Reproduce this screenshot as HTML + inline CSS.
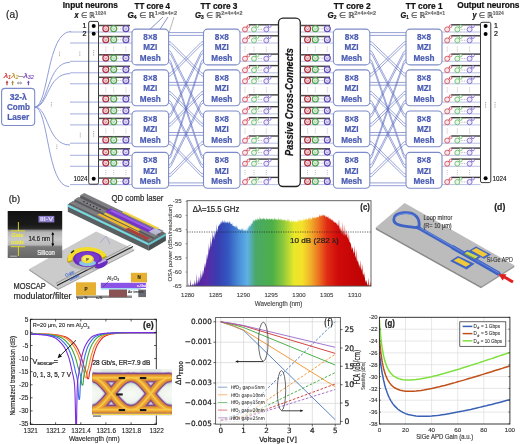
<!DOCTYPE html>
<html><head><meta charset="utf-8"><title>Tensor-train photonic neural network</title>
<style>
html,body{margin:0;padding:0;background:#fff;overflow:hidden;}
svg{display:block;}
svg text{font-family:"Liberation Sans","DejaVu Sans",sans-serif;}
</style></head><body>
<svg width="520" height="444" viewBox="0 0 520 444">
<rect width="520" height="444" fill="#fff"/>
<text x="6.1" y="18.4" font-size="10.4" fill="#2a2a2a" font-weight="normal" font-style="normal" text-anchor="start" textLength="12.4" lengthAdjust="spacingAndGlyphs"  stroke="#2a2a2a" stroke-width="0.22">(a)</text>
<text x="62.8" y="8.3" font-size="8.3" fill="#111" font-weight="bold" font-style="normal" text-anchor="start" textLength="55" lengthAdjust="spacingAndGlyphs"  stroke="#111" stroke-width="0.22">Input neurons</text>
<text x="74.6" y="17.6" font-size="8.2" fill="#111" font-weight="bold" textLength="31.4" lengthAdjust="spacingAndGlyphs" stroke="#111" stroke-width="0.22"><tspan font-style="italic">x</tspan><tspan font-weight="normal" fill="#555" stroke="#555" stroke-width="0.22"> ∈ ℝ</tspan><tspan font-size="5.6" dy="-3" fill="#666" stroke="#666" stroke-width="0.12">1024</tspan></text>
<text x="134.5" y="8.6" font-size="8.2" fill="#111" font-weight="bold" font-style="normal" text-anchor="start" textLength="35.5" lengthAdjust="spacingAndGlyphs"  stroke="#111" stroke-width="0.22">TT core 4</text>
<text x="127.5" y="17.6" font-size="8.2" fill="#111" font-weight="bold" textLength="49.5" lengthAdjust="spacingAndGlyphs" stroke="#111" stroke-width="0.22"><tspan font-style="italic">G</tspan><tspan font-size="5" dy="1.5">4</tspan><tspan dy="-1.5" font-weight="normal" fill="#555" stroke="#555" stroke-width="0.22"> ∈ ℝ</tspan><tspan font-size="5.6" dy="-3" fill="#666" stroke="#666" stroke-width="0.12">1×8×4×2</tspan></text>
<text x="200.5" y="8.6" font-size="8.2" fill="#111" font-weight="bold" font-style="normal" text-anchor="start" textLength="37.0" lengthAdjust="spacingAndGlyphs"  stroke="#111" stroke-width="0.22">TT core 3</text>
<text x="195" y="17.6" font-size="8.2" fill="#111" font-weight="bold" textLength="47.5" lengthAdjust="spacingAndGlyphs" stroke="#111" stroke-width="0.22"><tspan font-style="italic">G</tspan><tspan font-size="5" dy="1.5">3</tspan><tspan dy="-1.5" font-weight="normal" fill="#555" stroke="#555" stroke-width="0.22"> ∈ ℝ</tspan><tspan font-size="5.6" dy="-3" fill="#666" stroke="#666" stroke-width="0.12">2×4×4×2</tspan></text>
<text x="333.7" y="8.6" font-size="8.2" fill="#111" font-weight="bold" font-style="normal" text-anchor="start" textLength="37.0" lengthAdjust="spacingAndGlyphs"  stroke="#111" stroke-width="0.22">TT core 2</text>
<text x="327.5" y="17.6" font-size="8.2" fill="#111" font-weight="bold" textLength="48.5" lengthAdjust="spacingAndGlyphs" stroke="#111" stroke-width="0.22"><tspan font-style="italic">G</tspan><tspan font-size="5" dy="1.5">2</tspan><tspan dy="-1.5" font-weight="normal" fill="#555" stroke="#555" stroke-width="0.22"> ∈ ℝ</tspan><tspan font-size="5.6" dy="-3" fill="#666" stroke="#666" stroke-width="0.12">2×4×4×2</tspan></text>
<text x="405.7" y="8.6" font-size="8.2" fill="#111" font-weight="bold" font-style="normal" text-anchor="start" textLength="36.80000000000001" lengthAdjust="spacingAndGlyphs"  stroke="#111" stroke-width="0.22">TT core 1</text>
<text x="400.5" y="17.6" font-size="8.2" fill="#111" font-weight="bold" textLength="44.5" lengthAdjust="spacingAndGlyphs" stroke="#111" stroke-width="0.22"><tspan font-style="italic">G</tspan><tspan font-size="5" dy="1.5">1</tspan><tspan dy="-1.5" font-weight="normal" fill="#555" stroke="#555" stroke-width="0.22"> ∈ ℝ</tspan><tspan font-size="5.6" dy="-3" fill="#666" stroke="#666" stroke-width="0.12">2×4×8×1</tspan></text>
<text x="457.2" y="7.6" font-size="8.3" fill="#111" font-weight="bold" font-style="normal" text-anchor="start"  stroke="#111" stroke-width="0.22">Output neurons</text>
<text x="472.4" y="17.6" font-size="8.2" fill="#111" font-weight="bold" textLength="31.4" lengthAdjust="spacingAndGlyphs" stroke="#111" stroke-width="0.22"><tspan font-style="italic">y</tspan><tspan font-weight="normal" fill="#555" stroke="#555" stroke-width="0.22"> ∈ ℝ</tspan><tspan font-size="5.6" dy="-3" fill="#666" stroke="#666" stroke-width="0.12">1024</tspan></text>
<line x1="163" y1="17" x2="144.5" y2="34.5" stroke="#5060b0" stroke-width="0.7"/>
<line x1="168" y1="17" x2="156.5" y2="34.5" stroke="#5060b0" stroke-width="0.7"/>
<circle cx="144.8" cy="34.3" r="0.9" fill="#3848a0"/><circle cx="156.6" cy="34.3" r="0.9" fill="#3848a0"/>
<path d="M174,17 L169,33" stroke="#999" stroke-width="0.7" fill="none"/>
<rect x="1.6" y="88.4" width="33.1" height="37.1" rx="3.5" fill="#fff" stroke="#7d8cc8" stroke-width="1.1"/>
<text x="18.3" y="100.2" font-size="8.4" fill="#4b5db3" font-weight="bold" font-style="normal" text-anchor="middle" textLength="17" lengthAdjust="spacingAndGlyphs"  stroke="#4b5db3" stroke-width="0.22">32-λ</text>
<text x="18.5" y="110.0" font-size="8.4" fill="#4b5db3" font-weight="bold" font-style="normal" text-anchor="middle" textLength="23" lengthAdjust="spacingAndGlyphs"  stroke="#4b5db3" stroke-width="0.22">Comb</text>
<text x="18.2" y="120.2" font-size="8.4" fill="#4b5db3" font-weight="bold" font-style="normal" text-anchor="middle" textLength="22.1" lengthAdjust="spacingAndGlyphs"  stroke="#4b5db3" stroke-width="0.22">Laser</text>
<text x="3.8" y="77.6" font-size="8" font-style="italic" textLength="30" lengthAdjust="spacingAndGlyphs"><tspan fill="#d03030" stroke="#d03030" stroke-width="0.22">λ</tspan><tspan fill="#d03030" font-size="5" dy="1" stroke="#d03030" stroke-width="0.12">1</tspan><tspan fill="#c09020" dy="-1" stroke="#c09020" stroke-width="0.22">λ</tspan><tspan fill="#c09020" font-size="5" dy="1" stroke="#c09020" stroke-width="0.12">2</tspan><tspan fill="#666" dy="-1" font-style="normal" stroke="#666" stroke-width="0.22">–</tspan><tspan fill="#7040b0" stroke="#7040b0" stroke-width="0.22">λ</tspan><tspan fill="#7040b0" font-size="5" dy="1" stroke="#7040b0" stroke-width="0.12">32</tspan></text>
<line x1="7" y1="85.2" x2="7" y2="82" stroke="#b03030" stroke-width="1.1"/><path d="M5.6,82.8 L7,80.4 L8.4,82.8 Z" fill="#b03030"/>
<line x1="12.6" y1="85.2" x2="12.6" y2="82" stroke="#a09030" stroke-width="1.1"/><path d="M11.2,82.8 L12.6,80.4 L14.0,82.8 Z" fill="#a09030"/>
<line x1="28.4" y1="85.2" x2="28.4" y2="82" stroke="#7040b0" stroke-width="1.1"/><path d="M27.0,82.8 L28.4,80.4 L29.799999999999997,82.8 Z" fill="#7040b0"/>
<path d="M17.6,83 L21.4,83 M18.6,82 L17.4,83 L18.6,84 M20.4,82 L21.6,83 L20.4,84" stroke="#666" stroke-width="0.7" fill="none"/>
<path d="M34.7,107 C48.7,107 46.7,31.5 71,31.5" fill="none" stroke="#8593d2" stroke-width="0.9"/>
<path d="M34.7,107 C48.7,107 46.7,62.3 70,62.3" fill="none" stroke="#8593d2" stroke-width="0.9"/>
<path d="M34.7,107 C48.7,107 46.7,73.6 70,73.6" fill="none" stroke="#8593d2" stroke-width="0.9"/>
<path d="M34.7,107 C48.7,107 46.7,145 70,145" fill="none" stroke="#8593d2" stroke-width="0.9"/>
<path d="M34.7,107 C48.7,107 46.7,186.6 69,186.6" fill="none" stroke="#8593d2" stroke-width="0.9"/>
<line x1="59.5" y1="51.5" x2="59.5" y2="56.5" stroke="#a09080" stroke-width="0.8" stroke-dasharray="1,0.8"/>
<line x1="79.8" y1="51.5" x2="79.8" y2="56.5" stroke="#a09080" stroke-width="0.8" stroke-dasharray="1,0.8"/>
<line x1="80.3" y1="132.8" x2="80.3" y2="137.8" stroke="#a09080" stroke-width="0.8" stroke-dasharray="1,0.8"/>
<line x1="56.8" y1="144.5" x2="56.8" y2="149.5" stroke="#a09080" stroke-width="0.8" stroke-dasharray="1,0.8"/>
<line x1="51.4" y1="102.0" x2="51.4" y2="107.0" stroke="#a09080" stroke-width="0.8" stroke-dasharray="1,0.8"/>
<line x1="70" y1="32.0" x2="132" y2="32.0" stroke="#8593d2" stroke-width="0.75"/>
<line x1="70" y1="43.0" x2="132" y2="43.0" stroke="#8593d2" stroke-width="0.75"/>
<line x1="70" y1="61.3" x2="132" y2="61.3" stroke="#8593d2" stroke-width="0.75"/>
<line x1="70" y1="72.8" x2="132" y2="72.8" stroke="#8593d2" stroke-width="0.75"/>
<line x1="70" y1="83.8" x2="132" y2="83.8" stroke="#8593d2" stroke-width="0.75"/>
<line x1="70" y1="102.1" x2="132" y2="102.1" stroke="#8593d2" stroke-width="0.75"/>
<line x1="70" y1="113.9" x2="132" y2="113.9" stroke="#8593d2" stroke-width="0.75"/>
<line x1="70" y1="124.9" x2="132" y2="124.9" stroke="#8593d2" stroke-width="0.75"/>
<line x1="70" y1="143.2" x2="132" y2="143.2" stroke="#8593d2" stroke-width="0.75"/>
<line x1="70" y1="155.3" x2="132" y2="155.3" stroke="#8593d2" stroke-width="0.75"/>
<line x1="70" y1="166.3" x2="132" y2="166.3" stroke="#8593d2" stroke-width="0.75"/>
<line x1="70" y1="184.6" x2="132" y2="184.6" stroke="#8593d2" stroke-width="0.75"/>
<line x1="240" y1="32.0" x2="278.5" y2="32.0" stroke="#a0aad8" stroke-width="0.75"/>
<line x1="240" y1="43.0" x2="278.5" y2="43.0" stroke="#a0aad8" stroke-width="0.75"/>
<line x1="240" y1="61.3" x2="278.5" y2="61.3" stroke="#a0aad8" stroke-width="0.75"/>
<line x1="240" y1="72.8" x2="278.5" y2="72.8" stroke="#a0aad8" stroke-width="0.75"/>
<line x1="240" y1="83.8" x2="278.5" y2="83.8" stroke="#a0aad8" stroke-width="0.75"/>
<line x1="240" y1="102.1" x2="278.5" y2="102.1" stroke="#a0aad8" stroke-width="0.75"/>
<line x1="240" y1="113.9" x2="278.5" y2="113.9" stroke="#a0aad8" stroke-width="0.75"/>
<line x1="240" y1="124.9" x2="278.5" y2="124.9" stroke="#a0aad8" stroke-width="0.75"/>
<line x1="240" y1="143.2" x2="278.5" y2="143.2" stroke="#a0aad8" stroke-width="0.75"/>
<line x1="240" y1="155.3" x2="278.5" y2="155.3" stroke="#a0aad8" stroke-width="0.75"/>
<line x1="240" y1="166.3" x2="278.5" y2="166.3" stroke="#a0aad8" stroke-width="0.75"/>
<line x1="240" y1="184.6" x2="278.5" y2="184.6" stroke="#a0aad8" stroke-width="0.75"/>
<line x1="300.3" y1="32.0" x2="333.4" y2="32.0" stroke="#a0aad8" stroke-width="0.75"/>
<line x1="300.3" y1="43.0" x2="333.4" y2="43.0" stroke="#a0aad8" stroke-width="0.75"/>
<line x1="300.3" y1="61.3" x2="333.4" y2="61.3" stroke="#a0aad8" stroke-width="0.75"/>
<line x1="300.3" y1="72.8" x2="333.4" y2="72.8" stroke="#a0aad8" stroke-width="0.75"/>
<line x1="300.3" y1="83.8" x2="333.4" y2="83.8" stroke="#a0aad8" stroke-width="0.75"/>
<line x1="300.3" y1="102.1" x2="333.4" y2="102.1" stroke="#a0aad8" stroke-width="0.75"/>
<line x1="300.3" y1="113.9" x2="333.4" y2="113.9" stroke="#a0aad8" stroke-width="0.75"/>
<line x1="300.3" y1="124.9" x2="333.4" y2="124.9" stroke="#a0aad8" stroke-width="0.75"/>
<line x1="300.3" y1="143.2" x2="333.4" y2="143.2" stroke="#a0aad8" stroke-width="0.75"/>
<line x1="300.3" y1="155.3" x2="333.4" y2="155.3" stroke="#a0aad8" stroke-width="0.75"/>
<line x1="300.3" y1="166.3" x2="333.4" y2="166.3" stroke="#a0aad8" stroke-width="0.75"/>
<line x1="300.3" y1="184.6" x2="333.4" y2="184.6" stroke="#a0aad8" stroke-width="0.75"/>
<line x1="442" y1="32.0" x2="480.5" y2="32.0" stroke="#a0aad8" stroke-width="0.75"/>
<line x1="442" y1="43.0" x2="480.5" y2="43.0" stroke="#a0aad8" stroke-width="0.75"/>
<line x1="442" y1="61.3" x2="480.5" y2="61.3" stroke="#a0aad8" stroke-width="0.75"/>
<line x1="442" y1="72.8" x2="480.5" y2="72.8" stroke="#a0aad8" stroke-width="0.75"/>
<line x1="442" y1="83.8" x2="480.5" y2="83.8" stroke="#a0aad8" stroke-width="0.75"/>
<line x1="442" y1="102.1" x2="480.5" y2="102.1" stroke="#a0aad8" stroke-width="0.75"/>
<line x1="442" y1="113.9" x2="480.5" y2="113.9" stroke="#a0aad8" stroke-width="0.75"/>
<line x1="442" y1="124.9" x2="480.5" y2="124.9" stroke="#a0aad8" stroke-width="0.75"/>
<line x1="442" y1="143.2" x2="480.5" y2="143.2" stroke="#a0aad8" stroke-width="0.75"/>
<line x1="442" y1="155.3" x2="480.5" y2="155.3" stroke="#a0aad8" stroke-width="0.75"/>
<line x1="442" y1="166.3" x2="480.5" y2="166.3" stroke="#a0aad8" stroke-width="0.75"/>
<line x1="442" y1="184.6" x2="480.5" y2="184.6" stroke="#a0aad8" stroke-width="0.75"/>
<line x1="168.6" y1="32.6" x2="203.5" y2="32.6" stroke="#7c8acc" stroke-width="0.8"/>
<line x1="168.6" y1="35.4" x2="203.5" y2="35.4" stroke="#7c8acc" stroke-width="0.8"/>
<path d="M168.6,41.6 Q170.4,41.6 171.2,42.6 L200.9,72.4 Q201.7,73.4 203.5,73.4" fill="none" stroke="#5868c0" stroke-width="0.6"/>
<path d="M168.6,44.4 Q170.4,44.4 171.2,45.4 L200.9,75.2 Q201.7,76.2 203.5,76.2" fill="none" stroke="#5868c0" stroke-width="0.6"/>
<path d="M168.6,50.6 Q170.4,50.6 171.2,52.5 L200.9,112.6 Q201.7,114.5 203.5,114.5" fill="none" stroke="#5868c0" stroke-width="0.6"/>
<path d="M168.6,53.4 Q170.4,53.4 171.2,55.3 L200.9,115.4 Q201.7,117.3 203.5,117.3" fill="none" stroke="#5868c0" stroke-width="0.6"/>
<path d="M168.6,59.6 Q170.4,59.6 171.2,62.5 L200.9,153.0 Q201.7,155.9 203.5,155.9" fill="none" stroke="#5868c0" stroke-width="0.6"/>
<path d="M168.6,62.4 Q170.4,62.4 171.2,65.3 L200.9,155.8 Q201.7,158.7 203.5,158.7" fill="none" stroke="#5868c0" stroke-width="0.6"/>
<path d="M168.6,73.4 Q170.4,73.4 171.2,72.4 L200.9,42.6 Q201.7,41.6 203.5,41.6" fill="none" stroke="#5868c0" stroke-width="0.6"/>
<path d="M168.6,76.2 Q170.4,76.2 171.2,75.2 L200.9,45.4 Q201.7,44.4 203.5,44.4" fill="none" stroke="#5868c0" stroke-width="0.6"/>
<line x1="168.6" y1="82.4" x2="203.5" y2="82.4" stroke="#7c8acc" stroke-width="0.8"/>
<line x1="168.6" y1="85.2" x2="203.5" y2="85.2" stroke="#7c8acc" stroke-width="0.8"/>
<path d="M168.6,91.4 Q170.4,91.4 171.2,92.4 L200.9,122.5 Q201.7,123.5 203.5,123.5" fill="none" stroke="#5868c0" stroke-width="0.6"/>
<path d="M168.6,94.2 Q170.4,94.2 171.2,95.2 L200.9,125.3 Q201.7,126.3 203.5,126.3" fill="none" stroke="#5868c0" stroke-width="0.6"/>
<path d="M168.6,100.4 Q170.4,100.4 171.2,102.3 L200.9,163.0 Q201.7,164.9 203.5,164.9" fill="none" stroke="#5868c0" stroke-width="0.6"/>
<path d="M168.6,103.2 Q170.4,103.2 171.2,105.1 L200.9,165.8 Q201.7,167.7 203.5,167.7" fill="none" stroke="#5868c0" stroke-width="0.6"/>
<path d="M168.6,114.5 Q170.4,114.5 171.2,112.6 L200.9,52.5 Q201.7,50.6 203.5,50.6" fill="none" stroke="#5868c0" stroke-width="0.6"/>
<path d="M168.6,117.3 Q170.4,117.3 171.2,115.4 L200.9,55.3 Q201.7,53.4 203.5,53.4" fill="none" stroke="#5868c0" stroke-width="0.6"/>
<path d="M168.6,123.5 Q170.4,123.5 171.2,122.5 L200.9,92.4 Q201.7,91.4 203.5,91.4" fill="none" stroke="#5868c0" stroke-width="0.6"/>
<path d="M168.6,126.3 Q170.4,126.3 171.2,125.3 L200.9,95.2 Q201.7,94.2 203.5,94.2" fill="none" stroke="#5868c0" stroke-width="0.6"/>
<line x1="168.6" y1="132.5" x2="203.5" y2="132.5" stroke="#7c8acc" stroke-width="0.8"/>
<line x1="168.6" y1="135.3" x2="203.5" y2="135.3" stroke="#7c8acc" stroke-width="0.8"/>
<path d="M168.6,141.5 Q170.4,141.5 171.2,142.5 L200.9,172.9 Q201.7,173.9 203.5,173.9" fill="none" stroke="#5868c0" stroke-width="0.6"/>
<path d="M168.6,144.3 Q170.4,144.3 171.2,145.3 L200.9,175.7 Q201.7,176.7 203.5,176.7" fill="none" stroke="#5868c0" stroke-width="0.6"/>
<path d="M168.6,155.9 Q170.4,155.9 171.2,153.0 L200.9,62.5 Q201.7,59.6 203.5,59.6" fill="none" stroke="#5868c0" stroke-width="0.6"/>
<path d="M168.6,158.7 Q170.4,158.7 171.2,155.8 L200.9,65.3 Q201.7,62.4 203.5,62.4" fill="none" stroke="#5868c0" stroke-width="0.6"/>
<path d="M168.6,164.9 Q170.4,164.9 171.2,163.0 L200.9,102.3 Q201.7,100.4 203.5,100.4" fill="none" stroke="#5868c0" stroke-width="0.6"/>
<path d="M168.6,167.7 Q170.4,167.7 171.2,165.8 L200.9,105.1 Q201.7,103.2 203.5,103.2" fill="none" stroke="#5868c0" stroke-width="0.6"/>
<path d="M168.6,173.9 Q170.4,173.9 171.2,172.9 L200.9,142.5 Q201.7,141.5 203.5,141.5" fill="none" stroke="#5868c0" stroke-width="0.6"/>
<path d="M168.6,176.7 Q170.4,176.7 171.2,175.7 L200.9,145.3 Q201.7,144.3 203.5,144.3" fill="none" stroke="#5868c0" stroke-width="0.6"/>
<line x1="168.6" y1="182.9" x2="203.5" y2="182.9" stroke="#7c8acc" stroke-width="0.8"/>
<line x1="168.6" y1="185.7" x2="203.5" y2="185.7" stroke="#7c8acc" stroke-width="0.8"/>
<line x1="369.8" y1="32.6" x2="406" y2="32.6" stroke="#7c8acc" stroke-width="0.8"/>
<line x1="369.8" y1="35.4" x2="406" y2="35.4" stroke="#7c8acc" stroke-width="0.8"/>
<path d="M369.8,41.6 Q371.6,41.6 372.4,42.6 L403.4,72.4 Q404.2,73.4 406,73.4" fill="none" stroke="#5868c0" stroke-width="0.6"/>
<path d="M369.8,44.4 Q371.6,44.4 372.4,45.4 L403.4,75.2 Q404.2,76.2 406,76.2" fill="none" stroke="#5868c0" stroke-width="0.6"/>
<path d="M369.8,50.6 Q371.6,50.6 372.4,52.5 L403.4,112.6 Q404.2,114.5 406,114.5" fill="none" stroke="#5868c0" stroke-width="0.6"/>
<path d="M369.8,53.4 Q371.6,53.4 372.4,55.3 L403.4,115.4 Q404.2,117.3 406,117.3" fill="none" stroke="#5868c0" stroke-width="0.6"/>
<path d="M369.8,59.6 Q371.6,59.6 372.4,62.5 L403.4,153.0 Q404.2,155.9 406,155.9" fill="none" stroke="#5868c0" stroke-width="0.6"/>
<path d="M369.8,62.4 Q371.6,62.4 372.4,65.3 L403.4,155.8 Q404.2,158.7 406,158.7" fill="none" stroke="#5868c0" stroke-width="0.6"/>
<path d="M369.8,73.4 Q371.6,73.4 372.4,72.4 L403.4,42.6 Q404.2,41.6 406,41.6" fill="none" stroke="#5868c0" stroke-width="0.6"/>
<path d="M369.8,76.2 Q371.6,76.2 372.4,75.2 L403.4,45.4 Q404.2,44.4 406,44.4" fill="none" stroke="#5868c0" stroke-width="0.6"/>
<line x1="369.8" y1="82.4" x2="406" y2="82.4" stroke="#7c8acc" stroke-width="0.8"/>
<line x1="369.8" y1="85.2" x2="406" y2="85.2" stroke="#7c8acc" stroke-width="0.8"/>
<path d="M369.8,91.4 Q371.6,91.4 372.4,92.4 L403.4,122.5 Q404.2,123.5 406,123.5" fill="none" stroke="#5868c0" stroke-width="0.6"/>
<path d="M369.8,94.2 Q371.6,94.2 372.4,95.2 L403.4,125.3 Q404.2,126.3 406,126.3" fill="none" stroke="#5868c0" stroke-width="0.6"/>
<path d="M369.8,100.4 Q371.6,100.4 372.4,102.3 L403.4,163.0 Q404.2,164.9 406,164.9" fill="none" stroke="#5868c0" stroke-width="0.6"/>
<path d="M369.8,103.2 Q371.6,103.2 372.4,105.1 L403.4,165.8 Q404.2,167.7 406,167.7" fill="none" stroke="#5868c0" stroke-width="0.6"/>
<path d="M369.8,114.5 Q371.6,114.5 372.4,112.6 L403.4,52.5 Q404.2,50.6 406,50.6" fill="none" stroke="#5868c0" stroke-width="0.6"/>
<path d="M369.8,117.3 Q371.6,117.3 372.4,115.4 L403.4,55.3 Q404.2,53.4 406,53.4" fill="none" stroke="#5868c0" stroke-width="0.6"/>
<path d="M369.8,123.5 Q371.6,123.5 372.4,122.5 L403.4,92.4 Q404.2,91.4 406,91.4" fill="none" stroke="#5868c0" stroke-width="0.6"/>
<path d="M369.8,126.3 Q371.6,126.3 372.4,125.3 L403.4,95.2 Q404.2,94.2 406,94.2" fill="none" stroke="#5868c0" stroke-width="0.6"/>
<line x1="369.8" y1="132.5" x2="406" y2="132.5" stroke="#7c8acc" stroke-width="0.8"/>
<line x1="369.8" y1="135.3" x2="406" y2="135.3" stroke="#7c8acc" stroke-width="0.8"/>
<path d="M369.8,141.5 Q371.6,141.5 372.4,142.5 L403.4,172.9 Q404.2,173.9 406,173.9" fill="none" stroke="#5868c0" stroke-width="0.6"/>
<path d="M369.8,144.3 Q371.6,144.3 372.4,145.3 L403.4,175.7 Q404.2,176.7 406,176.7" fill="none" stroke="#5868c0" stroke-width="0.6"/>
<path d="M369.8,155.9 Q371.6,155.9 372.4,153.0 L403.4,62.5 Q404.2,59.6 406,59.6" fill="none" stroke="#5868c0" stroke-width="0.6"/>
<path d="M369.8,158.7 Q371.6,158.7 372.4,155.8 L403.4,65.3 Q404.2,62.4 406,62.4" fill="none" stroke="#5868c0" stroke-width="0.6"/>
<path d="M369.8,164.9 Q371.6,164.9 372.4,163.0 L403.4,102.3 Q404.2,100.4 406,100.4" fill="none" stroke="#5868c0" stroke-width="0.6"/>
<path d="M369.8,167.7 Q371.6,167.7 372.4,165.8 L403.4,105.1 Q404.2,103.2 406,103.2" fill="none" stroke="#5868c0" stroke-width="0.6"/>
<path d="M369.8,173.9 Q371.6,173.9 372.4,172.9 L403.4,142.5 Q404.2,141.5 406,141.5" fill="none" stroke="#5868c0" stroke-width="0.6"/>
<path d="M369.8,176.7 Q371.6,176.7 372.4,175.7 L403.4,145.3 Q404.2,144.3 406,144.3" fill="none" stroke="#5868c0" stroke-width="0.6"/>
<line x1="369.8" y1="182.9" x2="406" y2="182.9" stroke="#7c8acc" stroke-width="0.8"/>
<line x1="369.8" y1="185.7" x2="406" y2="185.7" stroke="#7c8acc" stroke-width="0.8"/>
<rect x="88.7" y="21.4" width="9.8" height="162.8" rx="1.5" fill="none" stroke="#3a3a3a" stroke-width="1"/>
<circle cx="93.7" cy="25.9" r="2" fill="#000"/><circle cx="93.7" cy="33.7" r="2" fill="#000"/><circle cx="93.7" cy="178.8" r="2" fill="#000"/>
<text x="84.5" y="28.0" font-size="7" fill="#111" font-weight="normal" font-style="normal" text-anchor="middle"  stroke="#111" stroke-width="0.22">1</text>
<text x="84.5" y="36.3" font-size="7" fill="#111" font-weight="normal" font-style="normal" text-anchor="middle"  stroke="#111" stroke-width="0.22">2</text>
<text x="87.6" y="181.1" font-size="6.3" fill="#111" font-weight="normal" font-style="normal" text-anchor="end"  stroke="#111" stroke-width="0.12">1024</text>
<line x1="93.7" y1="50" x2="93.7" y2="56" stroke="#888" stroke-width="0.8" stroke-dasharray="1,0.8"/>
<line x1="93.7" y1="131" x2="93.7" y2="137" stroke="#888" stroke-width="0.8" stroke-dasharray="1,0.8"/>
<rect x="480.5" y="22.3" width="10.3" height="160.3" rx="1.5" fill="none" stroke="#3a3a3a" stroke-width="1"/>
<circle cx="485.6" cy="25.9" r="2" fill="#000"/><circle cx="485.6" cy="34.0" r="2" fill="#000"/><circle cx="485.6" cy="178.3" r="2" fill="#000"/>
<text x="494.0" y="28.3" font-size="7" fill="#111" font-weight="normal" font-style="normal" text-anchor="start"  stroke="#111" stroke-width="0.22">1</text>
<text x="494.0" y="36.4" font-size="7" fill="#111" font-weight="normal" font-style="normal" text-anchor="start"  stroke="#111" stroke-width="0.22">2</text>
<text x="492.5" y="181.1" font-size="6.3" fill="#111" font-weight="normal" font-style="normal" text-anchor="start"  stroke="#111" stroke-width="0.12">1024</text>
<line x1="485.6" y1="102" x2="485.6" y2="108" stroke="#888" stroke-width="0.8" stroke-dasharray="1,0.8"/>
<line x1="495" y1="102" x2="495" y2="108" stroke="#888" stroke-width="0.8" stroke-dasharray="1,0.8"/>
<rect x="278.5" y="18.1" width="21.8" height="168.4" rx="4.5" fill="#fff" stroke="#222" stroke-width="1.3"/>
<text x="0" y="0" font-size="10.4" font-weight="bold" font-style="italic" fill="#111" text-anchor="middle" textLength="108" lengthAdjust="spacingAndGlyphs" transform="translate(292.6,102) rotate(-90)" stroke="#111" stroke-width="0.22">Passive Cross-Connects</text>
<line x1="98.5" y1="25.5" x2="130" y2="25.5" stroke="#4e4c4c" stroke-width="1.5"/>
<circle cx="105.8" cy="28.8" r="3.0" fill="#f4d4d8" stroke="#a82838" stroke-width="1.05"/><path d="M104.6,28.5 Q105.8,30.4 107.0,28.5" fill="none" stroke="#a82838" stroke-width="0.6" stroke-opacity="0.8"/>
<circle cx="113.7" cy="28.8" r="3.0" fill="#dcf0dc" stroke="#4a9e4a" stroke-width="1.05"/><path d="M112.5,28.5 Q113.7,30.4 114.9,28.5" fill="none" stroke="#4a9e4a" stroke-width="0.6" stroke-opacity="0.8"/>
<circle cx="125.9" cy="28.8" r="3.0" fill="#e2dcf4" stroke="#5a44b0" stroke-width="1.05"/><path d="M124.7,28.5 Q125.9,30.4 127.1,28.5" fill="none" stroke="#5a44b0" stroke-width="0.6" stroke-opacity="0.8"/>
<line x1="117.3" y1="28.8" x2="122.3" y2="28.8" stroke="#b8b8c8" stroke-width="0.8" stroke-dasharray="1.5,1"/>
<line x1="98.5" y1="36.5" x2="130" y2="36.5" stroke="#4e4c4c" stroke-width="1.5"/>
<circle cx="105.8" cy="39.8" r="3.0" fill="#f4d4d8" stroke="#a82838" stroke-width="1.05"/><path d="M104.6,39.5 Q105.8,41.4 107.0,39.5" fill="none" stroke="#a82838" stroke-width="0.6" stroke-opacity="0.8"/>
<circle cx="113.7" cy="39.8" r="3.0" fill="#dcf0dc" stroke="#4a9e4a" stroke-width="1.05"/><path d="M112.5,39.5 Q113.7,41.4 114.9,39.5" fill="none" stroke="#4a9e4a" stroke-width="0.6" stroke-opacity="0.8"/>
<circle cx="125.9" cy="39.8" r="3.0" fill="#e2dcf4" stroke="#5a44b0" stroke-width="1.05"/><path d="M124.7,39.5 Q125.9,41.4 127.1,39.5" fill="none" stroke="#5a44b0" stroke-width="0.6" stroke-opacity="0.8"/>
<line x1="117.3" y1="39.8" x2="122.3" y2="39.8" stroke="#b8b8c8" stroke-width="0.8" stroke-dasharray="1.5,1"/>
<line x1="98.5" y1="54.8" x2="130" y2="54.8" stroke="#4e4c4c" stroke-width="1.5"/>
<circle cx="105.8" cy="58.1" r="3.0" fill="#f4d4d8" stroke="#a82838" stroke-width="1.05"/><path d="M104.6,57.8 Q105.8,59.7 107.0,57.8" fill="none" stroke="#a82838" stroke-width="0.6" stroke-opacity="0.8"/>
<circle cx="113.7" cy="58.1" r="3.0" fill="#dcf0dc" stroke="#4a9e4a" stroke-width="1.05"/><path d="M112.5,57.8 Q113.7,59.7 114.9,57.8" fill="none" stroke="#4a9e4a" stroke-width="0.6" stroke-opacity="0.8"/>
<circle cx="125.9" cy="58.1" r="3.0" fill="#e2dcf4" stroke="#5a44b0" stroke-width="1.05"/><path d="M124.7,57.8 Q125.9,59.7 127.1,57.8" fill="none" stroke="#5a44b0" stroke-width="0.6" stroke-opacity="0.8"/>
<line x1="117.3" y1="58.1" x2="122.3" y2="58.1" stroke="#b8b8c8" stroke-width="0.8" stroke-dasharray="1.5,1"/>
<line x1="105.8" y1="46.6" x2="105.8" y2="52.6" stroke="#a89898" stroke-opacity="0.8" stroke-width="0.8" stroke-dasharray="1,1"/>
<line x1="113.7" y1="46.6" x2="113.7" y2="52.6" stroke="#a89898" stroke-opacity="0.8" stroke-width="0.8" stroke-dasharray="1,1"/>
<line x1="125.9" y1="46.6" x2="125.9" y2="52.6" stroke="#a89898" stroke-opacity="0.8" stroke-width="0.8" stroke-dasharray="1,1"/>
<line x1="98.5" y1="66.3" x2="130" y2="66.3" stroke="#4e4c4c" stroke-width="1.5"/>
<circle cx="105.8" cy="69.6" r="3.0" fill="#f4d4d8" stroke="#a82838" stroke-width="1.05"/><path d="M104.6,69.3 Q105.8,71.2 107.0,69.3" fill="none" stroke="#a82838" stroke-width="0.6" stroke-opacity="0.8"/>
<circle cx="113.7" cy="69.6" r="3.0" fill="#dcf0dc" stroke="#4a9e4a" stroke-width="1.05"/><path d="M112.5,69.3 Q113.7,71.2 114.9,69.3" fill="none" stroke="#4a9e4a" stroke-width="0.6" stroke-opacity="0.8"/>
<circle cx="125.9" cy="69.6" r="3.0" fill="#e2dcf4" stroke="#5a44b0" stroke-width="1.05"/><path d="M124.7,69.3 Q125.9,71.2 127.1,69.3" fill="none" stroke="#5a44b0" stroke-width="0.6" stroke-opacity="0.8"/>
<line x1="117.3" y1="69.6" x2="122.3" y2="69.6" stroke="#b8b8c8" stroke-width="0.8" stroke-dasharray="1.5,1"/>
<line x1="98.5" y1="77.3" x2="130" y2="77.3" stroke="#4e4c4c" stroke-width="1.5"/>
<circle cx="105.8" cy="80.6" r="3.0" fill="#f4d4d8" stroke="#a82838" stroke-width="1.05"/><path d="M104.6,80.3 Q105.8,82.2 107.0,80.3" fill="none" stroke="#a82838" stroke-width="0.6" stroke-opacity="0.8"/>
<circle cx="113.7" cy="80.6" r="3.0" fill="#dcf0dc" stroke="#4a9e4a" stroke-width="1.05"/><path d="M112.5,80.3 Q113.7,82.2 114.9,80.3" fill="none" stroke="#4a9e4a" stroke-width="0.6" stroke-opacity="0.8"/>
<circle cx="125.9" cy="80.6" r="3.0" fill="#e2dcf4" stroke="#5a44b0" stroke-width="1.05"/><path d="M124.7,80.3 Q125.9,82.2 127.1,80.3" fill="none" stroke="#5a44b0" stroke-width="0.6" stroke-opacity="0.8"/>
<line x1="117.3" y1="80.6" x2="122.3" y2="80.6" stroke="#b8b8c8" stroke-width="0.8" stroke-dasharray="1.5,1"/>
<line x1="98.5" y1="95.6" x2="130" y2="95.6" stroke="#4e4c4c" stroke-width="1.5"/>
<circle cx="105.8" cy="98.9" r="3.0" fill="#f4d4d8" stroke="#a82838" stroke-width="1.05"/><path d="M104.6,98.6 Q105.8,100.5 107.0,98.6" fill="none" stroke="#a82838" stroke-width="0.6" stroke-opacity="0.8"/>
<circle cx="113.7" cy="98.9" r="3.0" fill="#dcf0dc" stroke="#4a9e4a" stroke-width="1.05"/><path d="M112.5,98.6 Q113.7,100.5 114.9,98.6" fill="none" stroke="#4a9e4a" stroke-width="0.6" stroke-opacity="0.8"/>
<circle cx="125.9" cy="98.9" r="3.0" fill="#e2dcf4" stroke="#5a44b0" stroke-width="1.05"/><path d="M124.7,98.6 Q125.9,100.5 127.1,98.6" fill="none" stroke="#5a44b0" stroke-width="0.6" stroke-opacity="0.8"/>
<line x1="117.3" y1="98.9" x2="122.3" y2="98.9" stroke="#b8b8c8" stroke-width="0.8" stroke-dasharray="1.5,1"/>
<line x1="105.8" y1="87.4" x2="105.8" y2="93.4" stroke="#a89898" stroke-opacity="0.8" stroke-width="0.8" stroke-dasharray="1,1"/>
<line x1="113.7" y1="87.4" x2="113.7" y2="93.4" stroke="#a89898" stroke-opacity="0.8" stroke-width="0.8" stroke-dasharray="1,1"/>
<line x1="125.9" y1="87.4" x2="125.9" y2="93.4" stroke="#a89898" stroke-opacity="0.8" stroke-width="0.8" stroke-dasharray="1,1"/>
<line x1="98.5" y1="107.4" x2="130" y2="107.4" stroke="#4e4c4c" stroke-width="1.5"/>
<circle cx="105.8" cy="110.7" r="3.0" fill="#f4d4d8" stroke="#a82838" stroke-width="1.05"/><path d="M104.6,110.4 Q105.8,112.3 107.0,110.4" fill="none" stroke="#a82838" stroke-width="0.6" stroke-opacity="0.8"/>
<circle cx="113.7" cy="110.7" r="3.0" fill="#dcf0dc" stroke="#4a9e4a" stroke-width="1.05"/><path d="M112.5,110.4 Q113.7,112.3 114.9,110.4" fill="none" stroke="#4a9e4a" stroke-width="0.6" stroke-opacity="0.8"/>
<circle cx="125.9" cy="110.7" r="3.0" fill="#e2dcf4" stroke="#5a44b0" stroke-width="1.05"/><path d="M124.7,110.4 Q125.9,112.3 127.1,110.4" fill="none" stroke="#5a44b0" stroke-width="0.6" stroke-opacity="0.8"/>
<line x1="117.3" y1="110.7" x2="122.3" y2="110.7" stroke="#b8b8c8" stroke-width="0.8" stroke-dasharray="1.5,1"/>
<line x1="98.5" y1="118.4" x2="130" y2="118.4" stroke="#4e4c4c" stroke-width="1.5"/>
<circle cx="105.8" cy="121.7" r="3.0" fill="#f4d4d8" stroke="#a82838" stroke-width="1.05"/><path d="M104.6,121.4 Q105.8,123.3 107.0,121.4" fill="none" stroke="#a82838" stroke-width="0.6" stroke-opacity="0.8"/>
<circle cx="113.7" cy="121.7" r="3.0" fill="#dcf0dc" stroke="#4a9e4a" stroke-width="1.05"/><path d="M112.5,121.4 Q113.7,123.3 114.9,121.4" fill="none" stroke="#4a9e4a" stroke-width="0.6" stroke-opacity="0.8"/>
<circle cx="125.9" cy="121.7" r="3.0" fill="#e2dcf4" stroke="#5a44b0" stroke-width="1.05"/><path d="M124.7,121.4 Q125.9,123.3 127.1,121.4" fill="none" stroke="#5a44b0" stroke-width="0.6" stroke-opacity="0.8"/>
<line x1="117.3" y1="121.7" x2="122.3" y2="121.7" stroke="#b8b8c8" stroke-width="0.8" stroke-dasharray="1.5,1"/>
<line x1="98.5" y1="136.7" x2="130" y2="136.7" stroke="#4e4c4c" stroke-width="1.5"/>
<circle cx="105.8" cy="140.0" r="3.0" fill="#f4d4d8" stroke="#a82838" stroke-width="1.05"/><path d="M104.6,139.7 Q105.8,141.6 107.0,139.7" fill="none" stroke="#a82838" stroke-width="0.6" stroke-opacity="0.8"/>
<circle cx="113.7" cy="140.0" r="3.0" fill="#dcf0dc" stroke="#4a9e4a" stroke-width="1.05"/><path d="M112.5,139.7 Q113.7,141.6 114.9,139.7" fill="none" stroke="#4a9e4a" stroke-width="0.6" stroke-opacity="0.8"/>
<circle cx="125.9" cy="140.0" r="3.0" fill="#e2dcf4" stroke="#5a44b0" stroke-width="1.05"/><path d="M124.7,139.7 Q125.9,141.6 127.1,139.7" fill="none" stroke="#5a44b0" stroke-width="0.6" stroke-opacity="0.8"/>
<line x1="117.3" y1="140.0" x2="122.3" y2="140.0" stroke="#b8b8c8" stroke-width="0.8" stroke-dasharray="1.5,1"/>
<line x1="105.8" y1="128.5" x2="105.8" y2="134.5" stroke="#a89898" stroke-opacity="0.8" stroke-width="0.8" stroke-dasharray="1,1"/>
<line x1="113.7" y1="128.5" x2="113.7" y2="134.5" stroke="#a89898" stroke-opacity="0.8" stroke-width="0.8" stroke-dasharray="1,1"/>
<line x1="125.9" y1="128.5" x2="125.9" y2="134.5" stroke="#a89898" stroke-opacity="0.8" stroke-width="0.8" stroke-dasharray="1,1"/>
<line x1="98.5" y1="148.8" x2="130" y2="148.8" stroke="#4e4c4c" stroke-width="1.5"/>
<circle cx="105.8" cy="152.1" r="3.0" fill="#f4d4d8" stroke="#a82838" stroke-width="1.05"/><path d="M104.6,151.8 Q105.8,153.7 107.0,151.8" fill="none" stroke="#a82838" stroke-width="0.6" stroke-opacity="0.8"/>
<circle cx="113.7" cy="152.1" r="3.0" fill="#dcf0dc" stroke="#4a9e4a" stroke-width="1.05"/><path d="M112.5,151.8 Q113.7,153.7 114.9,151.8" fill="none" stroke="#4a9e4a" stroke-width="0.6" stroke-opacity="0.8"/>
<circle cx="125.9" cy="152.1" r="3.0" fill="#e2dcf4" stroke="#5a44b0" stroke-width="1.05"/><path d="M124.7,151.8 Q125.9,153.7 127.1,151.8" fill="none" stroke="#5a44b0" stroke-width="0.6" stroke-opacity="0.8"/>
<line x1="117.3" y1="152.1" x2="122.3" y2="152.1" stroke="#b8b8c8" stroke-width="0.8" stroke-dasharray="1.5,1"/>
<line x1="98.5" y1="159.8" x2="130" y2="159.8" stroke="#4e4c4c" stroke-width="1.5"/>
<circle cx="105.8" cy="163.1" r="3.0" fill="#f4d4d8" stroke="#a82838" stroke-width="1.05"/><path d="M104.6,162.8 Q105.8,164.7 107.0,162.8" fill="none" stroke="#a82838" stroke-width="0.6" stroke-opacity="0.8"/>
<circle cx="113.7" cy="163.1" r="3.0" fill="#dcf0dc" stroke="#4a9e4a" stroke-width="1.05"/><path d="M112.5,162.8 Q113.7,164.7 114.9,162.8" fill="none" stroke="#4a9e4a" stroke-width="0.6" stroke-opacity="0.8"/>
<circle cx="125.9" cy="163.1" r="3.0" fill="#e2dcf4" stroke="#5a44b0" stroke-width="1.05"/><path d="M124.7,162.8 Q125.9,164.7 127.1,162.8" fill="none" stroke="#5a44b0" stroke-width="0.6" stroke-opacity="0.8"/>
<line x1="117.3" y1="163.1" x2="122.3" y2="163.1" stroke="#b8b8c8" stroke-width="0.8" stroke-dasharray="1.5,1"/>
<line x1="98.5" y1="178.1" x2="130" y2="178.1" stroke="#4e4c4c" stroke-width="1.5"/>
<circle cx="105.8" cy="181.4" r="3.0" fill="#f4d4d8" stroke="#a82838" stroke-width="1.05"/><path d="M104.6,181.1 Q105.8,183.0 107.0,181.1" fill="none" stroke="#a82838" stroke-width="0.6" stroke-opacity="0.8"/>
<circle cx="113.7" cy="181.4" r="3.0" fill="#dcf0dc" stroke="#4a9e4a" stroke-width="1.05"/><path d="M112.5,181.1 Q113.7,183.0 114.9,181.1" fill="none" stroke="#4a9e4a" stroke-width="0.6" stroke-opacity="0.8"/>
<circle cx="125.9" cy="181.4" r="3.0" fill="#e2dcf4" stroke="#5a44b0" stroke-width="1.05"/><path d="M124.7,181.1 Q125.9,183.0 127.1,181.1" fill="none" stroke="#5a44b0" stroke-width="0.6" stroke-opacity="0.8"/>
<line x1="117.3" y1="181.4" x2="122.3" y2="181.4" stroke="#b8b8c8" stroke-width="0.8" stroke-dasharray="1.5,1"/>
<line x1="105.8" y1="169.9" x2="105.8" y2="175.9" stroke="#a89898" stroke-opacity="0.8" stroke-width="0.8" stroke-dasharray="1,1"/>
<line x1="113.7" y1="169.9" x2="113.7" y2="175.9" stroke="#a89898" stroke-opacity="0.8" stroke-width="0.8" stroke-dasharray="1,1"/>
<line x1="125.9" y1="169.9" x2="125.9" y2="175.9" stroke="#a89898" stroke-opacity="0.8" stroke-width="0.8" stroke-dasharray="1,1"/>
<line x1="249.0" y1="24.8" x2="278.5" y2="24.8" stroke="#3c3c3c" stroke-width="1.4"/>
<circle cx="245.0" cy="29.4" r="2.5" fill="#fbe8ea" stroke="#d04858" stroke-width="0.85"/><circle cx="248.4" cy="26.2" r="1.3" fill="#fff" stroke="#d04858" stroke-width="0.8"/><line x1="246.2" y1="27.2" x2="247.4" y2="26.6" stroke="#d04858" stroke-width="0.8"/>
<circle cx="254.0" cy="29.4" r="2.5" fill="#eaf6ea" stroke="#64b864" stroke-width="0.85"/><circle cx="257.4" cy="26.2" r="1.3" fill="#fff" stroke="#64b864" stroke-width="0.8"/><line x1="255.2" y1="27.2" x2="256.4" y2="26.6" stroke="#64b864" stroke-width="0.8"/>
<circle cx="266.3" cy="29.4" r="2.5" fill="#eeeaf8" stroke="#7a62cc" stroke-width="0.85"/><circle cx="269.7" cy="26.2" r="1.3" fill="#fff" stroke="#7a62cc" stroke-width="0.8"/><line x1="267.5" y1="27.2" x2="268.7" y2="26.6" stroke="#7a62cc" stroke-width="0.8"/>
<line x1="258.0" y1="29.3" x2="263.1" y2="29.3" stroke="#b0b0c0" stroke-width="0.8" stroke-dasharray="1.5,1"/>
<line x1="249.0" y1="35.8" x2="278.5" y2="35.8" stroke="#3c3c3c" stroke-width="1.4"/>
<circle cx="245.0" cy="40.4" r="2.5" fill="#fbe8ea" stroke="#d04858" stroke-width="0.85"/><circle cx="248.4" cy="37.2" r="1.3" fill="#fff" stroke="#d04858" stroke-width="0.8"/><line x1="246.2" y1="38.2" x2="247.4" y2="37.6" stroke="#d04858" stroke-width="0.8"/>
<circle cx="254.0" cy="40.4" r="2.5" fill="#eaf6ea" stroke="#64b864" stroke-width="0.85"/><circle cx="257.4" cy="37.2" r="1.3" fill="#fff" stroke="#64b864" stroke-width="0.8"/><line x1="255.2" y1="38.2" x2="256.4" y2="37.6" stroke="#64b864" stroke-width="0.8"/>
<circle cx="266.3" cy="40.4" r="2.5" fill="#eeeaf8" stroke="#7a62cc" stroke-width="0.85"/><circle cx="269.7" cy="37.2" r="1.3" fill="#fff" stroke="#7a62cc" stroke-width="0.8"/><line x1="267.5" y1="38.2" x2="268.7" y2="37.6" stroke="#7a62cc" stroke-width="0.8"/>
<line x1="258.0" y1="40.3" x2="263.1" y2="40.3" stroke="#b0b0c0" stroke-width="0.8" stroke-dasharray="1.5,1"/>
<line x1="249.0" y1="54.1" x2="278.5" y2="54.1" stroke="#3c3c3c" stroke-width="1.4"/>
<circle cx="245.0" cy="58.7" r="2.5" fill="#fbe8ea" stroke="#d04858" stroke-width="0.85"/><circle cx="248.4" cy="55.5" r="1.3" fill="#fff" stroke="#d04858" stroke-width="0.8"/><line x1="246.2" y1="56.5" x2="247.4" y2="55.9" stroke="#d04858" stroke-width="0.8"/>
<circle cx="254.0" cy="58.7" r="2.5" fill="#eaf6ea" stroke="#64b864" stroke-width="0.85"/><circle cx="257.4" cy="55.5" r="1.3" fill="#fff" stroke="#64b864" stroke-width="0.8"/><line x1="255.2" y1="56.5" x2="256.4" y2="55.9" stroke="#64b864" stroke-width="0.8"/>
<circle cx="266.3" cy="58.7" r="2.5" fill="#eeeaf8" stroke="#7a62cc" stroke-width="0.85"/><circle cx="269.7" cy="55.5" r="1.3" fill="#fff" stroke="#7a62cc" stroke-width="0.8"/><line x1="267.5" y1="56.5" x2="268.7" y2="55.9" stroke="#7a62cc" stroke-width="0.8"/>
<line x1="258.0" y1="58.6" x2="263.1" y2="58.6" stroke="#b0b0c0" stroke-width="0.8" stroke-dasharray="1.5,1"/>
<line x1="245.0" y1="46.6" x2="245.0" y2="52.6" stroke="#a89898" stroke-opacity="0.8" stroke-width="0.8" stroke-dasharray="1,1"/>
<line x1="254.0" y1="46.6" x2="254.0" y2="52.6" stroke="#a89898" stroke-opacity="0.8" stroke-width="0.8" stroke-dasharray="1,1"/>
<line x1="266.3" y1="46.6" x2="266.3" y2="52.6" stroke="#a89898" stroke-opacity="0.8" stroke-width="0.8" stroke-dasharray="1,1"/>
<line x1="249.0" y1="65.6" x2="278.5" y2="65.6" stroke="#3c3c3c" stroke-width="1.4"/>
<circle cx="245.0" cy="70.2" r="2.5" fill="#fbe8ea" stroke="#d04858" stroke-width="0.85"/><circle cx="248.4" cy="67.0" r="1.3" fill="#fff" stroke="#d04858" stroke-width="0.8"/><line x1="246.2" y1="68.0" x2="247.4" y2="67.4" stroke="#d04858" stroke-width="0.8"/>
<circle cx="254.0" cy="70.2" r="2.5" fill="#eaf6ea" stroke="#64b864" stroke-width="0.85"/><circle cx="257.4" cy="67.0" r="1.3" fill="#fff" stroke="#64b864" stroke-width="0.8"/><line x1="255.2" y1="68.0" x2="256.4" y2="67.4" stroke="#64b864" stroke-width="0.8"/>
<circle cx="266.3" cy="70.2" r="2.5" fill="#eeeaf8" stroke="#7a62cc" stroke-width="0.85"/><circle cx="269.7" cy="67.0" r="1.3" fill="#fff" stroke="#7a62cc" stroke-width="0.8"/><line x1="267.5" y1="68.0" x2="268.7" y2="67.4" stroke="#7a62cc" stroke-width="0.8"/>
<line x1="258.0" y1="70.1" x2="263.1" y2="70.1" stroke="#b0b0c0" stroke-width="0.8" stroke-dasharray="1.5,1"/>
<line x1="249.0" y1="76.6" x2="278.5" y2="76.6" stroke="#3c3c3c" stroke-width="1.4"/>
<circle cx="245.0" cy="81.2" r="2.5" fill="#fbe8ea" stroke="#d04858" stroke-width="0.85"/><circle cx="248.4" cy="78.0" r="1.3" fill="#fff" stroke="#d04858" stroke-width="0.8"/><line x1="246.2" y1="79.0" x2="247.4" y2="78.4" stroke="#d04858" stroke-width="0.8"/>
<circle cx="254.0" cy="81.2" r="2.5" fill="#eaf6ea" stroke="#64b864" stroke-width="0.85"/><circle cx="257.4" cy="78.0" r="1.3" fill="#fff" stroke="#64b864" stroke-width="0.8"/><line x1="255.2" y1="79.0" x2="256.4" y2="78.4" stroke="#64b864" stroke-width="0.8"/>
<circle cx="266.3" cy="81.2" r="2.5" fill="#eeeaf8" stroke="#7a62cc" stroke-width="0.85"/><circle cx="269.7" cy="78.0" r="1.3" fill="#fff" stroke="#7a62cc" stroke-width="0.8"/><line x1="267.5" y1="79.0" x2="268.7" y2="78.4" stroke="#7a62cc" stroke-width="0.8"/>
<line x1="258.0" y1="81.1" x2="263.1" y2="81.1" stroke="#b0b0c0" stroke-width="0.8" stroke-dasharray="1.5,1"/>
<line x1="249.0" y1="94.9" x2="278.5" y2="94.9" stroke="#3c3c3c" stroke-width="1.4"/>
<circle cx="245.0" cy="99.5" r="2.5" fill="#fbe8ea" stroke="#d04858" stroke-width="0.85"/><circle cx="248.4" cy="96.3" r="1.3" fill="#fff" stroke="#d04858" stroke-width="0.8"/><line x1="246.2" y1="97.3" x2="247.4" y2="96.7" stroke="#d04858" stroke-width="0.8"/>
<circle cx="254.0" cy="99.5" r="2.5" fill="#eaf6ea" stroke="#64b864" stroke-width="0.85"/><circle cx="257.4" cy="96.3" r="1.3" fill="#fff" stroke="#64b864" stroke-width="0.8"/><line x1="255.2" y1="97.3" x2="256.4" y2="96.7" stroke="#64b864" stroke-width="0.8"/>
<circle cx="266.3" cy="99.5" r="2.5" fill="#eeeaf8" stroke="#7a62cc" stroke-width="0.85"/><circle cx="269.7" cy="96.3" r="1.3" fill="#fff" stroke="#7a62cc" stroke-width="0.8"/><line x1="267.5" y1="97.3" x2="268.7" y2="96.7" stroke="#7a62cc" stroke-width="0.8"/>
<line x1="258.0" y1="99.4" x2="263.1" y2="99.4" stroke="#b0b0c0" stroke-width="0.8" stroke-dasharray="1.5,1"/>
<line x1="245.0" y1="87.4" x2="245.0" y2="93.4" stroke="#a89898" stroke-opacity="0.8" stroke-width="0.8" stroke-dasharray="1,1"/>
<line x1="254.0" y1="87.4" x2="254.0" y2="93.4" stroke="#a89898" stroke-opacity="0.8" stroke-width="0.8" stroke-dasharray="1,1"/>
<line x1="266.3" y1="87.4" x2="266.3" y2="93.4" stroke="#a89898" stroke-opacity="0.8" stroke-width="0.8" stroke-dasharray="1,1"/>
<line x1="249.0" y1="106.7" x2="278.5" y2="106.7" stroke="#3c3c3c" stroke-width="1.4"/>
<circle cx="245.0" cy="111.3" r="2.5" fill="#fbe8ea" stroke="#d04858" stroke-width="0.85"/><circle cx="248.4" cy="108.1" r="1.3" fill="#fff" stroke="#d04858" stroke-width="0.8"/><line x1="246.2" y1="109.1" x2="247.4" y2="108.5" stroke="#d04858" stroke-width="0.8"/>
<circle cx="254.0" cy="111.3" r="2.5" fill="#eaf6ea" stroke="#64b864" stroke-width="0.85"/><circle cx="257.4" cy="108.1" r="1.3" fill="#fff" stroke="#64b864" stroke-width="0.8"/><line x1="255.2" y1="109.1" x2="256.4" y2="108.5" stroke="#64b864" stroke-width="0.8"/>
<circle cx="266.3" cy="111.3" r="2.5" fill="#eeeaf8" stroke="#7a62cc" stroke-width="0.85"/><circle cx="269.7" cy="108.1" r="1.3" fill="#fff" stroke="#7a62cc" stroke-width="0.8"/><line x1="267.5" y1="109.1" x2="268.7" y2="108.5" stroke="#7a62cc" stroke-width="0.8"/>
<line x1="258.0" y1="111.2" x2="263.1" y2="111.2" stroke="#b0b0c0" stroke-width="0.8" stroke-dasharray="1.5,1"/>
<line x1="249.0" y1="117.7" x2="278.5" y2="117.7" stroke="#3c3c3c" stroke-width="1.4"/>
<circle cx="245.0" cy="122.3" r="2.5" fill="#fbe8ea" stroke="#d04858" stroke-width="0.85"/><circle cx="248.4" cy="119.1" r="1.3" fill="#fff" stroke="#d04858" stroke-width="0.8"/><line x1="246.2" y1="120.1" x2="247.4" y2="119.5" stroke="#d04858" stroke-width="0.8"/>
<circle cx="254.0" cy="122.3" r="2.5" fill="#eaf6ea" stroke="#64b864" stroke-width="0.85"/><circle cx="257.4" cy="119.1" r="1.3" fill="#fff" stroke="#64b864" stroke-width="0.8"/><line x1="255.2" y1="120.1" x2="256.4" y2="119.5" stroke="#64b864" stroke-width="0.8"/>
<circle cx="266.3" cy="122.3" r="2.5" fill="#eeeaf8" stroke="#7a62cc" stroke-width="0.85"/><circle cx="269.7" cy="119.1" r="1.3" fill="#fff" stroke="#7a62cc" stroke-width="0.8"/><line x1="267.5" y1="120.1" x2="268.7" y2="119.5" stroke="#7a62cc" stroke-width="0.8"/>
<line x1="258.0" y1="122.2" x2="263.1" y2="122.2" stroke="#b0b0c0" stroke-width="0.8" stroke-dasharray="1.5,1"/>
<line x1="249.0" y1="136.0" x2="278.5" y2="136.0" stroke="#3c3c3c" stroke-width="1.4"/>
<circle cx="245.0" cy="140.6" r="2.5" fill="#fbe8ea" stroke="#d04858" stroke-width="0.85"/><circle cx="248.4" cy="137.4" r="1.3" fill="#fff" stroke="#d04858" stroke-width="0.8"/><line x1="246.2" y1="138.4" x2="247.4" y2="137.8" stroke="#d04858" stroke-width="0.8"/>
<circle cx="254.0" cy="140.6" r="2.5" fill="#eaf6ea" stroke="#64b864" stroke-width="0.85"/><circle cx="257.4" cy="137.4" r="1.3" fill="#fff" stroke="#64b864" stroke-width="0.8"/><line x1="255.2" y1="138.4" x2="256.4" y2="137.8" stroke="#64b864" stroke-width="0.8"/>
<circle cx="266.3" cy="140.6" r="2.5" fill="#eeeaf8" stroke="#7a62cc" stroke-width="0.85"/><circle cx="269.7" cy="137.4" r="1.3" fill="#fff" stroke="#7a62cc" stroke-width="0.8"/><line x1="267.5" y1="138.4" x2="268.7" y2="137.8" stroke="#7a62cc" stroke-width="0.8"/>
<line x1="258.0" y1="140.5" x2="263.1" y2="140.5" stroke="#b0b0c0" stroke-width="0.8" stroke-dasharray="1.5,1"/>
<line x1="245.0" y1="128.5" x2="245.0" y2="134.5" stroke="#a89898" stroke-opacity="0.8" stroke-width="0.8" stroke-dasharray="1,1"/>
<line x1="254.0" y1="128.5" x2="254.0" y2="134.5" stroke="#a89898" stroke-opacity="0.8" stroke-width="0.8" stroke-dasharray="1,1"/>
<line x1="266.3" y1="128.5" x2="266.3" y2="134.5" stroke="#a89898" stroke-opacity="0.8" stroke-width="0.8" stroke-dasharray="1,1"/>
<line x1="249.0" y1="148.1" x2="278.5" y2="148.1" stroke="#3c3c3c" stroke-width="1.4"/>
<circle cx="245.0" cy="152.7" r="2.5" fill="#fbe8ea" stroke="#d04858" stroke-width="0.85"/><circle cx="248.4" cy="149.5" r="1.3" fill="#fff" stroke="#d04858" stroke-width="0.8"/><line x1="246.2" y1="150.5" x2="247.4" y2="149.9" stroke="#d04858" stroke-width="0.8"/>
<circle cx="254.0" cy="152.7" r="2.5" fill="#eaf6ea" stroke="#64b864" stroke-width="0.85"/><circle cx="257.4" cy="149.5" r="1.3" fill="#fff" stroke="#64b864" stroke-width="0.8"/><line x1="255.2" y1="150.5" x2="256.4" y2="149.9" stroke="#64b864" stroke-width="0.8"/>
<circle cx="266.3" cy="152.7" r="2.5" fill="#eeeaf8" stroke="#7a62cc" stroke-width="0.85"/><circle cx="269.7" cy="149.5" r="1.3" fill="#fff" stroke="#7a62cc" stroke-width="0.8"/><line x1="267.5" y1="150.5" x2="268.7" y2="149.9" stroke="#7a62cc" stroke-width="0.8"/>
<line x1="258.0" y1="152.6" x2="263.1" y2="152.6" stroke="#b0b0c0" stroke-width="0.8" stroke-dasharray="1.5,1"/>
<line x1="249.0" y1="159.1" x2="278.5" y2="159.1" stroke="#3c3c3c" stroke-width="1.4"/>
<circle cx="245.0" cy="163.7" r="2.5" fill="#fbe8ea" stroke="#d04858" stroke-width="0.85"/><circle cx="248.4" cy="160.5" r="1.3" fill="#fff" stroke="#d04858" stroke-width="0.8"/><line x1="246.2" y1="161.5" x2="247.4" y2="160.9" stroke="#d04858" stroke-width="0.8"/>
<circle cx="254.0" cy="163.7" r="2.5" fill="#eaf6ea" stroke="#64b864" stroke-width="0.85"/><circle cx="257.4" cy="160.5" r="1.3" fill="#fff" stroke="#64b864" stroke-width="0.8"/><line x1="255.2" y1="161.5" x2="256.4" y2="160.9" stroke="#64b864" stroke-width="0.8"/>
<circle cx="266.3" cy="163.7" r="2.5" fill="#eeeaf8" stroke="#7a62cc" stroke-width="0.85"/><circle cx="269.7" cy="160.5" r="1.3" fill="#fff" stroke="#7a62cc" stroke-width="0.8"/><line x1="267.5" y1="161.5" x2="268.7" y2="160.9" stroke="#7a62cc" stroke-width="0.8"/>
<line x1="258.0" y1="163.6" x2="263.1" y2="163.6" stroke="#b0b0c0" stroke-width="0.8" stroke-dasharray="1.5,1"/>
<line x1="249.0" y1="177.4" x2="278.5" y2="177.4" stroke="#3c3c3c" stroke-width="1.4"/>
<circle cx="245.0" cy="182.0" r="2.5" fill="#fbe8ea" stroke="#d04858" stroke-width="0.85"/><circle cx="248.4" cy="178.8" r="1.3" fill="#fff" stroke="#d04858" stroke-width="0.8"/><line x1="246.2" y1="179.8" x2="247.4" y2="179.2" stroke="#d04858" stroke-width="0.8"/>
<circle cx="254.0" cy="182.0" r="2.5" fill="#eaf6ea" stroke="#64b864" stroke-width="0.85"/><circle cx="257.4" cy="178.8" r="1.3" fill="#fff" stroke="#64b864" stroke-width="0.8"/><line x1="255.2" y1="179.8" x2="256.4" y2="179.2" stroke="#64b864" stroke-width="0.8"/>
<circle cx="266.3" cy="182.0" r="2.5" fill="#eeeaf8" stroke="#7a62cc" stroke-width="0.85"/><circle cx="269.7" cy="178.8" r="1.3" fill="#fff" stroke="#7a62cc" stroke-width="0.8"/><line x1="267.5" y1="179.8" x2="268.7" y2="179.2" stroke="#7a62cc" stroke-width="0.8"/>
<line x1="258.0" y1="181.9" x2="263.1" y2="181.9" stroke="#b0b0c0" stroke-width="0.8" stroke-dasharray="1.5,1"/>
<line x1="245.0" y1="169.9" x2="245.0" y2="175.9" stroke="#a89898" stroke-opacity="0.8" stroke-width="0.8" stroke-dasharray="1,1"/>
<line x1="254.0" y1="169.9" x2="254.0" y2="175.9" stroke="#a89898" stroke-opacity="0.8" stroke-width="0.8" stroke-dasharray="1,1"/>
<line x1="266.3" y1="169.9" x2="266.3" y2="175.9" stroke="#a89898" stroke-opacity="0.8" stroke-width="0.8" stroke-dasharray="1,1"/>
<line x1="300.3" y1="25.5" x2="330" y2="25.5" stroke="#4e4c4c" stroke-width="1.5"/>
<circle cx="307.6" cy="28.8" r="3.0" fill="#f4d4d8" stroke="#a82838" stroke-width="1.05"/><path d="M306.4,28.5 Q307.6,30.4 308.8,28.5" fill="none" stroke="#a82838" stroke-width="0.6" stroke-opacity="0.8"/>
<circle cx="315.3" cy="28.8" r="3.0" fill="#dcf0dc" stroke="#4a9e4a" stroke-width="1.05"/><path d="M314.1,28.5 Q315.3,30.4 316.5,28.5" fill="none" stroke="#4a9e4a" stroke-width="0.6" stroke-opacity="0.8"/>
<circle cx="327.3" cy="28.8" r="3.0" fill="#e2dcf4" stroke="#5a44b0" stroke-width="1.05"/><path d="M326.1,28.5 Q327.3,30.4 328.5,28.5" fill="none" stroke="#5a44b0" stroke-width="0.6" stroke-opacity="0.8"/>
<line x1="318.9" y1="28.8" x2="323.7" y2="28.8" stroke="#b8b8c8" stroke-width="0.8" stroke-dasharray="1.5,1"/>
<line x1="300.3" y1="36.5" x2="330" y2="36.5" stroke="#4e4c4c" stroke-width="1.5"/>
<circle cx="307.6" cy="39.8" r="3.0" fill="#f4d4d8" stroke="#a82838" stroke-width="1.05"/><path d="M306.4,39.5 Q307.6,41.4 308.8,39.5" fill="none" stroke="#a82838" stroke-width="0.6" stroke-opacity="0.8"/>
<circle cx="315.3" cy="39.8" r="3.0" fill="#dcf0dc" stroke="#4a9e4a" stroke-width="1.05"/><path d="M314.1,39.5 Q315.3,41.4 316.5,39.5" fill="none" stroke="#4a9e4a" stroke-width="0.6" stroke-opacity="0.8"/>
<circle cx="327.3" cy="39.8" r="3.0" fill="#e2dcf4" stroke="#5a44b0" stroke-width="1.05"/><path d="M326.1,39.5 Q327.3,41.4 328.5,39.5" fill="none" stroke="#5a44b0" stroke-width="0.6" stroke-opacity="0.8"/>
<line x1="318.9" y1="39.8" x2="323.7" y2="39.8" stroke="#b8b8c8" stroke-width="0.8" stroke-dasharray="1.5,1"/>
<line x1="300.3" y1="54.8" x2="330" y2="54.8" stroke="#4e4c4c" stroke-width="1.5"/>
<circle cx="307.6" cy="58.1" r="3.0" fill="#f4d4d8" stroke="#a82838" stroke-width="1.05"/><path d="M306.4,57.8 Q307.6,59.7 308.8,57.8" fill="none" stroke="#a82838" stroke-width="0.6" stroke-opacity="0.8"/>
<circle cx="315.3" cy="58.1" r="3.0" fill="#dcf0dc" stroke="#4a9e4a" stroke-width="1.05"/><path d="M314.1,57.8 Q315.3,59.7 316.5,57.8" fill="none" stroke="#4a9e4a" stroke-width="0.6" stroke-opacity="0.8"/>
<circle cx="327.3" cy="58.1" r="3.0" fill="#e2dcf4" stroke="#5a44b0" stroke-width="1.05"/><path d="M326.1,57.8 Q327.3,59.7 328.5,57.8" fill="none" stroke="#5a44b0" stroke-width="0.6" stroke-opacity="0.8"/>
<line x1="318.9" y1="58.1" x2="323.7" y2="58.1" stroke="#b8b8c8" stroke-width="0.8" stroke-dasharray="1.5,1"/>
<line x1="307.6" y1="46.6" x2="307.6" y2="52.6" stroke="#a89898" stroke-opacity="0.8" stroke-width="0.8" stroke-dasharray="1,1"/>
<line x1="315.3" y1="46.6" x2="315.3" y2="52.6" stroke="#a89898" stroke-opacity="0.8" stroke-width="0.8" stroke-dasharray="1,1"/>
<line x1="327.3" y1="46.6" x2="327.3" y2="52.6" stroke="#a89898" stroke-opacity="0.8" stroke-width="0.8" stroke-dasharray="1,1"/>
<line x1="300.3" y1="66.3" x2="330" y2="66.3" stroke="#4e4c4c" stroke-width="1.5"/>
<circle cx="307.6" cy="69.6" r="3.0" fill="#f4d4d8" stroke="#a82838" stroke-width="1.05"/><path d="M306.4,69.3 Q307.6,71.2 308.8,69.3" fill="none" stroke="#a82838" stroke-width="0.6" stroke-opacity="0.8"/>
<circle cx="315.3" cy="69.6" r="3.0" fill="#dcf0dc" stroke="#4a9e4a" stroke-width="1.05"/><path d="M314.1,69.3 Q315.3,71.2 316.5,69.3" fill="none" stroke="#4a9e4a" stroke-width="0.6" stroke-opacity="0.8"/>
<circle cx="327.3" cy="69.6" r="3.0" fill="#e2dcf4" stroke="#5a44b0" stroke-width="1.05"/><path d="M326.1,69.3 Q327.3,71.2 328.5,69.3" fill="none" stroke="#5a44b0" stroke-width="0.6" stroke-opacity="0.8"/>
<line x1="318.9" y1="69.6" x2="323.7" y2="69.6" stroke="#b8b8c8" stroke-width="0.8" stroke-dasharray="1.5,1"/>
<line x1="300.3" y1="77.3" x2="330" y2="77.3" stroke="#4e4c4c" stroke-width="1.5"/>
<circle cx="307.6" cy="80.6" r="3.0" fill="#f4d4d8" stroke="#a82838" stroke-width="1.05"/><path d="M306.4,80.3 Q307.6,82.2 308.8,80.3" fill="none" stroke="#a82838" stroke-width="0.6" stroke-opacity="0.8"/>
<circle cx="315.3" cy="80.6" r="3.0" fill="#dcf0dc" stroke="#4a9e4a" stroke-width="1.05"/><path d="M314.1,80.3 Q315.3,82.2 316.5,80.3" fill="none" stroke="#4a9e4a" stroke-width="0.6" stroke-opacity="0.8"/>
<circle cx="327.3" cy="80.6" r="3.0" fill="#e2dcf4" stroke="#5a44b0" stroke-width="1.05"/><path d="M326.1,80.3 Q327.3,82.2 328.5,80.3" fill="none" stroke="#5a44b0" stroke-width="0.6" stroke-opacity="0.8"/>
<line x1="318.9" y1="80.6" x2="323.7" y2="80.6" stroke="#b8b8c8" stroke-width="0.8" stroke-dasharray="1.5,1"/>
<line x1="300.3" y1="95.6" x2="330" y2="95.6" stroke="#4e4c4c" stroke-width="1.5"/>
<circle cx="307.6" cy="98.9" r="3.0" fill="#f4d4d8" stroke="#a82838" stroke-width="1.05"/><path d="M306.4,98.6 Q307.6,100.5 308.8,98.6" fill="none" stroke="#a82838" stroke-width="0.6" stroke-opacity="0.8"/>
<circle cx="315.3" cy="98.9" r="3.0" fill="#dcf0dc" stroke="#4a9e4a" stroke-width="1.05"/><path d="M314.1,98.6 Q315.3,100.5 316.5,98.6" fill="none" stroke="#4a9e4a" stroke-width="0.6" stroke-opacity="0.8"/>
<circle cx="327.3" cy="98.9" r="3.0" fill="#e2dcf4" stroke="#5a44b0" stroke-width="1.05"/><path d="M326.1,98.6 Q327.3,100.5 328.5,98.6" fill="none" stroke="#5a44b0" stroke-width="0.6" stroke-opacity="0.8"/>
<line x1="318.9" y1="98.9" x2="323.7" y2="98.9" stroke="#b8b8c8" stroke-width="0.8" stroke-dasharray="1.5,1"/>
<line x1="307.6" y1="87.4" x2="307.6" y2="93.4" stroke="#a89898" stroke-opacity="0.8" stroke-width="0.8" stroke-dasharray="1,1"/>
<line x1="315.3" y1="87.4" x2="315.3" y2="93.4" stroke="#a89898" stroke-opacity="0.8" stroke-width="0.8" stroke-dasharray="1,1"/>
<line x1="327.3" y1="87.4" x2="327.3" y2="93.4" stroke="#a89898" stroke-opacity="0.8" stroke-width="0.8" stroke-dasharray="1,1"/>
<line x1="300.3" y1="107.4" x2="330" y2="107.4" stroke="#4e4c4c" stroke-width="1.5"/>
<circle cx="307.6" cy="110.7" r="3.0" fill="#f4d4d8" stroke="#a82838" stroke-width="1.05"/><path d="M306.4,110.4 Q307.6,112.3 308.8,110.4" fill="none" stroke="#a82838" stroke-width="0.6" stroke-opacity="0.8"/>
<circle cx="315.3" cy="110.7" r="3.0" fill="#dcf0dc" stroke="#4a9e4a" stroke-width="1.05"/><path d="M314.1,110.4 Q315.3,112.3 316.5,110.4" fill="none" stroke="#4a9e4a" stroke-width="0.6" stroke-opacity="0.8"/>
<circle cx="327.3" cy="110.7" r="3.0" fill="#e2dcf4" stroke="#5a44b0" stroke-width="1.05"/><path d="M326.1,110.4 Q327.3,112.3 328.5,110.4" fill="none" stroke="#5a44b0" stroke-width="0.6" stroke-opacity="0.8"/>
<line x1="318.9" y1="110.7" x2="323.7" y2="110.7" stroke="#b8b8c8" stroke-width="0.8" stroke-dasharray="1.5,1"/>
<line x1="300.3" y1="118.4" x2="330" y2="118.4" stroke="#4e4c4c" stroke-width="1.5"/>
<circle cx="307.6" cy="121.7" r="3.0" fill="#f4d4d8" stroke="#a82838" stroke-width="1.05"/><path d="M306.4,121.4 Q307.6,123.3 308.8,121.4" fill="none" stroke="#a82838" stroke-width="0.6" stroke-opacity="0.8"/>
<circle cx="315.3" cy="121.7" r="3.0" fill="#dcf0dc" stroke="#4a9e4a" stroke-width="1.05"/><path d="M314.1,121.4 Q315.3,123.3 316.5,121.4" fill="none" stroke="#4a9e4a" stroke-width="0.6" stroke-opacity="0.8"/>
<circle cx="327.3" cy="121.7" r="3.0" fill="#e2dcf4" stroke="#5a44b0" stroke-width="1.05"/><path d="M326.1,121.4 Q327.3,123.3 328.5,121.4" fill="none" stroke="#5a44b0" stroke-width="0.6" stroke-opacity="0.8"/>
<line x1="318.9" y1="121.7" x2="323.7" y2="121.7" stroke="#b8b8c8" stroke-width="0.8" stroke-dasharray="1.5,1"/>
<line x1="300.3" y1="136.7" x2="330" y2="136.7" stroke="#4e4c4c" stroke-width="1.5"/>
<circle cx="307.6" cy="140.0" r="3.0" fill="#f4d4d8" stroke="#a82838" stroke-width="1.05"/><path d="M306.4,139.7 Q307.6,141.6 308.8,139.7" fill="none" stroke="#a82838" stroke-width="0.6" stroke-opacity="0.8"/>
<circle cx="315.3" cy="140.0" r="3.0" fill="#dcf0dc" stroke="#4a9e4a" stroke-width="1.05"/><path d="M314.1,139.7 Q315.3,141.6 316.5,139.7" fill="none" stroke="#4a9e4a" stroke-width="0.6" stroke-opacity="0.8"/>
<circle cx="327.3" cy="140.0" r="3.0" fill="#e2dcf4" stroke="#5a44b0" stroke-width="1.05"/><path d="M326.1,139.7 Q327.3,141.6 328.5,139.7" fill="none" stroke="#5a44b0" stroke-width="0.6" stroke-opacity="0.8"/>
<line x1="318.9" y1="140.0" x2="323.7" y2="140.0" stroke="#b8b8c8" stroke-width="0.8" stroke-dasharray="1.5,1"/>
<line x1="307.6" y1="128.5" x2="307.6" y2="134.5" stroke="#a89898" stroke-opacity="0.8" stroke-width="0.8" stroke-dasharray="1,1"/>
<line x1="315.3" y1="128.5" x2="315.3" y2="134.5" stroke="#a89898" stroke-opacity="0.8" stroke-width="0.8" stroke-dasharray="1,1"/>
<line x1="327.3" y1="128.5" x2="327.3" y2="134.5" stroke="#a89898" stroke-opacity="0.8" stroke-width="0.8" stroke-dasharray="1,1"/>
<line x1="300.3" y1="148.8" x2="330" y2="148.8" stroke="#4e4c4c" stroke-width="1.5"/>
<circle cx="307.6" cy="152.1" r="3.0" fill="#f4d4d8" stroke="#a82838" stroke-width="1.05"/><path d="M306.4,151.8 Q307.6,153.7 308.8,151.8" fill="none" stroke="#a82838" stroke-width="0.6" stroke-opacity="0.8"/>
<circle cx="315.3" cy="152.1" r="3.0" fill="#dcf0dc" stroke="#4a9e4a" stroke-width="1.05"/><path d="M314.1,151.8 Q315.3,153.7 316.5,151.8" fill="none" stroke="#4a9e4a" stroke-width="0.6" stroke-opacity="0.8"/>
<circle cx="327.3" cy="152.1" r="3.0" fill="#e2dcf4" stroke="#5a44b0" stroke-width="1.05"/><path d="M326.1,151.8 Q327.3,153.7 328.5,151.8" fill="none" stroke="#5a44b0" stroke-width="0.6" stroke-opacity="0.8"/>
<line x1="318.9" y1="152.1" x2="323.7" y2="152.1" stroke="#b8b8c8" stroke-width="0.8" stroke-dasharray="1.5,1"/>
<line x1="300.3" y1="159.8" x2="330" y2="159.8" stroke="#4e4c4c" stroke-width="1.5"/>
<circle cx="307.6" cy="163.1" r="3.0" fill="#f4d4d8" stroke="#a82838" stroke-width="1.05"/><path d="M306.4,162.8 Q307.6,164.7 308.8,162.8" fill="none" stroke="#a82838" stroke-width="0.6" stroke-opacity="0.8"/>
<circle cx="315.3" cy="163.1" r="3.0" fill="#dcf0dc" stroke="#4a9e4a" stroke-width="1.05"/><path d="M314.1,162.8 Q315.3,164.7 316.5,162.8" fill="none" stroke="#4a9e4a" stroke-width="0.6" stroke-opacity="0.8"/>
<circle cx="327.3" cy="163.1" r="3.0" fill="#e2dcf4" stroke="#5a44b0" stroke-width="1.05"/><path d="M326.1,162.8 Q327.3,164.7 328.5,162.8" fill="none" stroke="#5a44b0" stroke-width="0.6" stroke-opacity="0.8"/>
<line x1="318.9" y1="163.1" x2="323.7" y2="163.1" stroke="#b8b8c8" stroke-width="0.8" stroke-dasharray="1.5,1"/>
<line x1="300.3" y1="178.1" x2="330" y2="178.1" stroke="#4e4c4c" stroke-width="1.5"/>
<circle cx="307.6" cy="181.4" r="3.0" fill="#f4d4d8" stroke="#a82838" stroke-width="1.05"/><path d="M306.4,181.1 Q307.6,183.0 308.8,181.1" fill="none" stroke="#a82838" stroke-width="0.6" stroke-opacity="0.8"/>
<circle cx="315.3" cy="181.4" r="3.0" fill="#dcf0dc" stroke="#4a9e4a" stroke-width="1.05"/><path d="M314.1,181.1 Q315.3,183.0 316.5,181.1" fill="none" stroke="#4a9e4a" stroke-width="0.6" stroke-opacity="0.8"/>
<circle cx="327.3" cy="181.4" r="3.0" fill="#e2dcf4" stroke="#5a44b0" stroke-width="1.05"/><path d="M326.1,181.1 Q327.3,183.0 328.5,181.1" fill="none" stroke="#5a44b0" stroke-width="0.6" stroke-opacity="0.8"/>
<line x1="318.9" y1="181.4" x2="323.7" y2="181.4" stroke="#b8b8c8" stroke-width="0.8" stroke-dasharray="1.5,1"/>
<line x1="307.6" y1="169.9" x2="307.6" y2="175.9" stroke="#a89898" stroke-opacity="0.8" stroke-width="0.8" stroke-dasharray="1,1"/>
<line x1="315.3" y1="169.9" x2="315.3" y2="175.9" stroke="#a89898" stroke-opacity="0.8" stroke-width="0.8" stroke-dasharray="1,1"/>
<line x1="327.3" y1="169.9" x2="327.3" y2="175.9" stroke="#a89898" stroke-opacity="0.8" stroke-width="0.8" stroke-dasharray="1,1"/>
<line x1="451.2" y1="24.8" x2="480.5" y2="24.8" stroke="#3c3c3c" stroke-width="1.4"/>
<circle cx="447.2" cy="29.4" r="2.5" fill="#fbe8ea" stroke="#d04858" stroke-width="0.85"/><circle cx="450.6" cy="26.2" r="1.3" fill="#fff" stroke="#d04858" stroke-width="0.8"/><line x1="448.4" y1="27.2" x2="449.6" y2="26.6" stroke="#d04858" stroke-width="0.8"/>
<circle cx="457.3" cy="29.4" r="2.5" fill="#eaf6ea" stroke="#64b864" stroke-width="0.85"/><circle cx="460.7" cy="26.2" r="1.3" fill="#fff" stroke="#64b864" stroke-width="0.8"/><line x1="458.5" y1="27.2" x2="459.7" y2="26.6" stroke="#64b864" stroke-width="0.8"/>
<circle cx="469.6" cy="29.4" r="2.5" fill="#eeeaf8" stroke="#7a62cc" stroke-width="0.85"/><circle cx="473.0" cy="26.2" r="1.3" fill="#fff" stroke="#7a62cc" stroke-width="0.8"/><line x1="470.8" y1="27.2" x2="472.0" y2="26.6" stroke="#7a62cc" stroke-width="0.8"/>
<line x1="461.3" y1="29.3" x2="466.4" y2="29.3" stroke="#b0b0c0" stroke-width="0.8" stroke-dasharray="1.5,1"/>
<line x1="451.2" y1="35.8" x2="480.5" y2="35.8" stroke="#3c3c3c" stroke-width="1.4"/>
<circle cx="447.2" cy="40.4" r="2.5" fill="#fbe8ea" stroke="#d04858" stroke-width="0.85"/><circle cx="450.6" cy="37.2" r="1.3" fill="#fff" stroke="#d04858" stroke-width="0.8"/><line x1="448.4" y1="38.2" x2="449.6" y2="37.6" stroke="#d04858" stroke-width="0.8"/>
<circle cx="457.3" cy="40.4" r="2.5" fill="#eaf6ea" stroke="#64b864" stroke-width="0.85"/><circle cx="460.7" cy="37.2" r="1.3" fill="#fff" stroke="#64b864" stroke-width="0.8"/><line x1="458.5" y1="38.2" x2="459.7" y2="37.6" stroke="#64b864" stroke-width="0.8"/>
<circle cx="469.6" cy="40.4" r="2.5" fill="#eeeaf8" stroke="#7a62cc" stroke-width="0.85"/><circle cx="473.0" cy="37.2" r="1.3" fill="#fff" stroke="#7a62cc" stroke-width="0.8"/><line x1="470.8" y1="38.2" x2="472.0" y2="37.6" stroke="#7a62cc" stroke-width="0.8"/>
<line x1="461.3" y1="40.3" x2="466.4" y2="40.3" stroke="#b0b0c0" stroke-width="0.8" stroke-dasharray="1.5,1"/>
<line x1="451.2" y1="54.1" x2="480.5" y2="54.1" stroke="#3c3c3c" stroke-width="1.4"/>
<circle cx="447.2" cy="58.7" r="2.5" fill="#fbe8ea" stroke="#d04858" stroke-width="0.85"/><circle cx="450.6" cy="55.5" r="1.3" fill="#fff" stroke="#d04858" stroke-width="0.8"/><line x1="448.4" y1="56.5" x2="449.6" y2="55.9" stroke="#d04858" stroke-width="0.8"/>
<circle cx="457.3" cy="58.7" r="2.5" fill="#eaf6ea" stroke="#64b864" stroke-width="0.85"/><circle cx="460.7" cy="55.5" r="1.3" fill="#fff" stroke="#64b864" stroke-width="0.8"/><line x1="458.5" y1="56.5" x2="459.7" y2="55.9" stroke="#64b864" stroke-width="0.8"/>
<circle cx="469.6" cy="58.7" r="2.5" fill="#eeeaf8" stroke="#7a62cc" stroke-width="0.85"/><circle cx="473.0" cy="55.5" r="1.3" fill="#fff" stroke="#7a62cc" stroke-width="0.8"/><line x1="470.8" y1="56.5" x2="472.0" y2="55.9" stroke="#7a62cc" stroke-width="0.8"/>
<line x1="461.3" y1="58.6" x2="466.4" y2="58.6" stroke="#b0b0c0" stroke-width="0.8" stroke-dasharray="1.5,1"/>
<line x1="447.2" y1="46.6" x2="447.2" y2="52.6" stroke="#a89898" stroke-opacity="0.8" stroke-width="0.8" stroke-dasharray="1,1"/>
<line x1="457.3" y1="46.6" x2="457.3" y2="52.6" stroke="#a89898" stroke-opacity="0.8" stroke-width="0.8" stroke-dasharray="1,1"/>
<line x1="469.6" y1="46.6" x2="469.6" y2="52.6" stroke="#a89898" stroke-opacity="0.8" stroke-width="0.8" stroke-dasharray="1,1"/>
<line x1="451.2" y1="65.6" x2="480.5" y2="65.6" stroke="#3c3c3c" stroke-width="1.4"/>
<circle cx="447.2" cy="70.2" r="2.5" fill="#fbe8ea" stroke="#d04858" stroke-width="0.85"/><circle cx="450.6" cy="67.0" r="1.3" fill="#fff" stroke="#d04858" stroke-width="0.8"/><line x1="448.4" y1="68.0" x2="449.6" y2="67.4" stroke="#d04858" stroke-width="0.8"/>
<circle cx="457.3" cy="70.2" r="2.5" fill="#eaf6ea" stroke="#64b864" stroke-width="0.85"/><circle cx="460.7" cy="67.0" r="1.3" fill="#fff" stroke="#64b864" stroke-width="0.8"/><line x1="458.5" y1="68.0" x2="459.7" y2="67.4" stroke="#64b864" stroke-width="0.8"/>
<circle cx="469.6" cy="70.2" r="2.5" fill="#eeeaf8" stroke="#7a62cc" stroke-width="0.85"/><circle cx="473.0" cy="67.0" r="1.3" fill="#fff" stroke="#7a62cc" stroke-width="0.8"/><line x1="470.8" y1="68.0" x2="472.0" y2="67.4" stroke="#7a62cc" stroke-width="0.8"/>
<line x1="461.3" y1="70.1" x2="466.4" y2="70.1" stroke="#b0b0c0" stroke-width="0.8" stroke-dasharray="1.5,1"/>
<line x1="451.2" y1="76.6" x2="480.5" y2="76.6" stroke="#3c3c3c" stroke-width="1.4"/>
<circle cx="447.2" cy="81.2" r="2.5" fill="#fbe8ea" stroke="#d04858" stroke-width="0.85"/><circle cx="450.6" cy="78.0" r="1.3" fill="#fff" stroke="#d04858" stroke-width="0.8"/><line x1="448.4" y1="79.0" x2="449.6" y2="78.4" stroke="#d04858" stroke-width="0.8"/>
<circle cx="457.3" cy="81.2" r="2.5" fill="#eaf6ea" stroke="#64b864" stroke-width="0.85"/><circle cx="460.7" cy="78.0" r="1.3" fill="#fff" stroke="#64b864" stroke-width="0.8"/><line x1="458.5" y1="79.0" x2="459.7" y2="78.4" stroke="#64b864" stroke-width="0.8"/>
<circle cx="469.6" cy="81.2" r="2.5" fill="#eeeaf8" stroke="#7a62cc" stroke-width="0.85"/><circle cx="473.0" cy="78.0" r="1.3" fill="#fff" stroke="#7a62cc" stroke-width="0.8"/><line x1="470.8" y1="79.0" x2="472.0" y2="78.4" stroke="#7a62cc" stroke-width="0.8"/>
<line x1="461.3" y1="81.1" x2="466.4" y2="81.1" stroke="#b0b0c0" stroke-width="0.8" stroke-dasharray="1.5,1"/>
<line x1="451.2" y1="94.9" x2="480.5" y2="94.9" stroke="#3c3c3c" stroke-width="1.4"/>
<circle cx="447.2" cy="99.5" r="2.5" fill="#fbe8ea" stroke="#d04858" stroke-width="0.85"/><circle cx="450.6" cy="96.3" r="1.3" fill="#fff" stroke="#d04858" stroke-width="0.8"/><line x1="448.4" y1="97.3" x2="449.6" y2="96.7" stroke="#d04858" stroke-width="0.8"/>
<circle cx="457.3" cy="99.5" r="2.5" fill="#eaf6ea" stroke="#64b864" stroke-width="0.85"/><circle cx="460.7" cy="96.3" r="1.3" fill="#fff" stroke="#64b864" stroke-width="0.8"/><line x1="458.5" y1="97.3" x2="459.7" y2="96.7" stroke="#64b864" stroke-width="0.8"/>
<circle cx="469.6" cy="99.5" r="2.5" fill="#eeeaf8" stroke="#7a62cc" stroke-width="0.85"/><circle cx="473.0" cy="96.3" r="1.3" fill="#fff" stroke="#7a62cc" stroke-width="0.8"/><line x1="470.8" y1="97.3" x2="472.0" y2="96.7" stroke="#7a62cc" stroke-width="0.8"/>
<line x1="461.3" y1="99.4" x2="466.4" y2="99.4" stroke="#b0b0c0" stroke-width="0.8" stroke-dasharray="1.5,1"/>
<line x1="447.2" y1="87.4" x2="447.2" y2="93.4" stroke="#a89898" stroke-opacity="0.8" stroke-width="0.8" stroke-dasharray="1,1"/>
<line x1="457.3" y1="87.4" x2="457.3" y2="93.4" stroke="#a89898" stroke-opacity="0.8" stroke-width="0.8" stroke-dasharray="1,1"/>
<line x1="469.6" y1="87.4" x2="469.6" y2="93.4" stroke="#a89898" stroke-opacity="0.8" stroke-width="0.8" stroke-dasharray="1,1"/>
<line x1="451.2" y1="106.7" x2="480.5" y2="106.7" stroke="#3c3c3c" stroke-width="1.4"/>
<circle cx="447.2" cy="111.3" r="2.5" fill="#fbe8ea" stroke="#d04858" stroke-width="0.85"/><circle cx="450.6" cy="108.1" r="1.3" fill="#fff" stroke="#d04858" stroke-width="0.8"/><line x1="448.4" y1="109.1" x2="449.6" y2="108.5" stroke="#d04858" stroke-width="0.8"/>
<circle cx="457.3" cy="111.3" r="2.5" fill="#eaf6ea" stroke="#64b864" stroke-width="0.85"/><circle cx="460.7" cy="108.1" r="1.3" fill="#fff" stroke="#64b864" stroke-width="0.8"/><line x1="458.5" y1="109.1" x2="459.7" y2="108.5" stroke="#64b864" stroke-width="0.8"/>
<circle cx="469.6" cy="111.3" r="2.5" fill="#eeeaf8" stroke="#7a62cc" stroke-width="0.85"/><circle cx="473.0" cy="108.1" r="1.3" fill="#fff" stroke="#7a62cc" stroke-width="0.8"/><line x1="470.8" y1="109.1" x2="472.0" y2="108.5" stroke="#7a62cc" stroke-width="0.8"/>
<line x1="461.3" y1="111.2" x2="466.4" y2="111.2" stroke="#b0b0c0" stroke-width="0.8" stroke-dasharray="1.5,1"/>
<line x1="451.2" y1="117.7" x2="480.5" y2="117.7" stroke="#3c3c3c" stroke-width="1.4"/>
<circle cx="447.2" cy="122.3" r="2.5" fill="#fbe8ea" stroke="#d04858" stroke-width="0.85"/><circle cx="450.6" cy="119.1" r="1.3" fill="#fff" stroke="#d04858" stroke-width="0.8"/><line x1="448.4" y1="120.1" x2="449.6" y2="119.5" stroke="#d04858" stroke-width="0.8"/>
<circle cx="457.3" cy="122.3" r="2.5" fill="#eaf6ea" stroke="#64b864" stroke-width="0.85"/><circle cx="460.7" cy="119.1" r="1.3" fill="#fff" stroke="#64b864" stroke-width="0.8"/><line x1="458.5" y1="120.1" x2="459.7" y2="119.5" stroke="#64b864" stroke-width="0.8"/>
<circle cx="469.6" cy="122.3" r="2.5" fill="#eeeaf8" stroke="#7a62cc" stroke-width="0.85"/><circle cx="473.0" cy="119.1" r="1.3" fill="#fff" stroke="#7a62cc" stroke-width="0.8"/><line x1="470.8" y1="120.1" x2="472.0" y2="119.5" stroke="#7a62cc" stroke-width="0.8"/>
<line x1="461.3" y1="122.2" x2="466.4" y2="122.2" stroke="#b0b0c0" stroke-width="0.8" stroke-dasharray="1.5,1"/>
<line x1="451.2" y1="136.0" x2="480.5" y2="136.0" stroke="#3c3c3c" stroke-width="1.4"/>
<circle cx="447.2" cy="140.6" r="2.5" fill="#fbe8ea" stroke="#d04858" stroke-width="0.85"/><circle cx="450.6" cy="137.4" r="1.3" fill="#fff" stroke="#d04858" stroke-width="0.8"/><line x1="448.4" y1="138.4" x2="449.6" y2="137.8" stroke="#d04858" stroke-width="0.8"/>
<circle cx="457.3" cy="140.6" r="2.5" fill="#eaf6ea" stroke="#64b864" stroke-width="0.85"/><circle cx="460.7" cy="137.4" r="1.3" fill="#fff" stroke="#64b864" stroke-width="0.8"/><line x1="458.5" y1="138.4" x2="459.7" y2="137.8" stroke="#64b864" stroke-width="0.8"/>
<circle cx="469.6" cy="140.6" r="2.5" fill="#eeeaf8" stroke="#7a62cc" stroke-width="0.85"/><circle cx="473.0" cy="137.4" r="1.3" fill="#fff" stroke="#7a62cc" stroke-width="0.8"/><line x1="470.8" y1="138.4" x2="472.0" y2="137.8" stroke="#7a62cc" stroke-width="0.8"/>
<line x1="461.3" y1="140.5" x2="466.4" y2="140.5" stroke="#b0b0c0" stroke-width="0.8" stroke-dasharray="1.5,1"/>
<line x1="447.2" y1="128.5" x2="447.2" y2="134.5" stroke="#a89898" stroke-opacity="0.8" stroke-width="0.8" stroke-dasharray="1,1"/>
<line x1="457.3" y1="128.5" x2="457.3" y2="134.5" stroke="#a89898" stroke-opacity="0.8" stroke-width="0.8" stroke-dasharray="1,1"/>
<line x1="469.6" y1="128.5" x2="469.6" y2="134.5" stroke="#a89898" stroke-opacity="0.8" stroke-width="0.8" stroke-dasharray="1,1"/>
<line x1="451.2" y1="148.1" x2="480.5" y2="148.1" stroke="#3c3c3c" stroke-width="1.4"/>
<circle cx="447.2" cy="152.7" r="2.5" fill="#fbe8ea" stroke="#d04858" stroke-width="0.85"/><circle cx="450.6" cy="149.5" r="1.3" fill="#fff" stroke="#d04858" stroke-width="0.8"/><line x1="448.4" y1="150.5" x2="449.6" y2="149.9" stroke="#d04858" stroke-width="0.8"/>
<circle cx="457.3" cy="152.7" r="2.5" fill="#eaf6ea" stroke="#64b864" stroke-width="0.85"/><circle cx="460.7" cy="149.5" r="1.3" fill="#fff" stroke="#64b864" stroke-width="0.8"/><line x1="458.5" y1="150.5" x2="459.7" y2="149.9" stroke="#64b864" stroke-width="0.8"/>
<circle cx="469.6" cy="152.7" r="2.5" fill="#eeeaf8" stroke="#7a62cc" stroke-width="0.85"/><circle cx="473.0" cy="149.5" r="1.3" fill="#fff" stroke="#7a62cc" stroke-width="0.8"/><line x1="470.8" y1="150.5" x2="472.0" y2="149.9" stroke="#7a62cc" stroke-width="0.8"/>
<line x1="461.3" y1="152.6" x2="466.4" y2="152.6" stroke="#b0b0c0" stroke-width="0.8" stroke-dasharray="1.5,1"/>
<line x1="451.2" y1="159.1" x2="480.5" y2="159.1" stroke="#3c3c3c" stroke-width="1.4"/>
<circle cx="447.2" cy="163.7" r="2.5" fill="#fbe8ea" stroke="#d04858" stroke-width="0.85"/><circle cx="450.6" cy="160.5" r="1.3" fill="#fff" stroke="#d04858" stroke-width="0.8"/><line x1="448.4" y1="161.5" x2="449.6" y2="160.9" stroke="#d04858" stroke-width="0.8"/>
<circle cx="457.3" cy="163.7" r="2.5" fill="#eaf6ea" stroke="#64b864" stroke-width="0.85"/><circle cx="460.7" cy="160.5" r="1.3" fill="#fff" stroke="#64b864" stroke-width="0.8"/><line x1="458.5" y1="161.5" x2="459.7" y2="160.9" stroke="#64b864" stroke-width="0.8"/>
<circle cx="469.6" cy="163.7" r="2.5" fill="#eeeaf8" stroke="#7a62cc" stroke-width="0.85"/><circle cx="473.0" cy="160.5" r="1.3" fill="#fff" stroke="#7a62cc" stroke-width="0.8"/><line x1="470.8" y1="161.5" x2="472.0" y2="160.9" stroke="#7a62cc" stroke-width="0.8"/>
<line x1="461.3" y1="163.6" x2="466.4" y2="163.6" stroke="#b0b0c0" stroke-width="0.8" stroke-dasharray="1.5,1"/>
<line x1="451.2" y1="177.4" x2="480.5" y2="177.4" stroke="#3c3c3c" stroke-width="1.4"/>
<circle cx="447.2" cy="182.0" r="2.5" fill="#fbe8ea" stroke="#d04858" stroke-width="0.85"/><circle cx="450.6" cy="178.8" r="1.3" fill="#fff" stroke="#d04858" stroke-width="0.8"/><line x1="448.4" y1="179.8" x2="449.6" y2="179.2" stroke="#d04858" stroke-width="0.8"/>
<circle cx="457.3" cy="182.0" r="2.5" fill="#eaf6ea" stroke="#64b864" stroke-width="0.85"/><circle cx="460.7" cy="178.8" r="1.3" fill="#fff" stroke="#64b864" stroke-width="0.8"/><line x1="458.5" y1="179.8" x2="459.7" y2="179.2" stroke="#64b864" stroke-width="0.8"/>
<circle cx="469.6" cy="182.0" r="2.5" fill="#eeeaf8" stroke="#7a62cc" stroke-width="0.85"/><circle cx="473.0" cy="178.8" r="1.3" fill="#fff" stroke="#7a62cc" stroke-width="0.8"/><line x1="470.8" y1="179.8" x2="472.0" y2="179.2" stroke="#7a62cc" stroke-width="0.8"/>
<line x1="461.3" y1="181.9" x2="466.4" y2="181.9" stroke="#b0b0c0" stroke-width="0.8" stroke-dasharray="1.5,1"/>
<line x1="447.2" y1="169.9" x2="447.2" y2="175.9" stroke="#a89898" stroke-opacity="0.8" stroke-width="0.8" stroke-dasharray="1,1"/>
<line x1="457.3" y1="169.9" x2="457.3" y2="175.9" stroke="#a89898" stroke-opacity="0.8" stroke-width="0.8" stroke-dasharray="1,1"/>
<line x1="469.6" y1="169.9" x2="469.6" y2="175.9" stroke="#a89898" stroke-opacity="0.8" stroke-width="0.8" stroke-dasharray="1,1"/>
<rect x="132.0" y="29.1" width="36.6" height="35.8" rx="4" fill="#fff" stroke="#7d8cc8" stroke-width="1.1"/>
<text x="150.3" y="39.9" font-size="8.2" fill="#4b5db3" font-weight="bold" font-style="normal" text-anchor="middle"  stroke="#4b5db3" stroke-width="0.22">8×8</text>
<text x="150.3" y="50.4" font-size="8.2" fill="#4b5db3" font-weight="bold" font-style="normal" text-anchor="middle"  stroke="#4b5db3" stroke-width="0.22">MZI</text>
<text x="150.3" y="60.7" font-size="8.2" fill="#4b5db3" font-weight="bold" font-style="normal" text-anchor="middle"  stroke="#4b5db3" stroke-width="0.22">Mesh</text>
<rect x="132.0" y="69.9" width="36.6" height="35.8" rx="4" fill="#fff" stroke="#7d8cc8" stroke-width="1.1"/>
<text x="150.3" y="80.7" font-size="8.2" fill="#4b5db3" font-weight="bold" font-style="normal" text-anchor="middle"  stroke="#4b5db3" stroke-width="0.22">8×8</text>
<text x="150.3" y="91.2" font-size="8.2" fill="#4b5db3" font-weight="bold" font-style="normal" text-anchor="middle"  stroke="#4b5db3" stroke-width="0.22">MZI</text>
<text x="150.3" y="101.5" font-size="8.2" fill="#4b5db3" font-weight="bold" font-style="normal" text-anchor="middle"  stroke="#4b5db3" stroke-width="0.22">Mesh</text>
<rect x="132.0" y="111.0" width="36.6" height="35.8" rx="4" fill="#fff" stroke="#7d8cc8" stroke-width="1.1"/>
<text x="150.3" y="121.8" font-size="8.2" fill="#4b5db3" font-weight="bold" font-style="normal" text-anchor="middle"  stroke="#4b5db3" stroke-width="0.22">8×8</text>
<text x="150.3" y="132.3" font-size="8.2" fill="#4b5db3" font-weight="bold" font-style="normal" text-anchor="middle"  stroke="#4b5db3" stroke-width="0.22">MZI</text>
<text x="150.3" y="142.6" font-size="8.2" fill="#4b5db3" font-weight="bold" font-style="normal" text-anchor="middle"  stroke="#4b5db3" stroke-width="0.22">Mesh</text>
<rect x="132.0" y="152.4" width="36.6" height="35.8" rx="4" fill="#fff" stroke="#7d8cc8" stroke-width="1.1"/>
<text x="150.3" y="163.2" font-size="8.2" fill="#4b5db3" font-weight="bold" font-style="normal" text-anchor="middle"  stroke="#4b5db3" stroke-width="0.22">8×8</text>
<text x="150.3" y="173.7" font-size="8.2" fill="#4b5db3" font-weight="bold" font-style="normal" text-anchor="middle"  stroke="#4b5db3" stroke-width="0.22">MZI</text>
<text x="150.3" y="184.0" font-size="8.2" fill="#4b5db3" font-weight="bold" font-style="normal" text-anchor="middle"  stroke="#4b5db3" stroke-width="0.22">Mesh</text>
<rect x="203.5" y="29.1" width="36.5" height="35.8" rx="4" fill="#fff" stroke="#7d8cc8" stroke-width="1.1"/>
<text x="221.8" y="39.9" font-size="8.2" fill="#4b5db3" font-weight="bold" font-style="normal" text-anchor="middle"  stroke="#4b5db3" stroke-width="0.22">8×8</text>
<text x="221.8" y="50.4" font-size="8.2" fill="#4b5db3" font-weight="bold" font-style="normal" text-anchor="middle"  stroke="#4b5db3" stroke-width="0.22">MZI</text>
<text x="221.8" y="60.7" font-size="8.2" fill="#4b5db3" font-weight="bold" font-style="normal" text-anchor="middle"  stroke="#4b5db3" stroke-width="0.22">Mesh</text>
<rect x="203.5" y="69.9" width="36.5" height="35.8" rx="4" fill="#fff" stroke="#7d8cc8" stroke-width="1.1"/>
<text x="221.8" y="80.7" font-size="8.2" fill="#4b5db3" font-weight="bold" font-style="normal" text-anchor="middle"  stroke="#4b5db3" stroke-width="0.22">8×8</text>
<text x="221.8" y="91.2" font-size="8.2" fill="#4b5db3" font-weight="bold" font-style="normal" text-anchor="middle"  stroke="#4b5db3" stroke-width="0.22">MZI</text>
<text x="221.8" y="101.5" font-size="8.2" fill="#4b5db3" font-weight="bold" font-style="normal" text-anchor="middle"  stroke="#4b5db3" stroke-width="0.22">Mesh</text>
<rect x="203.5" y="111.0" width="36.5" height="35.8" rx="4" fill="#fff" stroke="#7d8cc8" stroke-width="1.1"/>
<text x="221.8" y="121.8" font-size="8.2" fill="#4b5db3" font-weight="bold" font-style="normal" text-anchor="middle"  stroke="#4b5db3" stroke-width="0.22">8×8</text>
<text x="221.8" y="132.3" font-size="8.2" fill="#4b5db3" font-weight="bold" font-style="normal" text-anchor="middle"  stroke="#4b5db3" stroke-width="0.22">MZI</text>
<text x="221.8" y="142.6" font-size="8.2" fill="#4b5db3" font-weight="bold" font-style="normal" text-anchor="middle"  stroke="#4b5db3" stroke-width="0.22">Mesh</text>
<rect x="203.5" y="152.4" width="36.5" height="35.8" rx="4" fill="#fff" stroke="#7d8cc8" stroke-width="1.1"/>
<text x="221.8" y="163.2" font-size="8.2" fill="#4b5db3" font-weight="bold" font-style="normal" text-anchor="middle"  stroke="#4b5db3" stroke-width="0.22">8×8</text>
<text x="221.8" y="173.7" font-size="8.2" fill="#4b5db3" font-weight="bold" font-style="normal" text-anchor="middle"  stroke="#4b5db3" stroke-width="0.22">MZI</text>
<text x="221.8" y="184.0" font-size="8.2" fill="#4b5db3" font-weight="bold" font-style="normal" text-anchor="middle"  stroke="#4b5db3" stroke-width="0.22">Mesh</text>
<rect x="333.4" y="29.1" width="36.4" height="35.8" rx="4" fill="#fff" stroke="#7d8cc8" stroke-width="1.1"/>
<text x="351.6" y="39.9" font-size="8.2" fill="#4b5db3" font-weight="bold" font-style="normal" text-anchor="middle"  stroke="#4b5db3" stroke-width="0.22">8×8</text>
<text x="351.6" y="50.4" font-size="8.2" fill="#4b5db3" font-weight="bold" font-style="normal" text-anchor="middle"  stroke="#4b5db3" stroke-width="0.22">MZI</text>
<text x="351.6" y="60.7" font-size="8.2" fill="#4b5db3" font-weight="bold" font-style="normal" text-anchor="middle"  stroke="#4b5db3" stroke-width="0.22">Mesh</text>
<rect x="333.4" y="69.9" width="36.4" height="35.8" rx="4" fill="#fff" stroke="#7d8cc8" stroke-width="1.1"/>
<text x="351.6" y="80.7" font-size="8.2" fill="#4b5db3" font-weight="bold" font-style="normal" text-anchor="middle"  stroke="#4b5db3" stroke-width="0.22">8×8</text>
<text x="351.6" y="91.2" font-size="8.2" fill="#4b5db3" font-weight="bold" font-style="normal" text-anchor="middle"  stroke="#4b5db3" stroke-width="0.22">MZI</text>
<text x="351.6" y="101.5" font-size="8.2" fill="#4b5db3" font-weight="bold" font-style="normal" text-anchor="middle"  stroke="#4b5db3" stroke-width="0.22">Mesh</text>
<rect x="333.4" y="111.0" width="36.4" height="35.8" rx="4" fill="#fff" stroke="#7d8cc8" stroke-width="1.1"/>
<text x="351.6" y="121.8" font-size="8.2" fill="#4b5db3" font-weight="bold" font-style="normal" text-anchor="middle"  stroke="#4b5db3" stroke-width="0.22">8×8</text>
<text x="351.6" y="132.3" font-size="8.2" fill="#4b5db3" font-weight="bold" font-style="normal" text-anchor="middle"  stroke="#4b5db3" stroke-width="0.22">MZI</text>
<text x="351.6" y="142.6" font-size="8.2" fill="#4b5db3" font-weight="bold" font-style="normal" text-anchor="middle"  stroke="#4b5db3" stroke-width="0.22">Mesh</text>
<rect x="333.4" y="152.4" width="36.4" height="35.8" rx="4" fill="#fff" stroke="#7d8cc8" stroke-width="1.1"/>
<text x="351.6" y="163.2" font-size="8.2" fill="#4b5db3" font-weight="bold" font-style="normal" text-anchor="middle"  stroke="#4b5db3" stroke-width="0.22">8×8</text>
<text x="351.6" y="173.7" font-size="8.2" fill="#4b5db3" font-weight="bold" font-style="normal" text-anchor="middle"  stroke="#4b5db3" stroke-width="0.22">MZI</text>
<text x="351.6" y="184.0" font-size="8.2" fill="#4b5db3" font-weight="bold" font-style="normal" text-anchor="middle"  stroke="#4b5db3" stroke-width="0.22">Mesh</text>
<rect x="406.0" y="29.1" width="36.0" height="35.8" rx="4" fill="#fff" stroke="#7d8cc8" stroke-width="1.1"/>
<text x="424.0" y="39.9" font-size="8.2" fill="#4b5db3" font-weight="bold" font-style="normal" text-anchor="middle"  stroke="#4b5db3" stroke-width="0.22">8×8</text>
<text x="424.0" y="50.4" font-size="8.2" fill="#4b5db3" font-weight="bold" font-style="normal" text-anchor="middle"  stroke="#4b5db3" stroke-width="0.22">MZI</text>
<text x="424.0" y="60.7" font-size="8.2" fill="#4b5db3" font-weight="bold" font-style="normal" text-anchor="middle"  stroke="#4b5db3" stroke-width="0.22">Mesh</text>
<rect x="406.0" y="69.9" width="36.0" height="35.8" rx="4" fill="#fff" stroke="#7d8cc8" stroke-width="1.1"/>
<text x="424.0" y="80.7" font-size="8.2" fill="#4b5db3" font-weight="bold" font-style="normal" text-anchor="middle"  stroke="#4b5db3" stroke-width="0.22">8×8</text>
<text x="424.0" y="91.2" font-size="8.2" fill="#4b5db3" font-weight="bold" font-style="normal" text-anchor="middle"  stroke="#4b5db3" stroke-width="0.22">MZI</text>
<text x="424.0" y="101.5" font-size="8.2" fill="#4b5db3" font-weight="bold" font-style="normal" text-anchor="middle"  stroke="#4b5db3" stroke-width="0.22">Mesh</text>
<rect x="406.0" y="111.0" width="36.0" height="35.8" rx="4" fill="#fff" stroke="#7d8cc8" stroke-width="1.1"/>
<text x="424.0" y="121.8" font-size="8.2" fill="#4b5db3" font-weight="bold" font-style="normal" text-anchor="middle"  stroke="#4b5db3" stroke-width="0.22">8×8</text>
<text x="424.0" y="132.3" font-size="8.2" fill="#4b5db3" font-weight="bold" font-style="normal" text-anchor="middle"  stroke="#4b5db3" stroke-width="0.22">MZI</text>
<text x="424.0" y="142.6" font-size="8.2" fill="#4b5db3" font-weight="bold" font-style="normal" text-anchor="middle"  stroke="#4b5db3" stroke-width="0.22">Mesh</text>
<rect x="406.0" y="152.4" width="36.0" height="35.8" rx="4" fill="#fff" stroke="#7d8cc8" stroke-width="1.1"/>
<text x="424.0" y="163.2" font-size="8.2" fill="#4b5db3" font-weight="bold" font-style="normal" text-anchor="middle"  stroke="#4b5db3" stroke-width="0.22">8×8</text>
<text x="424.0" y="173.7" font-size="8.2" fill="#4b5db3" font-weight="bold" font-style="normal" text-anchor="middle"  stroke="#4b5db3" stroke-width="0.22">MZI</text>
<text x="424.0" y="184.0" font-size="8.2" fill="#4b5db3" font-weight="bold" font-style="normal" text-anchor="middle"  stroke="#4b5db3" stroke-width="0.22">Mesh</text>
<text x="8.7" y="201.8" font-size="9.5" fill="#2a2a2a" font-weight="normal" font-style="normal" text-anchor="start" textLength="11.5" lengthAdjust="spacingAndGlyphs"  stroke="#2a2a2a" stroke-width="0.22">(b)</text>
<polygon points="67.8,204.3 148.8,243.2 148.8,250.7 67.8,211.8" fill="#5a6062" stroke="none" stroke-width="0" />
<polygon points="67.8,204.3 148.8,243.2 148.8,245.6 67.8,206.7" fill="#72dce2" stroke="none" stroke-width="0" />
<polygon points="148.8,243.2 165.9,233.3 165.9,240.8 148.8,250.7" fill="#4a5052" stroke="none" stroke-width="0" />
<polygon points="148.8,243.2 165.9,233.3 165.9,235.7 148.8,245.6" fill="#60c8ce" stroke="none" stroke-width="0" />
<polygon points="67.8,204.3 148.8,243.2 165.9,233.3 84.9,194.4" fill="#66666a" stroke="none" stroke-width="0" />
<polygon points="69.2,203.2 148.8,241.3 152.7,239.0 73.2,200.9" fill="#7e7e82" stroke="none" stroke-width="0" />
<polygon points="69.2,204.0 69.2,203.2 148.8,241.3 148.8,242.2" fill="#58585c" stroke="none" stroke-width="0" />
<polygon points="74.5,199.4 154.0,237.5 158.0,235.2 78.5,197.1" fill="#7e7e82" stroke="none" stroke-width="0" />
<polygon points="74.5,201.0 74.5,199.4 154.0,237.5 154.0,239.1" fill="#58585c" stroke="none" stroke-width="0" />
<polygon points="80.2,195.3 159.7,233.4 163.7,231.1 84.2,193.0" fill="#7e7e82" stroke="none" stroke-width="0" />
<polygon points="80.2,197.7 80.2,195.3 159.7,233.4 159.7,235.8" fill="#58585c" stroke="none" stroke-width="0" />
<polygon points="104.9,211.5 148.9,232.7 154.6,229.4 110.6,208.2" fill="#7434c4" stroke="none" stroke-width="0" />
<polygon points="109.7,210.9 149.7,230.1 152.1,228.7 112.1,209.5" fill="#9a5ae8" stroke="none" stroke-width="0" />
<polygon points="97.3,214.8 137.3,234.0 139.7,232.6 99.7,213.4" fill="#f0b828" stroke="none" stroke-width="0" />
<polygon points="103.4,214.1 138.4,230.9 140.6,229.6 105.6,212.8" fill="#f2c630" stroke="none" stroke-width="0" />
<polygon points="122.2,212.5 157.2,229.3 159.3,228.1 124.3,211.3" fill="#f4d440" stroke="none" stroke-width="0" />
<polygon points="124.9,229.5 146.9,240.1 150.2,238.2 128.2,227.7" fill="#a8403c" stroke="none" stroke-width="0" />
<polygon points="148.8,231.6 155.8,235.0 162.0,231.4 155.0,228.1" fill="#c8c8e8" stroke="none" stroke-width="0" opacity="0.85"/>
<circle cx="84.0" cy="201.8" r="0.75" fill="#2a2a2a"/>
<circle cx="87.2" cy="203.3" r="0.75" fill="#2a2a2a"/>
<circle cx="90.4" cy="204.9" r="0.75" fill="#2a2a2a"/>
<circle cx="93.6" cy="206.4" r="0.75" fill="#2a2a2a"/>
<circle cx="96.8" cy="208.0" r="0.75" fill="#2a2a2a"/>
<circle cx="100.0" cy="209.5" r="0.75" fill="#2a2a2a"/>
<text x="111.4" y="200.8" font-size="8.4" fill="#2a2a2a" font-weight="normal" font-style="normal" text-anchor="start" textLength="52" lengthAdjust="spacingAndGlyphs"  stroke="#2a2a2a" stroke-width="0.22">QD comb laser</text>
<polygon points="29.2,268.9 96.2,231.5 134.3,249.2 58.1,288.5" fill="#cbcbcb" stroke="none" stroke-width="0" />
<polygon points="29.2,268.9 58.1,288.5 58.1,290.0 29.2,270.4" fill="#9a9a9a" stroke="none" stroke-width="0" />
<polygon points="58.1,288.5 134.3,249.2 134.3,250.7 58.1,290.0" fill="#a8a8a8" stroke="none" stroke-width="0" />
<line x1="57" y1="285.5" x2="133" y2="246.5" stroke="#222" stroke-width="1.1"/>
<line x1="56" y1="283.3" x2="131" y2="244.8" stroke="#777" stroke-width="0.6"/>
<ellipse cx="87.5" cy="262" rx="19" ry="8" fill="#9a9a9a" opacity="0.5"/>
<path d="M70.5,262 A17,9 0 1 1 104.5,258" fill="none" stroke="#b89a10" stroke-width="5.6"/>
<path d="M70.5,260.6 A17,9 0 1 1 104.5,256.6" fill="none" stroke="#f4dc28" stroke-width="4.6"/>
<ellipse cx="87.5" cy="259" rx="14.5" ry="8" fill="#6a2cc0"/>
<ellipse cx="87.5" cy="258" rx="12" ry="6" fill="#7a3ad0"/>
<path d="M96,263 Q103,264 106,259 L108,262 Q104,270 95,268Z" fill="#6a2cc0"/>
<ellipse cx="87.5" cy="263" rx="8.5" ry="3.2" fill="#8cc4e4"/>
<ellipse cx="87.5" cy="259" rx="6.4" ry="4.3" fill="#f2dc30"/>
<ellipse cx="87.5" cy="258.4" rx="4.6" ry="2.8" fill="#f8ea60"/>
<text x="87.5" y="260.2" font-size="4" fill="#222" font-weight="bold" font-style="normal" text-anchor="middle"  stroke="#222" stroke-width="0.12">p</text>
<line x1="98" y1="263.5" x2="106" y2="260" stroke="#c8a8f4" stroke-width="1.6"/>
<path d="M71,253 L74,250.5" stroke="#222" stroke-width="1.6"/>
<text x="66.0" y="277.0" font-size="4.5" fill="#3a66d0" font-weight="normal" font-style="normal" text-anchor="start" transform="rotate(-25 66 277)" stroke="#3a66d0" stroke-width="0.12">Gate</text>
<text x="70.0" y="281.0" font-size="4.5" fill="#3a66d0" font-weight="normal" font-style="normal" text-anchor="start" transform="rotate(-25 70 281)" stroke="#3a66d0" stroke-width="0.12">oxide</text>
<path d="M100,243 L106,236 L110,244" stroke="#a090d0" stroke-width="0.6" fill="none"/>
<defs>
<linearGradient id="semg" x1="0" y1="0" x2="0" y2="1">
<stop offset="0" stop-color="#121212"/><stop offset="0.3" stop-color="#1a1a1a"/><stop offset="0.38" stop-color="#2a2a2a"/>
<stop offset="0.41" stop-color="#8a8a8a"/><stop offset="0.45" stop-color="#b4b4b4"/><stop offset="0.6" stop-color="#c9c9c9"/>
<stop offset="0.72" stop-color="#b8b8b8"/><stop offset="0.76" stop-color="#7a7a7a"/><stop offset="1" stop-color="#666"/>
</linearGradient></defs>
<rect x="7.7" y="211" width="54.5" height="47" fill="url(#semg)"/>
<rect x="38.5" y="215.9" width="15.8" height="6.5" fill="#8c7ccc"/>
<text x="46.4" y="221.2" font-size="5.6" fill="#f4f0ff" font-weight="normal" font-style="normal" text-anchor="middle" textLength="13" lengthAdjust="spacingAndGlyphs"  stroke="#f4f0ff" stroke-width="0.12">III-V</text>
<text x="28.4" y="240.8" font-size="7.4" fill="#222" font-weight="normal" font-style="normal" text-anchor="start" textLength="21.6" lengthAdjust="spacingAndGlyphs"  stroke="#222" stroke-width="0.22">14.6 nm</text>
<line x1="52.8" y1="233.5" x2="52.8" y2="245" stroke="#000" stroke-width="0.9"/>
<path d="M51.3,234.8 L52.8,232 L54.3,234.8Z M51.3,243.6 L52.8,246.4 L54.3,243.6Z" fill="#000"/>
<text x="37.2" y="255.0" font-size="7.2" fill="#f4f4f4" font-weight="normal" font-style="normal" text-anchor="start" textLength="17.7" lengthAdjust="spacingAndGlyphs"  stroke="#f4f4f4" stroke-width="0.22">Silicon</text>
<line x1="18.4" y1="222" x2="18.4" y2="231" stroke="#e8e020" stroke-width="0.9"/>
<line x1="10.8" y1="230.9" x2="25" y2="230.9" stroke="#e8e020" stroke-width="0.9"/>
<line x1="10.8" y1="246.7" x2="25" y2="246.7" stroke="#e8e020" stroke-width="0.9"/>
<line x1="18.4" y1="246.7" x2="18.4" y2="256" stroke="#e8e020" stroke-width="0.9"/>
<text x="17.6" y="237.2" font-size="5.2" fill="#eeea40" font-weight="bold" font-style="normal" text-anchor="middle" textLength="12" lengthAdjust="spacingAndGlyphs"  stroke="#eeea40" stroke-width="0.12">Gate</text>
<text x="17.6" y="243.6" font-size="5.2" fill="#eeea40" font-weight="bold" font-style="normal" text-anchor="middle" textLength="13" lengthAdjust="spacingAndGlyphs"  stroke="#eeea40" stroke-width="0.12">oxide</text>
<line x1="10" y1="256.2" x2="17" y2="256.2" stroke="#ddd" stroke-width="0.7"/>
<text x="13.5" y="288.6" font-size="8.6" fill="#2a2a2a" font-weight="normal" font-style="normal" text-anchor="start" textLength="32.3" lengthAdjust="spacingAndGlyphs"  stroke="#2a2a2a" stroke-width="0.22">MOSCAP</text>
<text x="13.5" y="299.4" font-size="8.6" fill="#2a2a2a" font-weight="normal" font-style="normal" text-anchor="start" textLength="58" lengthAdjust="spacingAndGlyphs"  stroke="#2a2a2a" stroke-width="0.22">modulator/filter</text>
<rect x="76" y="295.5" width="56" height="2.5" fill="#8a8a8a"/>
<rect x="76" y="282.3" width="20" height="13" fill="#e6b032"/>
<text x="86.0" y="291.0" font-size="4.5" fill="#222" font-weight="bold" font-style="normal" text-anchor="middle"  stroke="#222" stroke-width="0.12">P</text>
<rect x="109" y="288" width="18" height="9" fill="#8a5252"/>
<rect x="100.8" y="288" width="40" height="1.6" fill="#a8d8f0"/>
<rect x="100.8" y="282.8" width="45.3" height="5.2" fill="#8a52e6"/>
<rect x="130.9" y="272.8" width="16.1" height="9.5" fill="#e6b032"/>
<text x="139.0" y="279.0" font-size="4.5" fill="#222" font-weight="bold" font-style="normal" text-anchor="middle"  stroke="#222" stroke-width="0.12">N</text>
<rect x="138.3" y="289.6" width="7.7" height="7.5" fill="#6a6a72"/>
<text x="128.0" y="293.0" font-size="3.6" fill="#333" font-weight="normal" font-style="normal" text-anchor="start"  stroke="#333" stroke-width="0.12">Air trench</text>
<text x="137.0" y="287.0" font-size="3.6" fill="#f0e8ff" font-weight="normal" font-style="normal" text-anchor="start"  stroke="#f0e8ff" stroke-width="0.12">n-GaAs</text>
<text x="77.0" y="299.0" font-size="3.6" fill="#333" font-weight="normal" font-style="normal" text-anchor="start"  stroke="#333" stroke-width="0.12">p++ Si</text>
<text x="96.0" y="299.0" font-size="3.6" fill="#333" font-weight="normal" font-style="normal" text-anchor="start"  stroke="#333" stroke-width="0.12">n-Si</text>
<text x="107" y="280.3" font-size="5" fill="#333" stroke="#333" stroke-width="0.12">Al<tspan font-size="3.5" dy="1">2</tspan><tspan dy="-1">O</tspan><tspan font-size="3.5" dy="1">3</tspan></text>
<line x1="109" y1="281" x2="103" y2="287" stroke="#333" stroke-width="0.5"/>
<defs><linearGradient id="rain" gradientUnits="userSpaceOnUse" x1="187" y1="0" x2="371" y2="0"><stop offset="0.014" stop-color="#4a1f96"/><stop offset="0.104" stop-color="#5a2aa8"/><stop offset="0.164" stop-color="#3a3cb0"/><stop offset="0.223" stop-color="#3357c0"/><stop offset="0.283" stop-color="#4a8fd8"/><stop offset="0.328" stop-color="#5fb0e6"/><stop offset="0.373" stop-color="#4aa868"/><stop offset="0.463" stop-color="#4caf48"/><stop offset="0.522" stop-color="#8cc83c"/><stop offset="0.582" stop-color="#e8e82a"/><stop offset="0.627" stop-color="#f4e02a"/><stop offset="0.672" stop-color="#f0b02a"/><stop offset="0.717" stop-color="#ec7020"/><stop offset="0.761" stop-color="#e02c14"/><stop offset="0.821" stop-color="#d00a0a"/><stop offset="1.001" stop-color="#b80000"/></linearGradient></defs>
<path d="M188.5,286.1 L188.5,282.9 L189.0,286.1 L189.5,285.7 L190.0,286.1 L190.5,279.3 L191.0,286.1 L191.5,285.0 L192.0,286.1 L192.5,283.0 L193.0,286.1 L193.5,283.6 L193.9,286.1 L194.4,279.5 L194.9,286.1 L195.4,281.7 L195.9,286.1 L196.4,273.0 L196.9,285.3 L197.4,279.5 L197.9,284.8 L198.4,275.4 L198.9,283.3 L199.4,276.6 L199.9,283.0 L200.4,269.7 L200.9,280.9 L201.4,273.2 L201.9,278.7 L202.4,269.3 L202.9,277.1 L203.4,269.1 L203.8,274.2 L204.3,262.5 L204.8,268.7 L205.3,262.3 L205.8,268.7 L206.3,253.2 L206.8,263.9 L207.3,253.5 L207.8,260.0 L208.3,242.5 L208.8,256.0 L209.3,246.4 L209.8,250.5 L210.3,235.9 L210.8,247.8 L211.3,240.4 L211.8,247.2 L212.3,229.8 L212.8,240.6 L213.3,235.6 L213.7,238.5 L214.2,230.2 L214.7,240.2 L215.2,231.3 L215.7,235.7 L216.2,223.4 L216.7,233.3 L217.2,227.9 L217.7,232.6 L218.2,225.2 L218.7,226.7 L219.2,223.7 L219.7,226.0 L220.2,221.8 L220.7,225.1 L221.2,220.8 L221.7,224.3 L222.2,219.6 L222.7,223.0 L223.2,221.6 L223.6,223.2 L224.1,219.7 L224.6,223.4 L225.1,220.8 L225.6,223.2 L226.1,221.8 L226.6,223.5 L227.1,220.9 L227.6,222.8 L228.1,222.3 L228.6,223.7 L229.1,220.5 L229.6,223.2 L230.1,221.6 L230.6,224.2 L231.1,223.8 L231.6,224.6 L232.1,222.8 L232.6,226.0 L233.1,225.2 L233.5,226.2 L234.0,225.8 L234.5,226.9 L235.0,225.8 L235.5,227.9 L236.0,224.9 L236.5,228.1 L237.0,225.5 L237.5,228.5 L238.0,228.6 L238.5,229.6 L239.0,229.4 L239.5,229.8 L240.0,228.7 L240.5,230.6 L241.0,229.5 L241.5,229.9 L242.0,227.8 L242.5,230.5 L243.0,227.7 L243.4,231.4 L243.9,229.4 L244.4,231.0 L244.9,229.2 L245.4,231.4 L245.9,229.1 L246.4,231.4 L246.9,228.2 L247.4,231.1 L247.9,227.1 L248.4,229.0 L248.9,225.2 L249.4,227.3 L249.9,224.9 L250.4,227.0 L250.9,223.1 L251.4,225.2 L251.9,223.1 L252.4,223.8 L252.9,220.5 L253.3,222.0 L253.8,219.2 L254.3,221.7 L254.8,219.8 L255.3,220.8 L255.8,218.6 L256.3,220.7 L256.8,218.8 L257.3,220.7 L257.8,217.7 L258.3,219.6 L258.8,219.2 L259.3,220.4 L259.8,216.8 L260.3,219.6 L260.8,218.0 L261.3,220.0 L261.8,218.3 L262.3,219.6 L262.8,218.3 L263.2,219.6 L263.7,217.6 L264.2,219.5 L264.7,218.1 L265.2,220.2 L265.7,219.0 L266.2,219.9 L266.7,217.2 L267.2,219.5 L267.7,218.5 L268.2,220.2 L268.7,218.5 L269.2,219.4 L269.7,218.0 L270.2,220.1 L270.7,218.8 L271.2,219.6 L271.7,218.3 L272.2,220.3 L272.7,218.0 L273.1,220.4 L273.6,218.8 L274.1,219.7 L274.6,217.6 L275.1,220.5 L275.6,218.2 L276.1,219.7 L276.6,219.1 L277.1,220.2 L277.6,219.0 L278.1,220.7 L278.6,217.5 L279.1,219.9 L279.6,219.0 L280.1,220.8 L280.6,218.1 L281.1,220.9 L281.6,219.0 L282.1,220.0 L282.6,219.2 L283.0,221.0 L283.5,219.4 L284.0,220.5 L284.5,219.2 L285.0,220.8 L285.5,219.4 L286.0,221.7 L286.5,220.3 L287.0,220.7 L287.5,218.5 L288.0,222.1 L288.5,218.5 L289.0,221.7 L289.5,218.8 L290.0,222.6 L290.5,220.9 L291.0,222.5 L291.5,219.5 L292.0,222.6 L292.5,220.3 L292.9,222.0 L293.4,220.6 L293.9,221.8 L294.4,221.3 L294.9,222.3 L295.4,220.6 L295.9,222.5 L296.4,221.2 L296.9,222.6 L297.4,219.5 L297.9,222.5 L298.4,218.9 L298.9,222.4 L299.4,219.6 L299.9,221.1 L300.4,219.0 L300.9,221.2 L301.4,220.0 L301.9,221.7 L302.4,219.2 L302.8,221.1 L303.3,217.9 L303.8,221.2 L304.3,219.2 L304.8,220.5 L305.3,217.7 L305.8,220.6 L306.3,217.7 L306.8,220.2 L307.3,219.0 L307.8,220.3 L308.3,217.2 L308.8,219.5 L309.3,217.0 L309.8,220.3 L310.3,216.8 L310.8,220.0 L311.3,218.5 L311.8,219.5 L312.3,216.1 L312.7,218.4 L313.2,217.4 L313.7,218.5 L314.2,216.5 L314.7,218.5 L315.2,216.4 L315.7,218.7 L316.2,217.4 L316.7,217.5 L317.2,216.8 L317.7,217.3 L318.2,216.6 L318.7,218.2 L319.2,214.3 L319.7,216.6 L320.2,215.0 L320.7,216.7 L321.2,215.2 L321.7,216.4 L322.2,214.0 L322.6,216.5 L323.1,214.6 L323.6,215.8 L324.1,215.1 L324.6,216.1 L325.1,214.9 L325.6,217.4 L326.1,215.8 L326.6,216.9 L327.1,216.8 L327.6,217.7 L328.1,216.1 L328.6,218.7 L329.1,217.4 L329.6,219.5 L330.1,217.5 L330.6,219.7 L331.1,218.9 L331.6,220.6 L332.1,218.9 L332.5,221.3 L333.0,219.7 L333.5,222.1 L334.0,221.6 L334.5,223.0 L335.0,221.2 L335.5,223.1 L336.0,222.7 L336.5,224.4 L337.0,222.3 L337.5,225.9 L338.0,224.4 L338.5,226.6 L339.0,218.7 L339.5,229.7 L340.0,227.1 L340.5,231.6 L341.0,225.6 L341.5,234.1 L342.0,228.9 L342.4,234.3 L342.9,221.6 L343.4,235.8 L343.9,230.6 L344.4,236.1 L344.9,224.5 L345.4,236.5 L345.9,233.2 L346.4,236.0 L346.9,229.4 L347.4,237.6 L347.9,237.4 L348.4,240.4 L348.9,232.2 L349.4,242.0 L349.9,241.7 L350.4,244.4 L350.9,241.8 L351.4,250.4 L351.9,246.1 L352.3,249.3 L352.8,246.8 L353.3,254.6 L353.8,250.5 L354.3,253.4 L354.8,245.0 L355.3,258.3 L355.8,255.1 L356.3,261.4 L356.8,248.7 L357.3,262.4 L357.8,259.7 L358.3,265.8 L358.8,260.3 L359.3,267.9 L359.8,264.3 L360.3,269.0 L360.8,259.7 L361.3,269.4 L361.8,269.2 L362.2,275.0 L362.7,263.2 L363.2,274.3 L363.7,274.3 L364.2,278.2 L364.7,271.2 L365.2,283.2 L365.7,279.5 L366.2,282.9 L366.7,279.3 L367.2,285.6 L367.7,283.8 L368.2,286.1 L368.7,277.3 L369.2,286.1 L369.7,285.1 L370.2,286.1 L370.7,281.3 L371.2,286.1 L371.1,286.1 Z" fill="url(#rain)"/>
<rect x="187.1" y="200.7" width="183.9" height="85.4" fill="none" stroke="#555" stroke-width="0.9"/>
<line x1="187.1" y1="232" x2="371" y2="232" stroke="#222" stroke-width="0.7" stroke-dasharray="1.2,1.2"/>
<text x="181.6" y="203.4" font-size="6.1" fill="#444" font-weight="normal" font-style="normal" text-anchor="end"  stroke="#444" stroke-width="0.12">-35</text>
<line x1="187.1" y1="201.3" x2="185.6" y2="201.3" stroke="#555" stroke-width="0.6"/>
<text x="181.6" y="217.5" font-size="6.1" fill="#444" font-weight="normal" font-style="normal" text-anchor="end"  stroke="#444" stroke-width="0.12">-40</text>
<line x1="187.1" y1="215.4" x2="185.6" y2="215.4" stroke="#555" stroke-width="0.6"/>
<text x="181.6" y="231.7" font-size="6.1" fill="#444" font-weight="normal" font-style="normal" text-anchor="end"  stroke="#444" stroke-width="0.12">-45</text>
<line x1="187.1" y1="229.6" x2="185.6" y2="229.6" stroke="#555" stroke-width="0.6"/>
<text x="181.6" y="245.8" font-size="6.1" fill="#444" font-weight="normal" font-style="normal" text-anchor="end"  stroke="#444" stroke-width="0.12">-50</text>
<line x1="187.1" y1="243.7" x2="185.6" y2="243.7" stroke="#555" stroke-width="0.6"/>
<text x="181.6" y="259.9" font-size="6.1" fill="#444" font-weight="normal" font-style="normal" text-anchor="end"  stroke="#444" stroke-width="0.12">-55</text>
<line x1="187.1" y1="257.8" x2="185.6" y2="257.8" stroke="#555" stroke-width="0.6"/>
<text x="181.6" y="274.1" font-size="6.1" fill="#444" font-weight="normal" font-style="normal" text-anchor="end"  stroke="#444" stroke-width="0.12">-60</text>
<line x1="187.1" y1="272.0" x2="185.6" y2="272.0" stroke="#555" stroke-width="0.6"/>
<text x="181.6" y="288.2" font-size="6.1" fill="#444" font-weight="normal" font-style="normal" text-anchor="end"  stroke="#444" stroke-width="0.12">-65</text>
<line x1="187.1" y1="286.1" x2="185.6" y2="286.1" stroke="#555" stroke-width="0.6"/>
<text x="187.8" y="296.9" font-size="6.0" fill="#444" font-weight="normal" font-style="normal" text-anchor="middle"  stroke="#444" stroke-width="0.12">1280</text>
<text x="215.6" y="296.9" font-size="6.0" fill="#444" font-weight="normal" font-style="normal" text-anchor="middle"  stroke="#444" stroke-width="0.12">1285</text>
<text x="243.4" y="296.9" font-size="6.0" fill="#444" font-weight="normal" font-style="normal" text-anchor="middle"  stroke="#444" stroke-width="0.12">1290</text>
<text x="271.2" y="296.9" font-size="6.0" fill="#444" font-weight="normal" font-style="normal" text-anchor="middle"  stroke="#444" stroke-width="0.12">1295</text>
<text x="299.0" y="296.9" font-size="6.0" fill="#444" font-weight="normal" font-style="normal" text-anchor="middle"  stroke="#444" stroke-width="0.12">1300</text>
<text x="326.8" y="296.9" font-size="6.0" fill="#444" font-weight="normal" font-style="normal" text-anchor="middle"  stroke="#444" stroke-width="0.12">1305</text>
<text x="354.6" y="296.9" font-size="6.0" fill="#444" font-weight="normal" font-style="normal" text-anchor="middle"  stroke="#444" stroke-width="0.12">1310</text>
<text x="278.6" y="306.2" font-size="6.3" fill="#444" font-weight="normal" font-style="normal" text-anchor="middle"  stroke="#444" stroke-width="0.12">Wavelength (nm)</text>
<text x="0.0" y="0.0" font-size="6.2" fill="#444" font-weight="normal" font-style="normal" text-anchor="middle" textLength="77" lengthAdjust="spacingAndGlyphs" transform="translate(171.7,243) rotate(-90)" stroke="#444" stroke-width="0.12">OSA power (dBm/resolution)</text>
<text x="192.8" y="212.2" font-size="8.2" fill="#222" font-weight="normal" font-style="normal" text-anchor="start" textLength="46.5" lengthAdjust="spacingAndGlyphs"  stroke="#222" stroke-width="0.22">Δλ=15.5 GHz</text>
<text x="290.0" y="242.6" font-size="7.9" fill="#222" font-weight="normal" font-style="normal" text-anchor="start" textLength="48.7" lengthAdjust="spacingAndGlyphs"  stroke="#222" stroke-width="0.22">10 dB (282 λ)</text>
<text x="360.3" y="209.8" font-size="9.3" fill="#222" font-weight="bold" font-style="normal" text-anchor="start" textLength="9.5" lengthAdjust="spacingAndGlyphs"  stroke="#222" stroke-width="0.22">(c)</text>
<polygon points="375.8,227.6 404.6,203.1 514.3,265.3 481.0,286.2" fill="#bcbcbc" stroke="none" stroke-width="0" />
<polygon points="375.8,227.6 481.0,286.2 481.0,288.2 375.8,229.6" fill="#8c8c8c" stroke="none" stroke-width="0" />
<polygon points="481.0,286.2 514.3,265.3 514.3,267.3 481.0,288.2" fill="#9a9a9a" stroke="none" stroke-width="0" />
<path d="M417.5,227.2 L499,273.8" stroke="#3f63c4" stroke-width="3.4" stroke-linecap="round"/>
<path d="M452,246.8 L499,273.8" stroke="#3f63c4" stroke-width="4.4"/>
<path d="M417.5,226.5 L499,273" stroke="#6a8ae0" stroke-width="1" />
<path d="M419,228 C410,226.5 393.5,227 393.8,219.5 C394.2,211.5 411,210.5 416.5,216.5 C419.5,220 419.5,224.5 419,228" fill="none" stroke="#3f63c4" stroke-width="2.8"/>
<path d="M395,218.5 C396,213.2 409,212 414.5,216" fill="none" stroke="#7090e8" stroke-width="0.9"/>
<text x="423.4" y="219.8" font-size="6.6" fill="#333" font-weight="normal" font-style="normal" text-anchor="start" textLength="29" lengthAdjust="spacingAndGlyphs"  stroke="#333" stroke-width="0.12">Loop mirror</text>
<text x="423.4" y="227.9" font-size="6.6" fill="#333" font-weight="normal" font-style="normal" text-anchor="start" textLength="28.3" lengthAdjust="spacingAndGlyphs"  stroke="#333" stroke-width="0.12">(R= 10 μm)</text>
<polygon points="468.8,250.8 476.0,246.5 491.2,254.4 484.0,258.8" fill="#3f63c4" stroke="none" stroke-width="0" />
<polygon points="471.5,250.6 476.3,248.0 487.8,254.2 483.0,256.9" fill="#f0c838" stroke="none" stroke-width="0" />
<polygon points="450.0,261.0 458.0,255.9 474.6,263.8 466.6,269.6" fill="#3f63c4" stroke="none" stroke-width="0" />
<polygon points="453.6,260.6 458.4,257.8 470.4,263.9 465.8,266.8" fill="#f0c838" stroke="none" stroke-width="0" />
<polygon points="461.5,253.5 467.5,249.8 481.0,257.0 475.0,260.6" fill="#3f63c4" stroke="none" stroke-width="0" />
<polygon points="464.5,253.2 467.5,251.5 478.2,256.6 475.2,258.4" fill="#c8d850" stroke="none" stroke-width="0" />
<polygon points="464.5,253.2 475.2,258.4 475.2,259.4 464.5,254.2" fill="#8aa030" stroke="none" stroke-width="0" />
<text x="486.8" y="261.6" font-size="6.8" fill="#333" font-weight="normal" font-style="normal" text-anchor="start" textLength="26" lengthAdjust="spacingAndGlyphs"  stroke="#333" stroke-width="0.12">Si-Ge APD</text>
<line x1="513" y1="282" x2="503" y2="276.3" stroke="#e02020" stroke-width="3"/>
<path d="M498.4,273.9 L506.5,274.2 L502.6,280.6 Z" fill="#e02020"/>
<text x="494.2" y="210.2" font-size="9.5" fill="#222" font-weight="bold" font-style="normal" text-anchor="start" textLength="11.1" lengthAdjust="spacingAndGlyphs"  stroke="#222" stroke-width="0.22">(d)</text>
<defs><clipPath id="ce"><rect x="30.4" y="319.3" width="125.9" height="105.2"/></clipPath></defs>
<g clip-path="url(#ce)">
<path d="M30.40,333.94 L31.40,333.93 L32.40,333.93 L33.40,333.92 L34.40,333.92 L35.40,333.92 L36.40,333.92 L37.40,333.93 L38.40,333.93 L39.40,333.94 L40.40,333.95 L41.40,333.96 L42.40,333.97 L43.40,333.99 L44.40,334.01 L45.40,334.03 L46.40,334.07 L47.40,334.11 L48.40,334.16 L49.40,334.21 L50.40,334.27 L51.40,334.34 L52.40,334.42 L53.40,334.50 L54.40,334.59 L55.40,334.68 L56.40,334.79 L57.40,334.92 L58.40,335.08 L59.40,335.25 L60.40,335.45 L61.40,335.68 L62.40,335.93 L63.40,336.21 L64.40,336.51 L65.40,336.85 L66.40,337.27 L67.40,337.79 L68.40,338.42 L69.40,339.14 L70.40,339.95 L71.40,340.84 L72.40,341.82 L73.40,342.86 L74.40,343.98 L75.40,345.18 L76.40,346.63 L76.65,347.04 L76.90,347.46 L77.15,347.90 L77.40,348.36 L77.65,348.83 L77.90,349.32 L78.15,349.83 L78.40,350.34 L78.65,350.87 L78.90,351.42 L79.15,351.97 L79.40,352.54 L79.65,353.12 L79.90,353.71 L80.15,354.31 L80.40,354.92 L80.65,355.54 L80.90,356.21 L81.15,356.92 L81.40,357.67 L81.65,358.45 L81.90,359.25 L82.15,360.07 L82.40,360.91 L82.65,361.76 L82.90,362.62 L83.15,363.47 L83.40,364.32 L83.65,365.15 L83.90,365.97 L84.15,366.77 L84.40,367.54 L84.65,368.22 L84.90,368.82 L85.15,369.41 L85.40,370.00 L85.65,370.65 L85.90,371.36 L86.15,372.15 L86.40,373.02 L86.65,373.97 L86.90,375.47 L87.15,377.04 L87.40,378.07 L87.65,378.56 L87.90,378.75 L88.15,378.80 L88.40,378.74 L88.65,378.44 L88.90,377.39 L89.15,375.30 L89.40,373.46 L89.65,372.21 L89.90,371.10 L90.15,370.15 L90.40,369.29 L90.65,368.47 L90.90,367.56 L91.15,366.49 L91.40,365.36 L91.65,364.19 L91.90,363.00 L92.15,361.80 L92.40,360.61 L92.65,359.44 L92.90,358.31 L93.15,357.22 L93.40,356.20 L93.65,355.26 L93.90,354.39 L94.15,353.54 L94.40,352.72 L94.65,351.91 L94.90,351.13 L95.15,350.38 L95.40,349.64 L95.65,348.94 L95.90,348.26 L96.15,347.62 L96.40,347.00 L96.65,346.42 L96.90,345.87 L97.15,345.35 L97.40,344.87 L97.65,344.43 L97.90,344.01 L98.15,343.60 L98.40,343.20 L98.65,342.81 L98.90,342.42 L99.15,342.05 L99.40,341.68 L99.65,341.32 L99.90,340.97 L100.15,340.63 L100.40,340.29 L101.40,339.07 L102.40,338.00 L103.40,337.13 L104.40,336.45 L105.40,335.94 L106.40,335.50 L107.40,335.12 L108.40,334.78 L109.40,334.49 L110.40,334.24 L111.40,334.04 L112.40,333.88 L113.40,333.73 L114.40,333.59 L115.40,333.47 L116.40,333.36 L117.40,333.27 L118.40,333.18 L119.40,333.11 L120.40,333.06 L121.40,333.01 L122.40,332.97 L123.40,332.93 L124.40,332.89 L125.40,332.86 L126.40,332.83 L127.40,332.81 L128.40,332.78 L129.40,332.77 L130.40,332.75 L131.40,332.74 L132.40,332.73 L133.40,332.72 L134.40,332.71 L135.40,332.70 L136.40,332.70 L137.40,332.69 L138.40,332.68 L139.40,332.68 L140.40,332.67 L141.40,332.67 L142.40,332.67 L143.40,332.66 L144.40,332.66 L145.40,332.66 L146.40,332.66 L147.40,332.66 L148.40,332.66 L149.40,332.66 L150.40,332.66 L151.40,332.66 L152.40,332.66 L153.40,332.66 L154.40,332.66 L155.40,332.66 L156.40,332.66" fill="none" stroke="#e02828" stroke-width="1.1"/>
<path d="M30.40,333.97 L31.40,333.96 L32.40,333.96 L33.40,333.97 L34.40,333.97 L35.40,333.97 L36.40,333.98 L37.40,333.99 L38.40,334.00 L39.40,334.01 L40.40,334.02 L41.40,334.04 L42.40,334.06 L43.40,334.09 L44.40,334.12 L45.40,334.16 L46.40,334.21 L47.40,334.27 L48.40,334.33 L49.40,334.40 L50.40,334.48 L51.40,334.56 L52.40,334.65 L53.40,334.75 L54.40,334.87 L55.40,335.01 L56.40,335.17 L57.40,335.35 L58.40,335.56 L59.40,335.79 L60.40,336.05 L61.40,336.33 L62.40,336.65 L63.40,337.00 L64.40,337.45 L65.40,338.00 L66.40,338.65 L67.40,339.40 L68.40,340.23 L69.40,341.15 L70.40,342.14 L71.40,343.21 L72.40,344.34 L73.40,345.59 L74.40,347.12 L74.65,347.54 L74.90,347.98 L75.15,348.44 L75.40,348.91 L75.65,349.40 L75.90,349.90 L76.15,350.42 L76.40,350.95 L76.65,351.49 L76.90,352.04 L77.15,352.61 L77.40,353.18 L77.65,353.77 L77.90,354.36 L78.15,354.97 L78.40,355.59 L78.65,356.26 L78.90,356.97 L79.15,357.71 L79.40,358.48 L79.65,359.28 L79.90,360.09 L80.15,360.91 L80.40,361.75 L80.65,362.58 L80.90,363.41 L81.15,364.24 L81.40,365.05 L81.65,365.84 L81.90,366.61 L82.15,367.34 L82.40,367.97 L82.65,368.55 L82.90,369.11 L83.15,369.69 L83.40,370.31 L83.65,371.01 L83.90,371.77 L84.15,372.61 L84.40,373.56 L84.65,375.04 L84.90,376.42 L85.15,377.26 L85.40,377.63 L85.65,377.76 L85.90,377.80 L86.15,377.72 L86.40,377.35 L86.65,376.19 L86.90,374.14 L87.15,372.60 L87.40,371.44 L87.65,370.42 L87.90,369.53 L88.15,368.72 L88.40,367.92 L88.65,367.02 L88.90,365.97 L89.15,364.86 L89.40,363.72 L89.65,362.55 L89.90,361.38 L90.15,360.22 L90.40,359.07 L90.65,357.97 L90.90,356.91 L91.15,355.91 L91.40,354.99 L91.65,354.14 L91.90,353.30 L92.15,352.49 L92.40,351.69 L92.65,350.92 L92.90,350.16 L93.15,349.44 L93.40,348.74 L93.65,348.08 L93.90,347.44 L94.15,346.83 L94.40,346.26 L94.65,345.72 L94.90,345.21 L95.15,344.74 L95.40,344.31 L95.65,343.90 L95.90,343.49 L96.15,343.09 L96.40,342.70 L96.65,342.32 L96.90,341.95 L97.15,341.58 L97.40,341.23 L97.65,340.88 L97.90,340.54 L98.90,339.28 L99.90,338.19 L100.90,337.28 L101.90,336.56 L102.90,336.03 L103.90,335.58 L104.90,335.18 L105.90,334.84 L106.90,334.54 L107.90,334.29 L108.90,334.08 L109.90,333.91 L110.90,333.76 L111.90,333.62 L112.90,333.49 L113.90,333.38 L114.90,333.28 L115.90,333.20 L116.90,333.12 L117.90,333.07 L118.90,333.02 L119.90,332.98 L120.90,332.94 L121.90,332.90 L122.90,332.87 L123.90,332.84 L124.90,332.81 L125.90,332.79 L126.90,332.77 L127.90,332.75 L128.90,332.74 L129.90,332.73 L130.90,332.72 L131.90,332.71 L132.90,332.71 L133.90,332.70 L134.90,332.69 L135.90,332.69 L136.90,332.68 L137.90,332.68 L138.90,332.67 L139.90,332.67 L140.90,332.66 L141.90,332.66 L142.90,332.66 L143.90,332.66 L144.90,332.66 L145.90,332.66 L146.90,332.66 L147.90,332.66 L148.90,332.66 L149.90,332.66 L150.90,332.66 L151.90,332.66 L152.90,332.66 L153.90,332.66 L154.90,332.66 L155.90,332.66" fill="none" stroke="#f08a20" stroke-width="1.1"/>
<path d="M30.40,334.03 L31.40,334.04 L32.40,334.04 L33.40,334.05 L34.40,334.06 L35.40,334.07 L36.40,334.08 L37.40,334.09 L38.40,334.11 L39.40,334.14 L40.40,334.17 L41.40,334.21 L42.40,334.25 L43.40,334.31 L44.40,334.37 L45.40,334.43 L46.40,334.51 L47.40,334.59 L48.40,334.67 L49.40,334.77 L50.40,334.87 L51.40,335.00 L52.40,335.15 L53.40,335.32 L54.40,335.51 L55.40,335.73 L56.40,335.98 L57.40,336.25 L58.40,336.55 L59.40,336.88 L60.40,337.27 L61.40,337.77 L62.40,338.37 L63.40,339.08 L64.40,339.87 L65.40,340.75 L66.40,341.72 L67.40,342.76 L68.40,343.88 L69.40,345.06 L70.40,346.46 L71.40,348.15 L71.65,348.62 L71.90,349.11 L72.15,349.61 L72.40,350.12 L72.65,350.65 L72.90,351.20 L73.15,351.76 L73.40,352.34 L73.65,352.93 L73.90,353.53 L74.15,354.15 L74.40,354.77 L74.65,355.41 L74.90,356.07 L75.15,356.77 L75.40,357.51 L75.65,358.30 L75.90,359.13 L76.15,359.99 L76.40,360.88 L76.65,361.79 L76.90,362.73 L77.15,363.67 L77.40,364.63 L77.65,365.58 L77.90,366.54 L78.15,367.49 L78.40,368.43 L78.65,369.34 L78.90,370.17 L79.15,370.91 L79.40,371.63 L79.65,372.36 L79.90,373.15 L80.15,374.04 L80.40,375.04 L80.65,376.17 L80.90,377.42 L81.15,379.37 L81.40,381.79 L81.65,383.65 L81.90,384.64 L82.15,385.03 L82.40,385.16 L82.65,385.11 L82.90,384.72 L83.15,383.31 L83.40,380.31 L83.65,377.39 L83.90,375.67 L84.15,374.19 L84.40,372.94 L84.65,371.86 L84.90,370.85 L85.15,369.80 L85.40,368.56 L85.65,367.25 L85.90,365.92 L86.15,364.58 L86.40,363.25 L86.65,361.93 L86.90,360.64 L87.15,359.41 L87.40,358.23 L87.65,357.12 L87.90,356.10 L88.15,355.17 L88.40,354.27 L88.65,353.40 L88.90,352.55 L89.15,351.73 L89.40,350.93 L89.65,350.16 L89.90,349.42 L90.15,348.71 L90.40,348.04 L90.65,347.39 L90.90,346.78 L91.15,346.21 L91.40,345.67 L91.65,345.16 L91.90,344.70 L92.15,344.26 L92.40,343.84 L92.65,343.43 L92.90,343.02 L93.15,342.62 L93.40,342.23 L93.65,341.86 L93.90,341.49 L94.15,341.13 L94.40,340.78 L94.65,340.44 L95.65,339.19 L96.65,338.11 L97.65,337.21 L98.65,336.51 L99.65,335.99 L100.65,335.55 L101.65,335.15 L102.65,334.81 L103.65,334.52 L104.65,334.27 L105.65,334.06 L106.65,333.89 L107.65,333.75 L108.65,333.61 L109.65,333.48 L110.65,333.37 L111.65,333.27 L112.65,333.19 L113.65,333.12 L114.65,333.06 L115.65,333.02 L116.65,332.97 L117.65,332.93 L118.65,332.90 L119.65,332.87 L120.65,332.84 L121.65,332.81 L122.65,332.79 L123.65,332.77 L124.65,332.75 L125.65,332.74 L126.65,332.73 L127.65,332.72 L128.65,332.71 L129.65,332.71 L130.65,332.70 L131.65,332.69 L132.65,332.69 L133.65,332.68 L134.65,332.67 L135.65,332.67 L136.65,332.67 L137.65,332.66 L138.65,332.66 L139.65,332.66 L140.65,332.66 L141.65,332.66 L142.65,332.66 L143.65,332.66 L144.65,332.66 L145.65,332.66 L146.65,332.66 L147.65,332.66 L148.65,332.66 L149.65,332.66 L150.65,332.66 L151.65,332.66 L152.65,332.66 L153.65,332.66 L154.65,332.66 L155.65,332.66" fill="none" stroke="#3aa83a" stroke-width="1.1"/>
<path d="M30.40,334.11 L31.40,334.12 L32.40,334.13 L33.40,334.15 L34.40,334.16 L35.40,334.18 L36.40,334.21 L37.40,334.24 L38.40,334.28 L39.40,334.33 L40.40,334.38 L41.40,334.45 L42.40,334.51 L43.40,334.59 L44.40,334.67 L45.40,334.76 L46.40,334.86 L47.40,334.97 L48.40,335.10 L49.40,335.25 L50.40,335.43 L51.40,335.63 L52.40,335.86 L53.40,336.11 L54.40,336.40 L55.40,336.70 L56.40,337.04 L57.40,337.46 L58.40,337.99 L59.40,338.62 L60.40,339.34 L61.40,340.17 L62.40,341.08 L63.40,342.08 L64.40,343.15 L65.40,344.30 L66.40,345.54 L67.40,347.03 L67.65,347.45 L67.90,347.89 L68.15,348.35 L68.40,348.83 L68.65,349.32 L68.90,349.84 L69.15,350.37 L69.40,350.91 L69.65,351.48 L69.90,352.06 L70.15,352.65 L70.40,353.26 L70.65,353.89 L70.90,354.53 L71.15,355.19 L71.40,355.86 L71.65,356.54 L71.90,357.27 L72.15,358.06 L72.40,358.89 L72.65,359.77 L72.90,360.70 L73.15,361.66 L73.40,362.65 L73.65,363.68 L73.90,364.73 L74.15,365.80 L74.40,366.89 L74.65,367.99 L74.90,369.10 L75.15,370.21 L75.40,371.32 L75.65,372.36 L75.90,373.30 L76.15,374.20 L76.40,375.13 L76.65,376.15 L76.90,377.32 L77.15,378.67 L77.40,380.26 L77.65,382.11 L77.90,384.92 L78.15,389.43 L78.40,394.05 L78.65,397.27 L78.90,398.84 L79.15,399.41 L79.40,399.42 L79.65,398.43 L79.90,395.06 L80.15,388.80 L80.40,383.16 L80.65,380.37 L80.90,378.19 L81.15,376.43 L81.40,374.98 L81.65,373.68 L81.90,372.39 L82.15,370.93 L82.40,369.38 L82.65,367.83 L82.90,366.29 L83.15,364.78 L83.40,363.31 L83.65,361.89 L83.90,360.53 L84.15,359.25 L84.40,358.05 L84.65,356.94 L84.90,355.94 L85.15,354.99 L85.40,354.07 L85.65,353.18 L85.90,352.32 L86.15,351.48 L86.40,350.68 L86.65,349.91 L86.90,349.17 L87.15,348.47 L87.40,347.80 L87.65,347.17 L87.90,346.57 L88.15,346.01 L88.40,345.49 L88.65,345.01 L88.90,344.56 L89.15,344.13 L89.40,343.70 L89.65,343.29 L89.90,342.88 L90.15,342.48 L90.40,342.09 L90.65,341.71 L90.90,341.34 L91.15,340.98 L91.40,340.63 L92.40,339.33 L93.40,338.21 L94.40,337.29 L95.40,336.57 L96.40,336.05 L97.40,335.59 L98.40,335.19 L99.40,334.84 L100.40,334.55 L101.40,334.29 L102.40,334.08 L103.40,333.91 L104.40,333.76 L105.40,333.62 L106.40,333.50 L107.40,333.38 L108.40,333.28 L109.40,333.20 L110.40,333.13 L111.40,333.07 L112.40,333.02 L113.40,332.98 L114.40,332.94 L115.40,332.90 L116.40,332.87 L117.40,332.84 L118.40,332.81 L119.40,332.79 L120.40,332.77 L121.40,332.75 L122.40,332.74 L123.40,332.73 L124.40,332.72 L125.40,332.71 L126.40,332.71 L127.40,332.70 L128.40,332.69 L129.40,332.69 L130.40,332.68 L131.40,332.68 L132.40,332.67 L133.40,332.67 L134.40,332.66 L135.40,332.66 L136.40,332.66 L137.40,332.66 L138.40,332.66 L139.40,332.66 L140.40,332.66 L141.40,332.66 L142.40,332.66 L143.40,332.66 L144.40,332.66 L145.40,332.66 L146.40,332.66 L147.40,332.66 L148.40,332.66 L149.40,332.66 L150.40,332.66 L151.40,332.66 L152.40,332.66 L153.40,332.66 L154.40,332.66 L155.40,332.66 L156.40,332.66" fill="none" stroke="#3a6ee8" stroke-width="1.1"/>
<path d="M30.40,334.21 L31.40,334.22 L32.40,334.24 L33.40,334.27 L34.40,334.30 L35.40,334.34 L36.40,334.39 L37.40,334.45 L38.40,334.51 L39.40,334.58 L40.40,334.66 L41.40,334.74 L42.40,334.83 L43.40,334.93 L44.40,335.04 L45.40,335.18 L46.40,335.33 L47.40,335.51 L48.40,335.72 L49.40,335.95 L50.40,336.21 L51.40,336.49 L52.40,336.81 L53.40,337.15 L54.40,337.58 L55.40,338.12 L56.40,338.76 L57.40,339.50 L58.40,340.34 L59.40,341.27 L60.40,342.28 L61.40,343.37 L62.40,344.54 L63.40,345.79 L64.40,347.33 L64.65,347.77 L64.90,348.22 L65.15,348.69 L65.40,349.18 L65.65,349.69 L65.90,350.21 L66.15,350.76 L66.40,351.32 L66.65,351.90 L66.90,352.49 L67.15,353.10 L67.40,353.73 L67.65,354.38 L67.90,355.04 L68.15,355.71 L68.40,356.40 L68.65,357.12 L68.90,357.89 L69.15,358.71 L69.40,359.59 L69.65,360.52 L69.90,361.49 L70.15,362.50 L70.40,363.54 L70.65,364.62 L70.90,365.73 L71.15,366.87 L71.40,368.03 L71.65,369.20 L71.90,370.39 L72.15,371.59 L72.40,372.79 L72.65,373.88 L72.90,374.89 L73.15,375.91 L73.40,376.99 L73.65,378.22 L73.90,379.65 L74.15,381.36 L74.40,383.42 L74.65,385.96 L74.90,390.94 L75.15,398.84 L75.40,409.08 L75.65,421.06 L75.90,434.17 L76.15,447.72 L76.40,435.36 L76.65,417.30 L76.90,401.77 L77.15,390.39 L77.40,384.63 L77.65,381.57 L77.90,379.20 L78.15,377.34 L78.40,375.79 L78.65,374.37 L78.90,372.89 L79.15,371.23 L79.40,369.56 L79.65,367.91 L79.90,366.30 L80.15,364.73 L80.40,363.21 L80.65,361.76 L80.90,360.39 L81.15,359.10 L81.40,357.91 L81.65,356.82 L81.90,355.82 L82.15,354.87 L82.40,353.94 L82.65,353.04 L82.90,352.18 L83.15,351.35 L83.40,350.55 L83.65,349.78 L83.90,349.05 L84.15,348.35 L84.40,347.69 L84.65,347.06 L84.90,346.48 L85.15,345.93 L85.40,345.41 L85.65,344.94 L85.90,344.50 L86.15,344.07 L86.40,343.64 L86.65,343.23 L86.90,342.82 L87.15,342.42 L87.40,342.04 L87.65,341.66 L87.90,341.29 L88.15,340.93 L88.40,340.58 L89.40,339.29 L90.40,338.18 L91.40,337.26 L92.40,336.54 L93.40,336.01 L94.40,335.56 L95.40,335.16 L96.40,334.82 L97.40,334.52 L98.40,334.27 L99.40,334.07 L100.40,333.90 L101.40,333.75 L102.40,333.61 L103.40,333.49 L104.40,333.37 L105.40,333.28 L106.40,333.19 L107.40,333.12 L108.40,333.06 L109.40,333.02 L110.40,332.98 L111.40,332.94 L112.40,332.90 L113.40,332.87 L114.40,332.84 L115.40,332.81 L116.40,332.79 L117.40,332.77 L118.40,332.75 L119.40,332.74 L120.40,332.73 L121.40,332.72 L122.40,332.71 L123.40,332.71 L124.40,332.70 L125.40,332.69 L126.40,332.69 L127.40,332.68 L128.40,332.67 L129.40,332.67 L130.40,332.67 L131.40,332.66 L132.40,332.66 L133.40,332.66 L134.40,332.66 L135.40,332.66 L136.40,332.66 L137.40,332.66 L138.40,332.66 L139.40,332.66 L140.40,332.66 L141.40,332.66 L142.40,332.66 L143.40,332.66 L144.40,332.66 L145.40,332.66 L146.40,332.66 L147.40,332.66 L148.40,332.66 L149.40,332.66 L150.40,332.66 L151.40,332.66 L152.40,332.66 L153.40,332.66 L154.40,332.66 L155.40,332.66 L156.40,332.66" fill="none" stroke="#7a2ee0" stroke-width="1.1"/>
</g>
<rect x="30.4" y="319.3" width="125.9" height="105.2" fill="none" stroke="#222" stroke-width="0.9"/>
<text x="28.4" y="321.6" font-size="6.5" fill="#222" font-weight="normal" font-style="normal" text-anchor="end"  stroke="#222" stroke-width="0.12">5</text>
<line x1="30.4" y1="319.3" x2="32.6" y2="319.3" stroke="#111" stroke-width="0.7"/>
<line x1="156.3" y1="319.3" x2="154.1" y2="319.3" stroke="#111" stroke-width="0.7"/>
<text x="28.4" y="334.7" font-size="6.5" fill="#222" font-weight="normal" font-style="normal" text-anchor="end"  stroke="#222" stroke-width="0.12">0</text>
<line x1="30.4" y1="332.4" x2="32.6" y2="332.4" stroke="#111" stroke-width="0.7"/>
<line x1="156.3" y1="332.4" x2="154.1" y2="332.4" stroke="#111" stroke-width="0.7"/>
<text x="28.4" y="347.8" font-size="6.5" fill="#222" font-weight="normal" font-style="normal" text-anchor="end"  stroke="#222" stroke-width="0.12">-5</text>
<line x1="30.4" y1="345.5" x2="32.6" y2="345.5" stroke="#111" stroke-width="0.7"/>
<line x1="156.3" y1="345.5" x2="154.1" y2="345.5" stroke="#111" stroke-width="0.7"/>
<text x="28.4" y="360.9" font-size="6.5" fill="#222" font-weight="normal" font-style="normal" text-anchor="end"  stroke="#222" stroke-width="0.12">-10</text>
<line x1="30.4" y1="358.6" x2="32.6" y2="358.6" stroke="#111" stroke-width="0.7"/>
<line x1="156.3" y1="358.6" x2="154.1" y2="358.6" stroke="#111" stroke-width="0.7"/>
<text x="28.4" y="374.0" font-size="6.5" fill="#222" font-weight="normal" font-style="normal" text-anchor="end"  stroke="#222" stroke-width="0.12">-15</text>
<line x1="30.4" y1="371.7" x2="32.6" y2="371.7" stroke="#111" stroke-width="0.7"/>
<line x1="156.3" y1="371.7" x2="154.1" y2="371.7" stroke="#111" stroke-width="0.7"/>
<text x="28.4" y="387.1" font-size="6.5" fill="#222" font-weight="normal" font-style="normal" text-anchor="end"  stroke="#222" stroke-width="0.12">-20</text>
<line x1="30.4" y1="384.8" x2="32.6" y2="384.8" stroke="#111" stroke-width="0.7"/>
<line x1="156.3" y1="384.8" x2="154.1" y2="384.8" stroke="#111" stroke-width="0.7"/>
<text x="28.4" y="400.1" font-size="6.5" fill="#222" font-weight="normal" font-style="normal" text-anchor="end"  stroke="#222" stroke-width="0.12">-25</text>
<line x1="30.4" y1="397.8" x2="32.6" y2="397.8" stroke="#111" stroke-width="0.7"/>
<line x1="156.3" y1="397.8" x2="154.1" y2="397.8" stroke="#111" stroke-width="0.7"/>
<text x="28.4" y="413.2" font-size="6.5" fill="#222" font-weight="normal" font-style="normal" text-anchor="end"  stroke="#222" stroke-width="0.12">-30</text>
<line x1="30.4" y1="410.9" x2="32.6" y2="410.9" stroke="#111" stroke-width="0.7"/>
<line x1="156.3" y1="410.9" x2="154.1" y2="410.9" stroke="#111" stroke-width="0.7"/>
<text x="28.4" y="426.3" font-size="6.5" fill="#222" font-weight="normal" font-style="normal" text-anchor="end"  stroke="#222" stroke-width="0.12">-35</text>
<line x1="30.4" y1="424.0" x2="32.6" y2="424.0" stroke="#111" stroke-width="0.7"/>
<line x1="156.3" y1="424.0" x2="154.1" y2="424.0" stroke="#111" stroke-width="0.7"/>
<text x="30.7" y="432.8" font-size="6.4" fill="#222" font-weight="normal" font-style="normal" text-anchor="middle"  stroke="#222" stroke-width="0.12">1321</text>
<line x1="30.4" y1="424.5" x2="30.4" y2="422.3" stroke="#111" stroke-width="0.7"/>
<line x1="30.4" y1="319.3" x2="30.4" y2="321.5" stroke="#111" stroke-width="0.7"/>
<text x="55.9" y="432.8" font-size="6.4" fill="#222" font-weight="normal" font-style="normal" text-anchor="middle"  stroke="#222" stroke-width="0.12">1321.2</text>
<line x1="55.6" y1="424.5" x2="55.6" y2="422.3" stroke="#111" stroke-width="0.7"/>
<line x1="55.6" y1="319.3" x2="55.6" y2="321.5" stroke="#111" stroke-width="0.7"/>
<text x="81.1" y="432.8" font-size="6.4" fill="#222" font-weight="normal" font-style="normal" text-anchor="middle"  stroke="#222" stroke-width="0.12">1321.4</text>
<line x1="80.8" y1="424.5" x2="80.8" y2="422.3" stroke="#111" stroke-width="0.7"/>
<line x1="80.8" y1="319.3" x2="80.8" y2="321.5" stroke="#111" stroke-width="0.7"/>
<text x="106.2" y="432.8" font-size="6.4" fill="#222" font-weight="normal" font-style="normal" text-anchor="middle"  stroke="#222" stroke-width="0.12">1321.6</text>
<line x1="105.9" y1="424.5" x2="105.9" y2="422.3" stroke="#111" stroke-width="0.7"/>
<line x1="105.9" y1="319.3" x2="105.9" y2="321.5" stroke="#111" stroke-width="0.7"/>
<text x="131.4" y="432.8" font-size="6.4" fill="#222" font-weight="normal" font-style="normal" text-anchor="middle"  stroke="#222" stroke-width="0.12">1321.8</text>
<line x1="131.1" y1="424.5" x2="131.1" y2="422.3" stroke="#111" stroke-width="0.7"/>
<line x1="131.1" y1="319.3" x2="131.1" y2="321.5" stroke="#111" stroke-width="0.7"/>
<text x="156.6" y="432.8" font-size="6.4" fill="#222" font-weight="normal" font-style="normal" text-anchor="middle"  stroke="#222" stroke-width="0.12">1322</text>
<line x1="156.3" y1="424.5" x2="156.3" y2="422.3" stroke="#111" stroke-width="0.7"/>
<line x1="156.3" y1="319.3" x2="156.3" y2="321.5" stroke="#111" stroke-width="0.7"/>
<text x="94.3" y="441.0" font-size="6.7" fill="#222" font-weight="normal" font-style="normal" text-anchor="middle" textLength="50.8" lengthAdjust="spacingAndGlyphs"  stroke="#222" stroke-width="0.12">Wavelength (nm)</text>
<text x="0.0" y="0.0" font-size="6.8" fill="#222" font-weight="normal" font-style="normal" text-anchor="middle" textLength="79.5" lengthAdjust="spacingAndGlyphs" transform="translate(15.3,375.7) rotate(-90)" stroke="#222" stroke-width="0.12">Normalized transmission (dB)</text>
<text x="32.8" y="327.2" font-size="5.6" fill="#222" stroke="#222" stroke-width="0.12">R=20 μm, 20 nm Al<tspan font-size="4" dy="1.3">2</tspan><tspan dy="-1.3">O</tspan><tspan font-size="4" dy="1.3">3</tspan></text>
<text x="32.6" y="363.8" font-size="7.2" fill="#222" stroke="#222" stroke-width="0.22">V<tspan font-size="3.8" dy="1.5">MOSCAP</tspan><tspan dy="-1.5">=</tspan></text>
<text x="32.9" y="376.5" font-size="7.0" fill="#222" font-weight="normal" font-style="normal" text-anchor="start" textLength="38" lengthAdjust="spacingAndGlyphs"  stroke="#222" stroke-width="0.22">0, 1, 3, 5, 7 V</text>
<line x1="76" y1="340.3" x2="59.5" y2="356.3" stroke="#111" stroke-width="0.9"/>
<path d="M57.6,358.2 L59.2,353.6 L62,356.4 Z" fill="#111"/>
<text x="143.0" y="327.7" font-size="8.8" fill="#222" font-weight="bold" font-style="normal" text-anchor="start" textLength="10.8" lengthAdjust="spacingAndGlyphs"  stroke="#222" stroke-width="0.22">(e)</text>
<text x="92.5" y="364.8" font-size="7.0" fill="#222" font-weight="normal" font-style="normal" text-anchor="start" textLength="57.7" lengthAdjust="spacingAndGlyphs"  stroke="#222" stroke-width="0.22">28 Gb/s, ER=7.9 dB</text>
<defs><clipPath id="ceye"><rect x="92.5" y="369.1" width="79.2" height="46.6"/></clipPath><radialGradient id="eyeg" cx="0.5" cy="0.5" r="0.6"><stop offset="0" stop-color="#f8faf6"/><stop offset="0.55" stop-color="#eef4ec"/><stop offset="1" stop-color="#b8dcc4"/></radialGradient></defs>
<g clip-path="url(#ceye)">
<rect x="92.5" y="369.1" width="79.2" height="46.6" fill="#dfeae2"/>
<ellipse cx="131" cy="394" rx="17" ry="11" fill="url(#eyeg)"/>
<ellipse cx="91.4" cy="394" rx="16" ry="11" fill="url(#eyeg)"/>
<ellipse cx="170.6" cy="394" rx="16" ry="11" fill="url(#eyeg)"/>
<ellipse cx="131" cy="371" rx="10" ry="4" fill="#eef4ec"/>
<ellipse cx="131" cy="417" rx="10" ry="4" fill="#eef4ec"/>
<ellipse cx="91.4" cy="371" rx="10" ry="4" fill="#eef4ec"/>
<ellipse cx="170.6" cy="371" rx="10" ry="4" fill="#eef4ec"/>
<ellipse cx="91.4" cy="417" rx="10" ry="4" fill="#eef4ec"/>
<ellipse cx="170.6" cy="417" rx="10" ry="4" fill="#eef4ec"/>
<path d="M85,377.6 L180,377.6" fill="none" stroke="#8a58b0" stroke-opacity="0.3" stroke-width="11.5"/>
<path d="M85,409.6 L180,409.6" fill="none" stroke="#8a58b0" stroke-opacity="0.3" stroke-width="11.5"/>
<path d="M92.7,377.6 C105.2,377.6 117.2,409.6 129.7,409.6" fill="none" stroke="#8a58b0" stroke-opacity="0.3" stroke-width="11.5"/>
<path d="M92.7,409.6 C105.2,409.6 117.2,377.6 129.7,377.6" fill="none" stroke="#8a58b0" stroke-opacity="0.3" stroke-width="11.5"/>
<path d="M132.3,377.6 C144.8,377.6 156.8,409.6 169.3,409.6" fill="none" stroke="#8a58b0" stroke-opacity="0.3" stroke-width="11.5"/>
<path d="M132.3,409.6 C144.8,409.6 156.8,377.6 169.3,377.6" fill="none" stroke="#8a58b0" stroke-opacity="0.3" stroke-width="11.5"/>
<path d="M53.099999999999994,377.6 C65.6,377.6 77.6,409.6 90.1,409.6" fill="none" stroke="#8a58b0" stroke-opacity="0.3" stroke-width="11.5"/>
<path d="M53.099999999999994,409.6 C65.6,409.6 77.6,377.6 90.1,377.6" fill="none" stroke="#8a58b0" stroke-opacity="0.3" stroke-width="11.5"/>
<path d="M171.9,377.6 C184.4,377.6 196.4,409.6 208.9,409.6" fill="none" stroke="#8a58b0" stroke-opacity="0.3" stroke-width="11.5"/>
<path d="M171.9,409.6 C184.4,409.6 196.4,377.6 208.9,377.6" fill="none" stroke="#8a58b0" stroke-opacity="0.3" stroke-width="11.5"/>
<path d="M85,377.6 L180,377.6" fill="none" stroke="#74409a" stroke-width="9.5"/>
<path d="M85,409.6 L180,409.6" fill="none" stroke="#74409a" stroke-width="9.5"/>
<path d="M92.7,377.6 C105.2,377.6 117.2,409.6 129.7,409.6" fill="none" stroke="#74409a" stroke-width="9.5"/>
<path d="M92.7,409.6 C105.2,409.6 117.2,377.6 129.7,377.6" fill="none" stroke="#74409a" stroke-width="9.5"/>
<path d="M132.3,377.6 C144.8,377.6 156.8,409.6 169.3,409.6" fill="none" stroke="#74409a" stroke-width="9.5"/>
<path d="M132.3,409.6 C144.8,409.6 156.8,377.6 169.3,377.6" fill="none" stroke="#74409a" stroke-width="9.5"/>
<path d="M53.099999999999994,377.6 C65.6,377.6 77.6,409.6 90.1,409.6" fill="none" stroke="#74409a" stroke-width="9.5"/>
<path d="M53.099999999999994,409.6 C65.6,409.6 77.6,377.6 90.1,377.6" fill="none" stroke="#74409a" stroke-width="9.5"/>
<path d="M171.9,377.6 C184.4,377.6 196.4,409.6 208.9,409.6" fill="none" stroke="#74409a" stroke-width="9.5"/>
<path d="M171.9,409.6 C184.4,409.6 196.4,377.6 208.9,377.6" fill="none" stroke="#74409a" stroke-width="9.5"/>
<path d="M85,377.6 L180,377.6" fill="none" stroke="#b06a5a" stroke-width="7.8"/>
<path d="M85,409.6 L180,409.6" fill="none" stroke="#b06a5a" stroke-width="7.8"/>
<path d="M92.7,377.6 C105.2,377.6 117.2,409.6 129.7,409.6" fill="none" stroke="#b06a5a" stroke-width="7.8"/>
<path d="M92.7,409.6 C105.2,409.6 117.2,377.6 129.7,377.6" fill="none" stroke="#b06a5a" stroke-width="7.8"/>
<path d="M132.3,377.6 C144.8,377.6 156.8,409.6 169.3,409.6" fill="none" stroke="#b06a5a" stroke-width="7.8"/>
<path d="M132.3,409.6 C144.8,409.6 156.8,377.6 169.3,377.6" fill="none" stroke="#b06a5a" stroke-width="7.8"/>
<path d="M53.099999999999994,377.6 C65.6,377.6 77.6,409.6 90.1,409.6" fill="none" stroke="#b06a5a" stroke-width="7.8"/>
<path d="M53.099999999999994,409.6 C65.6,409.6 77.6,377.6 90.1,377.6" fill="none" stroke="#b06a5a" stroke-width="7.8"/>
<path d="M171.9,377.6 C184.4,377.6 196.4,409.6 208.9,409.6" fill="none" stroke="#b06a5a" stroke-width="7.8"/>
<path d="M171.9,409.6 C184.4,409.6 196.4,377.6 208.9,377.6" fill="none" stroke="#b06a5a" stroke-width="7.8"/>
<path d="M85,377.6 L180,377.6" fill="none" stroke="#dc8e34" stroke-width="6.4"/>
<path d="M85,409.6 L180,409.6" fill="none" stroke="#dc8e34" stroke-width="6.4"/>
<path d="M92.7,377.6 C105.2,377.6 117.2,409.6 129.7,409.6" fill="none" stroke="#dc8e34" stroke-width="6.4"/>
<path d="M92.7,409.6 C105.2,409.6 117.2,377.6 129.7,377.6" fill="none" stroke="#dc8e34" stroke-width="6.4"/>
<path d="M132.3,377.6 C144.8,377.6 156.8,409.6 169.3,409.6" fill="none" stroke="#dc8e34" stroke-width="6.4"/>
<path d="M132.3,409.6 C144.8,409.6 156.8,377.6 169.3,377.6" fill="none" stroke="#dc8e34" stroke-width="6.4"/>
<path d="M53.099999999999994,377.6 C65.6,377.6 77.6,409.6 90.1,409.6" fill="none" stroke="#dc8e34" stroke-width="6.4"/>
<path d="M53.099999999999994,409.6 C65.6,409.6 77.6,377.6 90.1,377.6" fill="none" stroke="#dc8e34" stroke-width="6.4"/>
<path d="M171.9,377.6 C184.4,377.6 196.4,409.6 208.9,409.6" fill="none" stroke="#dc8e34" stroke-width="6.4"/>
<path d="M171.9,409.6 C184.4,409.6 196.4,377.6 208.9,377.6" fill="none" stroke="#dc8e34" stroke-width="6.4"/>
<path d="M85,377.6 L180,377.6" fill="none" stroke="#eba434" stroke-width="4.2"/>
<path d="M85,409.6 L180,409.6" fill="none" stroke="#eba434" stroke-width="4.2"/>
<path d="M92.7,377.6 C105.2,377.6 117.2,409.6 129.7,409.6" fill="none" stroke="#eba434" stroke-width="4.2"/>
<path d="M92.7,409.6 C105.2,409.6 117.2,377.6 129.7,377.6" fill="none" stroke="#eba434" stroke-width="4.2"/>
<path d="M132.3,377.6 C144.8,377.6 156.8,409.6 169.3,409.6" fill="none" stroke="#eba434" stroke-width="4.2"/>
<path d="M132.3,409.6 C144.8,409.6 156.8,377.6 169.3,377.6" fill="none" stroke="#eba434" stroke-width="4.2"/>
<path d="M53.099999999999994,377.6 C65.6,377.6 77.6,409.6 90.1,409.6" fill="none" stroke="#eba434" stroke-width="4.2"/>
<path d="M53.099999999999994,409.6 C65.6,409.6 77.6,377.6 90.1,377.6" fill="none" stroke="#eba434" stroke-width="4.2"/>
<path d="M171.9,377.6 C184.4,377.6 196.4,409.6 208.9,409.6" fill="none" stroke="#eba434" stroke-width="4.2"/>
<path d="M171.9,409.6 C184.4,409.6 196.4,377.6 208.9,377.6" fill="none" stroke="#eba434" stroke-width="4.2"/>
<path d="M85,377.6 L180,377.6" fill="none" stroke="#f6c848" stroke-width="1.6"/>
<path d="M85,409.6 L180,409.6" fill="none" stroke="#f6c848" stroke-width="1.6"/>
<path d="M92.7,377.6 C105.2,377.6 117.2,409.6 129.7,409.6" fill="none" stroke="#f6c848" stroke-width="1.6"/>
<path d="M92.7,409.6 C105.2,409.6 117.2,377.6 129.7,377.6" fill="none" stroke="#f6c848" stroke-width="1.6"/>
<path d="M132.3,377.6 C144.8,377.6 156.8,409.6 169.3,409.6" fill="none" stroke="#f6c848" stroke-width="1.6"/>
<path d="M132.3,409.6 C144.8,409.6 156.8,377.6 169.3,377.6" fill="none" stroke="#f6c848" stroke-width="1.6"/>
<path d="M53.099999999999994,377.6 C65.6,377.6 77.6,409.6 90.1,409.6" fill="none" stroke="#f6c848" stroke-width="1.6"/>
<path d="M53.099999999999994,409.6 C65.6,409.6 77.6,377.6 90.1,377.6" fill="none" stroke="#f6c848" stroke-width="1.6"/>
<path d="M171.9,377.6 C184.4,377.6 196.4,409.6 208.9,409.6" fill="none" stroke="#f6c848" stroke-width="1.6"/>
<path d="M171.9,409.6 C184.4,409.6 196.4,377.6 208.9,377.6" fill="none" stroke="#f6c848" stroke-width="1.6"/>
<line x1="92.5" y1="414.3" x2="171.7" y2="414.3" stroke="#f8d848" stroke-width="1.6"/>
<rect x="118.7" y="377.0" width="6.4" height="2.1" fill="#181818"/>
<rect x="139.9" y="377.0" width="6.4" height="2.1" fill="#181818"/>
<rect x="116.3" y="393.4" width="6.4" height="2.1" fill="#181818"/>
<rect x="118.7" y="409.0" width="6.4" height="2.1" fill="#181818"/>
<rect x="139.9" y="409.0" width="6.4" height="2.1" fill="#181818"/>
</g>
<rect x="93" y="415.6" width="8" height="1" fill="#444"/>
<line x1="220.7" y1="317.5" x2="220.7" y2="424.2" stroke="#d4d4d4" stroke-width="0.7"/>
<line x1="243.6" y1="317.5" x2="243.6" y2="424.2" stroke="#d4d4d4" stroke-width="0.7"/>
<line x1="266.5" y1="317.5" x2="266.5" y2="424.2" stroke="#d4d4d4" stroke-width="0.7"/>
<line x1="289.4" y1="317.5" x2="289.4" y2="424.2" stroke="#d4d4d4" stroke-width="0.7"/>
<line x1="312.3" y1="317.5" x2="312.3" y2="424.2" stroke="#d4d4d4" stroke-width="0.7"/>
<line x1="335.2" y1="317.5" x2="335.2" y2="424.2" stroke="#d4d4d4" stroke-width="0.7"/>
<line x1="215.6" y1="321.8" x2="340.4" y2="321.8" stroke="#d4d4d4" stroke-width="0.7"/>
<line x1="215.6" y1="342.2" x2="340.4" y2="342.2" stroke="#d4d4d4" stroke-width="0.7"/>
<line x1="215.6" y1="362.6" x2="340.4" y2="362.6" stroke="#d4d4d4" stroke-width="0.7"/>
<line x1="215.6" y1="383.0" x2="340.4" y2="383.0" stroke="#d4d4d4" stroke-width="0.7"/>
<line x1="215.6" y1="403.4" x2="340.4" y2="403.4" stroke="#d4d4d4" stroke-width="0.7"/>
<line x1="215.6" y1="423.8" x2="340.4" y2="423.8" stroke="#d4d4d4" stroke-width="0.7"/>
<path d="M220.7,321.8 Q234.4,326.1 243.6,330.4 L335.2,419.7" fill="none" stroke="#4a78b8" stroke-width="0.9"/>
<path d="M220.7,420.3 L243.6,412.2 L335.2,321.6" fill="none" stroke="#4a78b8" stroke-width="0.9" stroke-dasharray="2.6,1.6"/>
<path d="M220.7,321.8 Q234.4,325.9 243.6,330.0 L335.2,386.7" fill="none" stroke="#f0902a" stroke-width="0.9"/>
<path d="M220.7,420.3 L243.6,415.9 L335.2,354.2" fill="none" stroke="#f0902a" stroke-width="0.9" stroke-dasharray="2.6,1.6"/>
<path d="M220.7,321.8 Q234.4,324.7 243.6,327.5 L335.2,365.0" fill="none" stroke="#3aa83a" stroke-width="0.9"/>
<path d="M220.7,420.3 L243.6,417.0 L335.2,372.6" fill="none" stroke="#3aa83a" stroke-width="0.9" stroke-dasharray="2.6,1.6"/>
<path d="M220.7,321.8 Q234.4,323.8 243.6,325.9 L335.2,353.4" fill="none" stroke="#d03030" stroke-width="0.9"/>
<path d="M220.7,420.3 L243.6,417.7 L335.2,384.0" fill="none" stroke="#d03030" stroke-width="0.9" stroke-dasharray="2.6,1.6"/>
<path d="M220.7,321.8 Q234.4,323.6 243.6,325.5 L335.2,347.3" fill="none" stroke="#9a66c8" stroke-width="0.9"/>
<path d="M220.7,420.3 L243.6,418.1 L335.2,389.5" fill="none" stroke="#9a66c8" stroke-width="0.9" stroke-dasharray="2.6,1.6"/>
<rect x="215.6" y="317.5" width="124.8" height="106.7" fill="none" stroke="#555" stroke-width="0.9"/>
<text x="211.8" y="323.7" font-size="7.3" fill="#222" text-anchor="end" style="font-family:'DejaVu Sans', sans-serif" stroke="#222" stroke-width="0.22">0.000</text>
<line x1="215.6" y1="321.8" x2="213.4" y2="321.8" stroke="#222" stroke-width="0.7"/>
<text x="211.8" y="344.1" font-size="7.3" fill="#222" text-anchor="end" style="font-family:'DejaVu Sans', sans-serif" stroke="#222" stroke-width="0.22">−0.001</text>
<line x1="215.6" y1="342.2" x2="213.4" y2="342.2" stroke="#222" stroke-width="0.7"/>
<text x="211.8" y="364.5" font-size="7.3" fill="#222" text-anchor="end" style="font-family:'DejaVu Sans', sans-serif" stroke="#222" stroke-width="0.22">−0.002</text>
<line x1="215.6" y1="362.6" x2="213.4" y2="362.6" stroke="#222" stroke-width="0.7"/>
<text x="211.8" y="384.9" font-size="7.3" fill="#222" text-anchor="end" style="font-family:'DejaVu Sans', sans-serif" stroke="#222" stroke-width="0.22">−0.003</text>
<line x1="215.6" y1="383.0" x2="213.4" y2="383.0" stroke="#222" stroke-width="0.7"/>
<text x="211.8" y="405.3" font-size="7.3" fill="#222" text-anchor="end" style="font-family:'DejaVu Sans', sans-serif" stroke="#222" stroke-width="0.22">−0.004</text>
<line x1="215.6" y1="403.4" x2="213.4" y2="403.4" stroke="#222" stroke-width="0.7"/>
<text x="211.8" y="425.7" font-size="7.3" fill="#222" text-anchor="end" style="font-family:'DejaVu Sans', sans-serif" stroke="#222" stroke-width="0.22">−0.005</text>
<line x1="215.6" y1="423.8" x2="213.4" y2="423.8" stroke="#222" stroke-width="0.7"/>
<text x="220.7" y="432.6" font-size="7.2" fill="#222" text-anchor="middle" style="font-family:'DejaVu Sans', sans-serif" stroke="#222" stroke-width="0.22">0</text>
<line x1="220.7" y1="424.2" x2="220.7" y2="426.4" stroke="#222" stroke-width="0.7"/>
<text x="243.6" y="432.6" font-size="7.2" fill="#222" text-anchor="middle" style="font-family:'DejaVu Sans', sans-serif" stroke="#222" stroke-width="0.22">1</text>
<line x1="243.6" y1="424.2" x2="243.6" y2="426.4" stroke="#222" stroke-width="0.7"/>
<text x="266.5" y="432.6" font-size="7.2" fill="#222" text-anchor="middle" style="font-family:'DejaVu Sans', sans-serif" stroke="#222" stroke-width="0.22">2</text>
<line x1="266.5" y1="424.2" x2="266.5" y2="426.4" stroke="#222" stroke-width="0.7"/>
<text x="289.4" y="432.6" font-size="7.2" fill="#222" text-anchor="middle" style="font-family:'DejaVu Sans', sans-serif" stroke="#222" stroke-width="0.22">3</text>
<line x1="289.4" y1="424.2" x2="289.4" y2="426.4" stroke="#222" stroke-width="0.7"/>
<text x="312.3" y="432.6" font-size="7.2" fill="#222" text-anchor="middle" style="font-family:'DejaVu Sans', sans-serif" stroke="#222" stroke-width="0.22">4</text>
<line x1="312.3" y1="424.2" x2="312.3" y2="426.4" stroke="#222" stroke-width="0.7"/>
<text x="335.2" y="432.6" font-size="7.2" fill="#222" text-anchor="middle" style="font-family:'DejaVu Sans', sans-serif" stroke="#222" stroke-width="0.22">5</text>
<line x1="335.2" y1="424.2" x2="335.2" y2="426.4" stroke="#222" stroke-width="0.7"/>
<text x="344.4" y="424.1" font-size="7.6" fill="#222" style="font-family:'DejaVu Sans', sans-serif" stroke="#222" stroke-width="0.22">0</text>
<line x1="340.4" y1="421.4" x2="342.59999999999997" y2="421.4" stroke="#222" stroke-width="0.7"/>
<text x="344.4" y="405.7" font-size="7.6" fill="#222" style="font-family:'DejaVu Sans', sans-serif" stroke="#222" stroke-width="0.22">5</text>
<line x1="340.4" y1="403.0" x2="342.59999999999997" y2="403.0" stroke="#222" stroke-width="0.7"/>
<text x="344.4" y="387.4" font-size="7.6" fill="#222" style="font-family:'DejaVu Sans', sans-serif" stroke="#222" stroke-width="0.22">10</text>
<line x1="340.4" y1="384.7" x2="342.59999999999997" y2="384.7" stroke="#222" stroke-width="0.7"/>
<text x="344.4" y="369.0" font-size="7.6" fill="#222" style="font-family:'DejaVu Sans', sans-serif" stroke="#222" stroke-width="0.22">15</text>
<line x1="340.4" y1="366.3" x2="342.59999999999997" y2="366.3" stroke="#222" stroke-width="0.7"/>
<text x="344.4" y="350.7" font-size="7.6" fill="#222" style="font-family:'DejaVu Sans', sans-serif" stroke="#222" stroke-width="0.22">20</text>
<line x1="340.4" y1="348.0" x2="342.59999999999997" y2="348.0" stroke="#222" stroke-width="0.7"/>
<text x="344.4" y="332.3" font-size="7.6" fill="#222" style="font-family:'DejaVu Sans', sans-serif" stroke="#222" stroke-width="0.22">25</text>
<line x1="340.4" y1="329.6" x2="342.59999999999997" y2="329.6" stroke="#222" stroke-width="0.7"/>
<text x="278" y="441.5" font-size="7.0" fill="#222" text-anchor="middle" textLength="37.7" lengthAdjust="spacingAndGlyphs" style="font-family:'DejaVu Sans', sans-serif" stroke="#222" stroke-width="0.22">Voltage [V]</text>
<text transform="translate(181.2,373) rotate(-90)" font-size="7.8" fill="#222" text-anchor="middle" style="font-family:'DejaVu Sans', sans-serif" stroke="#222" stroke-width="0.22">Δn<tspan font-size="5.4" dy="1.6">TE00</tspan></text>
<text transform="translate(359.5,367.2) rotate(-90)" font-size="8.4" fill="#222" text-anchor="middle" textLength="34.5" lengthAdjust="spacingAndGlyphs" style="font-family:'DejaVu Sans', sans-serif" stroke="#222" stroke-width="0.22">FCA (dB/cm)</text>
<text x="324" y="325.9" font-size="9.6" fill="#222" textLength="9.2" lengthAdjust="spacingAndGlyphs" style="font-family:'DejaVu Sans', sans-serif" stroke="#222" stroke-width="0.22">(f)</text>
<ellipse cx="263.3" cy="341.7" rx="4.8" ry="19.5" fill="none" stroke="#444" stroke-width="0.8"/>
<line x1="263.3" y1="361.5" x2="237.5" y2="361.5" stroke="#111" stroke-width="0.8"/>
<path d="M235.2,361.5 L238.2,360.2 L238.2,362.8Z" fill="#111"/>
<ellipse cx="281.5" cy="390.5" rx="4.2" ry="20" fill="none" stroke="#444" stroke-width="0.8"/>
<line x1="281.5" y1="410.8" x2="301" y2="410.8" stroke="#111" stroke-width="0.8"/>
<path d="M303.4,410.8 L300.4,409.5 L300.4,412.1Z" fill="#111"/>
<rect x="216.8" y="382.6" width="49.5" height="39" rx="1.2" fill="#fff" fill-opacity="0.55" stroke="#e4e4e4" stroke-width="0.5"/>
<line x1="218" y1="387.2" x2="227.3" y2="387.2" stroke="#4a78b8" stroke-opacity="0.7" stroke-width="0.9"/>
<text x="230.7" y="388.9" font-size="4.9" fill="#444" textLength="34" lengthAdjust="spacingAndGlyphs" style="font-family:'DejaVu Sans', sans-serif" stroke="#444" stroke-width="0.12">HfO<tspan font-size="3.4" dy="0.8">2</tspan><tspan dy="-0.8"> gap=5nm</tspan></text>
<line x1="218" y1="394.8" x2="227.3" y2="394.8" stroke="#f0902a" stroke-opacity="0.7" stroke-width="0.9"/>
<text x="230.7" y="396.5" font-size="4.9" fill="#444" textLength="34" lengthAdjust="spacingAndGlyphs" style="font-family:'DejaVu Sans', sans-serif" stroke="#444" stroke-width="0.12">HfO<tspan font-size="3.4" dy="0.8">2</tspan><tspan dy="-0.8"> gap=10nm</tspan></text>
<line x1="218" y1="402.5" x2="227.3" y2="402.5" stroke="#3aa83a" stroke-opacity="0.7" stroke-width="0.9"/>
<text x="230.7" y="404.2" font-size="4.9" fill="#444" textLength="34" lengthAdjust="spacingAndGlyphs" style="font-family:'DejaVu Sans', sans-serif" stroke="#444" stroke-width="0.12">HfO<tspan font-size="3.4" dy="0.8">2</tspan><tspan dy="-0.8"> gap=15nm</tspan></text>
<line x1="218" y1="410.1" x2="227.3" y2="410.1" stroke="#d03030" stroke-opacity="0.7" stroke-width="0.9"/>
<text x="230.7" y="411.8" font-size="4.9" fill="#444" textLength="34" lengthAdjust="spacingAndGlyphs" style="font-family:'DejaVu Sans', sans-serif" stroke="#444" stroke-width="0.12">HfO<tspan font-size="3.4" dy="0.8">2</tspan><tspan dy="-0.8"> gap=20nm</tspan></text>
<line x1="218" y1="417.8" x2="227.3" y2="417.8" stroke="#9a66c8" stroke-opacity="0.7" stroke-width="0.9"/>
<text x="230.7" y="419.5" font-size="4.9" fill="#444" textLength="34" lengthAdjust="spacingAndGlyphs" style="font-family:'DejaVu Sans', sans-serif" stroke="#444" stroke-width="0.12">HfO<tspan font-size="3.4" dy="0.8">2</tspan><tspan dy="-0.8"> gap=25nm</tspan></text>
<line x1="405.5" y1="317.3" x2="405.5" y2="424.0" stroke="#dcdcdc" stroke-width="0.7"/>
<line x1="431.6" y1="317.3" x2="431.6" y2="424.0" stroke="#dcdcdc" stroke-width="0.7"/>
<line x1="457.7" y1="317.3" x2="457.7" y2="424.0" stroke="#dcdcdc" stroke-width="0.7"/>
<line x1="483.8" y1="317.3" x2="483.8" y2="424.0" stroke="#dcdcdc" stroke-width="0.7"/>
<line x1="379.4" y1="329.2" x2="509.9" y2="329.2" stroke="#dcdcdc" stroke-width="0.7"/>
<line x1="379.4" y1="341.0" x2="509.9" y2="341.0" stroke="#dcdcdc" stroke-width="0.7"/>
<line x1="379.4" y1="352.9" x2="509.9" y2="352.9" stroke="#dcdcdc" stroke-width="0.7"/>
<line x1="379.4" y1="364.7" x2="509.9" y2="364.7" stroke="#dcdcdc" stroke-width="0.7"/>
<line x1="379.4" y1="376.6" x2="509.9" y2="376.6" stroke="#dcdcdc" stroke-width="0.7"/>
<line x1="379.4" y1="388.4" x2="509.9" y2="388.4" stroke="#dcdcdc" stroke-width="0.7"/>
<line x1="379.4" y1="400.2" x2="509.9" y2="400.2" stroke="#dcdcdc" stroke-width="0.7"/>
<line x1="379.4" y1="412.1" x2="509.9" y2="412.1" stroke="#dcdcdc" stroke-width="0.7"/>
<defs><clipPath id="cg"><rect x="379.4" y="317.3" width="130.5" height="106.7"/></clipPath></defs>
<g clip-path="url(#cg)">
<path d="M379.4,352.3 L379.7,355.4 L380.1,358.3 L380.4,360.9 L380.7,363.5 L381.0,365.8 L381.4,368.0 L381.7,370.1 L382.0,372.1 L382.3,373.9 L382.7,375.7 L383.0,377.3 L383.3,378.9 L383.6,380.4 L384.0,381.8 L384.3,383.2 L384.6,384.5 L384.9,385.7 L385.3,386.9 L385.6,388.0 L385.9,389.0 L386.3,390.0 L386.6,391.0 L386.9,391.9 L387.2,392.8 L387.6,393.7 L387.9,394.5 L388.2,395.3 L388.5,396.1 L388.9,396.8 L389.2,397.5 L389.5,398.1 L389.8,398.8 L390.2,399.4 L390.5,400.0 L390.8,400.6 L391.1,401.1 L391.5,401.7 L391.8,402.2 L392.1,402.7 L392.4,403.2 L392.8,403.6 L393.1,404.1 L393.4,404.5 L393.8,404.9 L394.1,405.3 L394.4,405.7 L394.7,406.1 L395.1,406.4 L397.7,409.0 L400.3,410.9 L402.9,412.4 L405.5,413.6 L408.1,414.5 L410.7,415.1 L413.3,415.6 L415.9,416.0 L418.5,416.2 L421.2,416.3 L423.8,416.3 L426.4,416.3 L429.0,416.2 L431.6,416.0 L434.2,415.7 L436.8,415.5 L439.4,415.2 L442.0,414.8 L444.6,414.4 L447.3,414.0 L449.9,413.6 L452.5,413.1 L455.1,412.6 L457.7,412.1 L460.3,411.6 L462.9,411.1 L465.5,410.5 L468.1,409.9 L470.8,409.4 L473.4,408.8 L476.0,408.2 L478.6,407.6 L481.2,406.9 L483.8,406.3 L486.4,405.7 L489.0,405.0 L491.6,404.4 L494.2,403.7 L496.8,403.1 L499.5,402.4 L502.1,401.7 L504.7,401.0 L507.3,400.3 L509.9,399.7" fill="none" stroke="#3a62b4" stroke-width="1.5"/>
<path d="M379.4,338.2 L379.7,342.1 L380.1,345.5 L380.4,348.7 L380.7,351.5 L381.0,354.1 L381.4,356.4 L381.7,358.6 L382.0,360.6 L382.3,362.4 L382.7,364.1 L383.0,365.7 L383.3,367.1 L383.6,368.5 L384.0,369.8 L384.3,370.9 L384.6,372.0 L384.9,373.1 L385.3,374.1 L385.6,375.0 L385.9,375.8 L386.3,376.6 L386.6,377.4 L386.9,378.1 L387.2,378.8 L387.6,379.5 L387.9,380.1 L388.2,380.6 L388.5,381.2 L388.9,381.7 L389.2,382.2 L389.5,382.7 L389.8,383.1 L390.2,383.6 L390.5,384.0 L390.8,384.3 L391.1,384.7 L391.5,385.1 L391.8,385.4 L392.1,385.7 L392.4,386.0 L392.8,386.3 L393.1,386.6 L393.4,386.8 L393.8,387.1 L394.1,387.3 L394.4,387.5 L394.7,387.8 L395.1,388.0 L397.7,389.3 L400.3,390.2 L402.9,390.8 L405.5,391.2 L408.1,391.3 L410.7,391.3 L413.3,391.2 L415.9,391.0 L418.5,390.7 L421.2,390.4 L423.8,390.0 L426.4,389.5 L429.0,389.0 L431.6,388.5 L434.2,387.9 L436.8,387.3 L439.4,386.7 L442.0,386.0 L444.6,385.4 L447.3,384.7 L449.9,384.0 L452.5,383.3 L455.1,382.6 L457.7,381.8 L460.3,381.1 L462.9,380.4 L465.5,379.6 L468.1,378.8 L470.8,378.1 L473.4,377.3 L476.0,376.5 L478.6,375.7 L481.2,374.9 L483.8,374.1 L486.4,373.3 L489.0,372.5 L491.6,371.7 L494.2,370.8 L496.8,370.0 L499.5,369.2 L502.1,368.4 L504.7,367.5 L507.3,366.7 L509.9,365.9" fill="none" stroke="#c0501a" stroke-width="1.5"/>
<path d="M379.4,319.5 L379.7,324.4 L380.1,328.8 L380.4,332.7 L380.7,336.1 L381.0,339.2 L381.4,342.1 L381.7,344.6 L382.0,346.9 L382.3,349.1 L382.7,351.0 L383.0,352.8 L383.3,354.5 L383.6,356.0 L384.0,357.4 L384.3,358.8 L384.6,360.0 L384.9,361.1 L385.3,362.2 L385.6,363.2 L385.9,364.2 L386.3,365.0 L386.6,365.9 L386.9,366.6 L387.2,367.4 L387.6,368.1 L387.9,368.7 L388.2,369.3 L388.5,369.9 L388.9,370.5 L389.2,371.0 L389.5,371.5 L389.8,372.0 L390.2,372.4 L390.5,372.8 L390.8,373.2 L391.1,373.6 L391.5,374.0 L391.8,374.3 L392.1,374.6 L392.4,374.9 L392.8,375.2 L393.1,375.5 L393.4,375.8 L393.8,376.0 L394.1,376.3 L394.4,376.5 L394.7,376.7 L395.1,376.9 L397.7,378.3 L400.3,379.1 L402.9,379.7 L405.5,380.0 L408.1,380.1 L410.7,380.0 L413.3,379.8 L415.9,379.6 L418.5,379.2 L421.2,378.8 L423.8,378.3 L426.4,377.8 L429.0,377.3 L431.6,376.7 L434.2,376.0 L436.8,375.4 L439.4,374.7 L442.0,374.0 L444.6,373.3 L447.3,372.5 L449.9,371.8 L452.5,371.0 L455.1,370.2 L457.7,369.5 L460.3,368.7 L462.9,367.8 L465.5,367.0 L468.1,366.2 L470.8,365.4 L473.4,364.5 L476.0,363.7 L478.6,362.9 L481.2,362.0 L483.8,361.1 L486.4,360.3 L489.0,359.4 L491.6,358.6 L494.2,357.7 L496.8,356.8 L499.5,355.9 L502.1,355.0 L504.7,354.2 L507.3,353.3 L509.9,352.4" fill="none" stroke="#80e040" stroke-width="1.5"/>
</g>
<rect x="379.4" y="317.3" width="130.5" height="106.7" fill="none" stroke="#222" stroke-width="0.9"/>
<text x="377.6" y="319.4" font-size="5.9" fill="#333" font-weight="normal" font-style="normal" text-anchor="end"  stroke="#333" stroke-width="0.12">-20</text>
<line x1="379.4" y1="317.3" x2="380.9" y2="317.3" stroke="#222" stroke-width="0.6"/>
<line x1="509.9" y1="317.3" x2="508.4" y2="317.3" stroke="#222" stroke-width="0.6"/>
<text x="377.6" y="331.3" font-size="5.9" fill="#333" font-weight="normal" font-style="normal" text-anchor="end"  stroke="#333" stroke-width="0.12">-22</text>
<line x1="379.4" y1="329.2" x2="380.9" y2="329.2" stroke="#222" stroke-width="0.6"/>
<line x1="509.9" y1="329.2" x2="508.4" y2="329.2" stroke="#222" stroke-width="0.6"/>
<text x="377.6" y="343.1" font-size="5.9" fill="#333" font-weight="normal" font-style="normal" text-anchor="end"  stroke="#333" stroke-width="0.12">-24</text>
<line x1="379.4" y1="341.0" x2="380.9" y2="341.0" stroke="#222" stroke-width="0.6"/>
<line x1="509.9" y1="341.0" x2="508.4" y2="341.0" stroke="#222" stroke-width="0.6"/>
<text x="377.6" y="355.0" font-size="5.9" fill="#333" font-weight="normal" font-style="normal" text-anchor="end"  stroke="#333" stroke-width="0.12">-26</text>
<line x1="379.4" y1="352.9" x2="380.9" y2="352.9" stroke="#222" stroke-width="0.6"/>
<line x1="509.9" y1="352.9" x2="508.4" y2="352.9" stroke="#222" stroke-width="0.6"/>
<text x="377.6" y="366.8" font-size="5.9" fill="#333" font-weight="normal" font-style="normal" text-anchor="end"  stroke="#333" stroke-width="0.12">-28</text>
<line x1="379.4" y1="364.7" x2="380.9" y2="364.7" stroke="#222" stroke-width="0.6"/>
<line x1="509.9" y1="364.7" x2="508.4" y2="364.7" stroke="#222" stroke-width="0.6"/>
<text x="377.6" y="378.7" font-size="5.9" fill="#333" font-weight="normal" font-style="normal" text-anchor="end"  stroke="#333" stroke-width="0.12">-30</text>
<line x1="379.4" y1="376.6" x2="380.9" y2="376.6" stroke="#222" stroke-width="0.6"/>
<line x1="509.9" y1="376.6" x2="508.4" y2="376.6" stroke="#222" stroke-width="0.6"/>
<text x="377.6" y="390.5" font-size="5.9" fill="#333" font-weight="normal" font-style="normal" text-anchor="end"  stroke="#333" stroke-width="0.12">-32</text>
<line x1="379.4" y1="388.4" x2="380.9" y2="388.4" stroke="#222" stroke-width="0.6"/>
<line x1="509.9" y1="388.4" x2="508.4" y2="388.4" stroke="#222" stroke-width="0.6"/>
<text x="377.6" y="402.4" font-size="5.9" fill="#333" font-weight="normal" font-style="normal" text-anchor="end"  stroke="#333" stroke-width="0.12">-34</text>
<line x1="379.4" y1="400.2" x2="380.9" y2="400.2" stroke="#222" stroke-width="0.6"/>
<line x1="509.9" y1="400.2" x2="508.4" y2="400.2" stroke="#222" stroke-width="0.6"/>
<text x="377.6" y="414.2" font-size="5.9" fill="#333" font-weight="normal" font-style="normal" text-anchor="end"  stroke="#333" stroke-width="0.12">-36</text>
<line x1="379.4" y1="412.1" x2="380.9" y2="412.1" stroke="#222" stroke-width="0.6"/>
<line x1="509.9" y1="412.1" x2="508.4" y2="412.1" stroke="#222" stroke-width="0.6"/>
<text x="377.6" y="426.1" font-size="5.9" fill="#333" font-weight="normal" font-style="normal" text-anchor="end"  stroke="#333" stroke-width="0.12">-38</text>
<line x1="379.4" y1="423.9" x2="380.9" y2="423.9" stroke="#222" stroke-width="0.6"/>
<line x1="509.9" y1="423.9" x2="508.4" y2="423.9" stroke="#222" stroke-width="0.6"/>
<text x="379.4" y="431.5" font-size="6.2" fill="#333" font-weight="normal" font-style="normal" text-anchor="middle"  stroke="#333" stroke-width="0.12">0</text>
<text x="405.5" y="431.5" font-size="6.2" fill="#333" font-weight="normal" font-style="normal" text-anchor="middle"  stroke="#333" stroke-width="0.12">20</text>
<text x="431.6" y="431.5" font-size="6.2" fill="#333" font-weight="normal" font-style="normal" text-anchor="middle"  stroke="#333" stroke-width="0.12">40</text>
<text x="457.7" y="431.5" font-size="6.2" fill="#333" font-weight="normal" font-style="normal" text-anchor="middle"  stroke="#333" stroke-width="0.12">60</text>
<text x="483.8" y="431.5" font-size="6.2" fill="#333" font-weight="normal" font-style="normal" text-anchor="middle"  stroke="#333" stroke-width="0.12">80</text>
<text x="509.9" y="431.5" font-size="6.2" fill="#333" font-weight="normal" font-style="normal" text-anchor="middle"  stroke="#333" stroke-width="0.12">100</text>
<text x="444.8" y="439.4" font-size="6.4" fill="#333" font-weight="normal" font-style="normal" text-anchor="middle" textLength="57" lengthAdjust="spacingAndGlyphs"  stroke="#333" stroke-width="0.12">SiGe APD Gain (a.u.)</text>
<text x="0.0" y="0.0" font-size="5.0" fill="#444" font-weight="normal" font-style="normal" text-anchor="middle" textLength="28" lengthAdjust="spacingAndGlyphs" transform="translate(364.8,375.8) rotate(-90)" stroke="#444" stroke-width="0.12">Sensitivity (dBm)</text>
<text x="384.8" y="325.8" font-size="9.0" fill="#222" font-weight="bold" font-style="normal" text-anchor="start" textLength="10" lengthAdjust="spacingAndGlyphs"  stroke="#222" stroke-width="0.22">(g)</text>
<rect x="459.8" y="321.8" width="46" height="24.5" fill="#fff" stroke="#222" stroke-width="0.7"/>
<line x1="462.6" y1="326.4" x2="472.4" y2="326.4" stroke="#3a62b4" stroke-width="1.5"/>
<text x="473.6" y="328.2" font-size="5" fill="#444" textLength="26.4" lengthAdjust="spacingAndGlyphs" stroke="#444" stroke-width="0.12">D<tspan font-size="3.2" dy="1.2">dr</tspan><tspan dy="-1.2"> = 1 Gbps</tspan></text>
<line x1="462.6" y1="333.6" x2="472.4" y2="333.6" stroke="#c0501a" stroke-width="1.5"/>
<text x="473.6" y="335.4" font-size="5" fill="#444" textLength="26.4" lengthAdjust="spacingAndGlyphs" stroke="#444" stroke-width="0.12">D<tspan font-size="3.2" dy="1.2">dr</tspan><tspan dy="-1.2"> = 5 Gbps</tspan></text>
<line x1="462.6" y1="340.8" x2="472.4" y2="340.8" stroke="#80e040" stroke-width="1.5"/>
<text x="473.6" y="342.6" font-size="5" fill="#444" textLength="28.4" lengthAdjust="spacingAndGlyphs" stroke="#444" stroke-width="0.12">D<tspan font-size="3.2" dy="1.2">dr</tspan><tspan dy="-1.2"> = 10 Gbps</tspan></text>
</svg>
</body></html>
